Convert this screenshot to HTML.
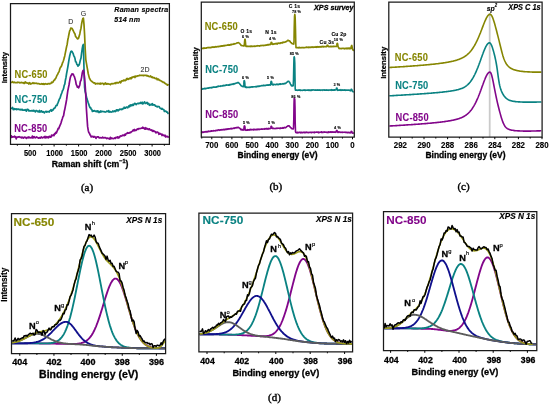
<!DOCTYPE html>
<html><head><meta charset="utf-8"><style>
html,body{margin:0;padding:0;background:#fff;width:550px;height:405px;overflow:hidden}
svg{display:block;will-change:transform;-webkit-font-smoothing:antialiased;filter:blur(0.35px)}
</style></head><body>
<svg width="550" height="405" viewBox="0 0 550 405">
<rect width="550" height="405" fill="#fff"/>
<path d="M10.8,82.3 11.4,82.5 12.0,82.3 12.6,81.7 13.2,82.6 13.8,82.5 14.4,82.1 15.0,82.6 15.6,82.5 16.2,82.6 16.8,82.5 17.4,82.7 18.0,82.2 18.6,82.5 19.2,82.4 19.8,82.9 20.4,82.7 21.0,82.6 21.6,82.4 22.2,82.7 22.8,82.8 23.4,82.7 24.0,83.4 24.6,83.3 25.2,81.9 25.8,82.2 26.4,82.9 27.0,82.9 27.6,83.2 28.2,83.2 28.8,84.0 29.4,82.7 30.0,83.0 30.6,84.0 31.2,83.5 31.8,83.6 32.4,83.1 33.0,82.7 33.6,83.5 34.2,83.5 34.8,83.0 35.4,83.3 36.0,83.5 36.6,83.2 37.2,83.6 37.8,83.7 38.4,83.7 39.0,83.6 39.6,84.0 40.2,84.2 40.8,84.0 41.4,83.6 42.0,84.2 42.6,83.8 43.2,84.3 43.8,83.6 44.4,84.4 45.0,84.0 45.6,83.6 46.2,84.0 46.8,84.1 47.4,84.2 48.0,83.7 48.6,83.6 49.2,84.0 49.8,83.5 50.4,83.6 51.0,83.5 51.6,82.2 52.2,82.6 52.8,82.5 53.4,81.2 54.0,80.3 54.6,80.0 55.2,78.9 55.8,78.2 56.4,76.7 57.0,75.2 57.6,74.5 58.2,73.0 58.8,72.1 59.4,70.5 60.0,68.3 60.6,67.2 61.2,66.6 61.8,65.2 62.4,63.2 63.0,61.8 63.6,60.2 64.2,58.1 64.8,55.7 65.4,52.7 66.0,49.7 66.6,46.6 67.2,44.2 67.8,39.8 68.4,37.2 69.0,34.0 69.6,31.1 70.2,29.8 70.8,28.0 71.4,28.3 72.0,28.4 72.6,29.5 73.2,30.7 73.8,31.9 74.4,33.0 75.0,34.0 75.6,36.6 76.2,37.1 76.8,37.9 77.4,38.9 78.0,38.8 78.6,38.1 79.2,36.0 79.8,33.9 80.4,30.7 81.0,28.2 81.6,24.0 82.2,20.9 82.8,18.7 83.4,18.1 84.0,24.5 84.6,34.9 85.2,49.3 85.8,59.6 86.4,63.2 87.0,66.7 87.6,69.8 88.2,73.5 88.8,75.9 89.4,78.1 90.0,79.2 90.6,80.4 91.2,80.9 91.8,81.2 92.4,82.0 93.0,82.2 93.6,82.9 94.2,82.8 94.8,82.9 95.4,84.0 96.0,83.5 96.6,83.5 97.2,83.8 97.8,83.4 98.4,83.6 99.0,83.8 99.6,83.8 100.2,83.2 100.8,84.1 101.4,83.5 102.0,83.3 102.6,83.4 103.2,83.6 103.8,84.5 104.4,83.4 105.0,83.9 105.6,83.0 106.2,83.9 106.8,84.2 107.4,83.8 108.0,83.6 108.6,84.0 109.2,84.2 109.8,84.2 110.4,84.7 111.0,84.0 111.6,83.6 112.2,83.8 112.8,83.7 113.4,83.7 114.0,83.5 114.6,83.5 115.2,82.6 115.8,83.5 116.4,82.8 117.0,82.3 117.6,82.9 118.2,83.0 118.8,82.5 119.4,82.1 120.0,81.5 120.6,82.8 121.2,81.8 121.8,80.8 122.4,80.8 123.0,80.9 123.6,80.1 124.2,80.6 124.8,80.1 125.4,80.6 126.0,80.3 126.6,78.6 127.2,79.4 127.8,78.5 128.4,79.4 129.0,78.8 129.6,78.7 130.2,77.8 130.8,78.7 131.4,78.6 132.0,77.2 132.6,77.5 133.2,76.9 133.8,77.0 134.4,76.4 135.0,77.5 135.6,76.2 136.2,76.3 136.8,76.5 137.4,75.9 138.0,75.9 138.6,75.7 139.2,75.7 139.8,75.2 140.4,75.4 141.0,75.4 141.6,75.3 142.2,75.4 142.8,75.3 143.4,75.7 144.0,75.3 144.6,75.4 145.2,75.3 145.8,75.4 146.4,75.3 147.0,76.1 147.6,75.6 148.2,75.9 148.8,76.5 149.4,76.6 150.0,76.5 150.6,76.0 151.2,77.2 151.8,77.3 152.4,76.9 153.0,77.9 153.6,77.6 154.2,77.6 154.8,78.3 155.4,78.4 156.0,78.7 156.6,78.2 157.2,79.8 157.8,79.1 158.4,79.0 159.0,80.2 159.6,80.1 160.2,80.7 160.8,80.7 161.4,81.1 162.0,81.6 162.6,81.6 163.2,82.5 163.8,82.4 164.4,82.6 165.0,83.4 165.6,83.9 166.2,84.0 166.8,84.2 167.4,85.2 168.0,84.7 168.6,85.4" fill="none" stroke="#868602" stroke-width="1.7" stroke-linejoin="round"/>
<path d="M10.8,108.5 11.4,108.3 12.0,108.4 12.6,107.4 13.2,109.6 13.8,109.4 14.4,108.7 15.0,109.3 15.6,109.2 16.2,108.8 16.8,109.7 17.4,109.1 18.0,109.1 18.6,109.0 19.2,109.7 19.8,109.4 20.4,109.8 21.0,109.3 21.6,109.8 22.2,109.3 22.8,110.2 23.4,110.0 24.0,110.1 24.6,110.2 25.2,109.6 25.8,110.5 26.4,111.2 27.0,109.4 27.6,109.4 28.2,109.6 28.8,110.8 29.4,110.5 30.0,111.0 30.6,110.9 31.2,110.7 31.8,110.8 32.4,110.6 33.0,111.2 33.6,110.3 34.2,110.7 34.8,111.1 35.4,111.9 36.0,110.7 36.6,110.6 37.2,110.9 37.8,111.7 38.4,111.2 39.0,112.0 39.6,110.5 40.2,112.0 40.8,112.0 41.4,110.8 42.0,111.7 42.6,112.2 43.2,111.7 43.8,112.2 44.4,112.9 45.0,111.9 45.6,111.6 46.2,111.4 46.8,112.1 47.4,111.7 48.0,111.7 48.6,111.7 49.2,112.0 49.8,110.9 50.4,110.4 51.0,109.7 51.6,111.1 52.2,110.2 52.8,110.4 53.4,109.2 54.0,108.3 54.6,108.4 55.2,107.5 55.8,106.1 56.4,105.3 57.0,105.4 57.6,103.5 58.2,102.3 58.8,100.6 59.4,99.0 60.0,98.3 60.6,96.3 61.2,94.3 61.8,93.0 62.4,91.0 63.0,89.8 63.6,88.4 64.2,85.3 64.8,84.1 65.4,80.2 66.0,77.4 66.6,73.5 67.2,70.4 67.8,67.1 68.4,63.5 69.0,59.6 69.6,56.3 70.2,53.9 70.8,51.6 71.4,51.1 72.0,51.5 72.6,52.6 73.2,53.7 73.8,55.9 74.4,56.8 75.0,58.6 75.6,61.8 76.2,62.0 76.8,64.4 77.4,64.7 78.0,66.1 78.6,64.8 79.2,65.0 79.8,62.5 80.4,59.9 81.0,58.1 81.6,53.2 82.2,49.0 82.8,45.6 83.4,44.4 84.0,69.0 84.6,87.4 85.2,91.8 85.8,93.8 86.4,96.6 87.0,99.1 87.6,100.8 88.2,102.7 88.8,104.4 89.4,106.1 90.0,107.6 90.6,107.6 91.2,109.3 91.8,109.6 92.4,111.5 93.0,110.8 93.6,111.2 94.2,110.6 94.8,110.8 95.4,111.4 96.0,111.2 96.6,111.7 97.2,110.8 97.8,111.9 98.4,111.2 99.0,112.5 99.6,111.6 100.2,112.2 100.8,111.0 101.4,111.9 102.0,111.3 102.6,111.5 103.2,111.7 103.8,111.5 104.4,111.8 105.0,112.1 105.6,112.0 106.2,111.7 106.8,111.0 107.4,111.3 108.0,111.6 108.6,110.6 109.2,112.1 109.8,111.6 110.4,111.6 111.0,112.2 111.6,112.0 112.2,111.7 112.8,111.0 113.4,111.6 114.0,111.5 114.6,110.8 115.2,111.6 115.8,111.2 116.4,109.8 117.0,110.6 117.6,109.8 118.2,110.8 118.8,110.4 119.4,109.3 120.0,109.2 120.6,109.4 121.2,109.1 121.8,109.7 122.4,109.2 123.0,108.4 123.6,108.7 124.2,107.2 124.8,108.2 125.4,108.2 126.0,107.5 126.6,107.0 127.2,107.4 127.8,107.8 128.4,106.7 129.0,105.8 129.6,106.8 130.2,104.9 130.8,105.8 131.4,105.0 132.0,105.6 132.6,104.5 133.2,105.4 133.8,104.7 134.4,103.5 135.0,103.3 135.6,103.9 136.2,104.6 136.8,103.8 137.4,103.6 138.0,103.3 138.6,103.7 139.2,103.4 139.8,103.2 140.4,102.5 141.0,103.5 141.6,103.5 142.2,102.2 142.8,104.0 143.4,103.2 144.0,102.6 144.6,101.9 145.2,103.3 145.8,103.3 146.4,102.9 147.0,102.4 147.6,104.0 148.2,103.3 148.8,103.5 149.4,105.3 150.0,105.1 150.6,104.7 151.2,104.2 151.8,104.9 152.4,103.7 153.0,105.1 153.6,104.8 154.2,104.8 154.8,104.8 155.4,106.1 156.0,106.1 156.6,106.4 157.2,107.0 157.8,106.4 158.4,106.5 159.0,106.5 159.6,107.5 160.2,108.4 160.8,108.3 161.4,109.0 162.0,108.4 162.6,109.2 163.2,109.4 163.8,109.5 164.4,111.5 165.0,111.4 165.6,111.0 166.2,111.4 166.8,112.2 167.4,112.0 168.0,113.4 168.6,112.9" fill="none" stroke="#0a8282" stroke-width="1.7" stroke-linejoin="round"/>
<path d="M10.8,138.0 11.4,135.8 12.0,137.3 12.6,136.8 13.2,136.9 13.8,137.0 14.4,136.1 15.0,137.0 15.6,136.7 16.2,138.9 16.8,137.3 17.4,137.1 18.0,137.1 18.6,136.9 19.2,136.7 19.8,137.1 20.4,137.5 21.0,137.2 21.6,137.8 22.2,137.2 22.8,137.4 23.4,138.1 24.0,137.6 24.6,137.1 25.2,137.3 25.8,137.7 26.4,138.4 27.0,137.3 27.6,137.3 28.2,137.9 28.8,137.0 29.4,137.3 30.0,137.9 30.6,137.7 31.2,137.5 31.8,137.8 32.4,136.0 33.0,138.0 33.6,137.0 34.2,136.6 34.8,137.6 35.4,137.8 36.0,137.3 36.6,136.9 37.2,137.5 37.8,137.5 38.4,138.2 39.0,137.9 39.6,137.6 40.2,138.1 40.8,137.4 41.4,137.0 42.0,137.8 42.6,137.8 43.2,137.4 43.8,137.1 44.4,137.6 45.0,136.3 45.6,137.8 46.2,137.7 46.8,136.7 47.4,137.5 48.0,137.0 48.6,137.8 49.2,136.3 49.8,136.6 50.4,137.2 51.0,137.1 51.6,135.1 52.2,135.6 52.8,135.7 53.4,134.8 54.0,135.5 54.6,133.6 55.2,133.8 55.8,132.4 56.4,133.0 57.0,131.4 57.6,130.2 58.2,128.3 58.8,128.6 59.4,126.8 60.0,125.4 60.6,124.2 61.2,122.3 61.8,120.2 62.4,118.5 63.0,116.6 63.6,115.7 64.2,111.8 64.8,109.3 65.4,106.2 66.0,103.0 66.6,99.7 67.2,95.1 67.8,90.9 68.4,87.9 69.0,85.0 69.6,81.4 70.2,78.1 70.8,76.1 71.4,75.0 72.0,73.8 72.6,74.3 73.2,74.1 73.8,75.6 74.4,76.7 75.0,78.7 75.6,80.9 76.2,84.4 76.8,85.5 77.4,87.1 78.0,86.6 78.6,87.8 79.2,86.6 79.8,85.0 80.4,81.2 81.0,80.4 81.6,77.3 82.2,73.3 82.8,71.0 83.4,70.1 84.0,73.1 84.6,78.7 85.2,86.0 85.8,95.7 86.4,108.8 87.0,117.7 87.6,126.4 88.2,130.2 88.8,132.6 89.4,133.1 90.0,134.8 90.6,135.4 91.2,136.9 91.8,136.7 92.4,136.4 93.0,136.4 93.6,137.1 94.2,136.6 94.8,136.6 95.4,137.4 96.0,138.4 96.6,137.2 97.2,137.1 97.8,136.8 98.4,136.8 99.0,137.8 99.6,138.0 100.2,137.6 100.8,137.8 101.4,137.8 102.0,137.9 102.6,137.1 103.2,137.7 103.8,138.0 104.4,137.6 105.0,137.8 105.6,137.7 106.2,138.0 106.8,138.6 107.4,138.0 108.0,138.2 108.6,138.7 109.2,138.6 109.8,139.1 110.4,137.3 111.0,138.7 111.6,138.0 112.2,138.3 112.8,138.6 113.4,138.6 114.0,138.5 114.6,137.9 115.2,138.5 115.8,137.4 116.4,137.4 117.0,137.7 117.6,136.8 118.2,138.0 118.8,137.2 119.4,137.6 120.0,136.3 120.6,135.9 121.2,136.0 121.8,136.1 122.4,135.2 123.0,135.5 123.6,135.1 124.2,135.7 124.8,134.3 125.4,135.0 126.0,133.9 126.6,133.4 127.2,133.3 127.8,132.7 128.4,133.1 129.0,133.2 129.6,132.5 130.2,132.4 130.8,132.6 131.4,131.7 132.0,131.4 132.6,130.9 133.2,130.0 133.8,130.9 134.4,129.5 135.0,130.5 135.6,130.0 136.2,130.3 136.8,129.5 137.4,128.9 138.0,129.3 138.6,128.7 139.2,128.7 139.8,128.7 140.4,128.5 141.0,128.4 141.6,128.0 142.2,128.2 142.8,127.2 143.4,128.2 144.0,127.8 144.6,129.0 145.2,129.2 145.8,127.7 146.4,128.8 147.0,128.8 147.6,128.6 148.2,129.5 148.8,129.2 149.4,128.8 150.0,129.7 150.6,130.0 151.2,130.4 151.8,129.9 152.4,131.1 153.0,131.4 153.6,130.6 154.2,131.1 154.8,131.6 155.4,131.6 156.0,132.9 156.6,132.4 157.2,132.0 157.8,132.3 158.4,132.9 159.0,134.3 159.6,133.3 160.2,133.7 160.8,134.1 161.4,134.1 162.0,135.5 162.6,134.4 163.2,135.3 163.8,135.3 164.4,135.8 165.0,135.2 165.6,136.9 166.2,136.3 166.8,136.6 167.4,136.4 168.0,136.8 168.6,137.8" fill="none" stroke="#82068a" stroke-width="1.7" stroke-linejoin="round"/>
<path d="M10.5,3.5 L169.4,3.5 L169.4,144.3 L10.5,144.3 Z" fill="none" stroke="#1a1a1a" stroke-width="1.25"/>
<line x1="29.6" y1="144.3" x2="29.6" y2="146.5" stroke="#000" stroke-width="1"/>
<text transform="translate(30.200000000000003 155.50) scale(1 1.1)" x="0" y="0" font-family="Liberation Sans" font-size="7.5" font-weight="bold" font-style="normal" text-anchor="middle" fill="#000" stroke="#000" stroke-width="0.12" >500</text>
<line x1="54.1" y1="144.3" x2="54.1" y2="146.5" stroke="#000" stroke-width="1"/>
<text transform="translate(54.7 155.50) scale(1 1.1)" x="0" y="0" font-family="Liberation Sans" font-size="7.5" font-weight="bold" font-style="normal" text-anchor="middle" fill="#000" stroke="#000" stroke-width="0.12" >1000</text>
<line x1="78.6" y1="144.3" x2="78.6" y2="146.5" stroke="#000" stroke-width="1"/>
<text transform="translate(79.19999999999999 155.50) scale(1 1.1)" x="0" y="0" font-family="Liberation Sans" font-size="7.5" font-weight="bold" font-style="normal" text-anchor="middle" fill="#000" stroke="#000" stroke-width="0.12" >1500</text>
<line x1="103.1" y1="144.3" x2="103.1" y2="146.5" stroke="#000" stroke-width="1"/>
<text transform="translate(103.69999999999999 155.50) scale(1 1.1)" x="0" y="0" font-family="Liberation Sans" font-size="7.5" font-weight="bold" font-style="normal" text-anchor="middle" fill="#000" stroke="#000" stroke-width="0.12" >2000</text>
<line x1="127.6" y1="144.3" x2="127.6" y2="146.5" stroke="#000" stroke-width="1"/>
<text transform="translate(128.2 155.50) scale(1 1.1)" x="0" y="0" font-family="Liberation Sans" font-size="7.5" font-weight="bold" font-style="normal" text-anchor="middle" fill="#000" stroke="#000" stroke-width="0.12" >2500</text>
<line x1="152.1" y1="144.3" x2="152.1" y2="146.5" stroke="#000" stroke-width="1"/>
<text transform="translate(152.7 155.50) scale(1 1.1)" x="0" y="0" font-family="Liberation Sans" font-size="7.5" font-weight="bold" font-style="normal" text-anchor="middle" fill="#000" stroke="#000" stroke-width="0.12" >3000</text>
<line x1="17.35" y1="144.3" x2="17.35" y2="145.8" stroke="#000" stroke-width="0.9"/>
<line x1="41.85" y1="144.3" x2="41.85" y2="145.8" stroke="#000" stroke-width="0.9"/>
<line x1="66.35" y1="144.3" x2="66.35" y2="145.8" stroke="#000" stroke-width="0.9"/>
<line x1="90.85" y1="144.3" x2="90.85" y2="145.8" stroke="#000" stroke-width="0.9"/>
<line x1="115.35" y1="144.3" x2="115.35" y2="145.8" stroke="#000" stroke-width="0.9"/>
<line x1="139.85" y1="144.3" x2="139.85" y2="145.8" stroke="#000" stroke-width="0.9"/>
<line x1="164.35" y1="144.3" x2="164.35" y2="145.8" stroke="#000" stroke-width="0.9"/>
<text transform="translate(90 167.20) scale(1 1.1)" x="0" y="0" font-family="Liberation Sans" font-size="8.7" font-weight="bold" font-style="normal" text-anchor="middle" fill="#000" stroke="#000" stroke-width="0.3" >Raman shift (cm<tspan dy="-3.5" font-size="5.5">−1</tspan><tspan dy="3.5">)</tspan></text>
<text x="7.2" y="67.7" font-family="Liberation Sans" font-size="7.6" font-weight="bold" font-style="normal" text-anchor="middle" fill="#000" stroke="#000" stroke-width="0.2" transform="rotate(-90 7.2 67.7)">Intensity</text>
<text transform="translate(14.5 78.30) scale(1 1.1)" x="0" y="0" font-family="Liberation Sans" font-size="9.3" font-weight="bold" font-style="normal" text-anchor="start" fill="#868602" stroke="#868602" stroke-width="0.08" letter-spacing="0.2">NC-650</text>
<text transform="translate(14.5 103.40) scale(1 1.1)" x="0" y="0" font-family="Liberation Sans" font-size="9.3" font-weight="bold" font-style="normal" text-anchor="start" fill="#0a8282" stroke="#0a8282" stroke-width="0.08" letter-spacing="0.2">NC-750</text>
<text transform="translate(14.2 132.00) scale(1 1.1)" x="0" y="0" font-family="Liberation Sans" font-size="9.3" font-weight="bold" font-style="normal" text-anchor="start" fill="#82068a" stroke="#82068a" stroke-width="0.08" letter-spacing="0.2">NC-850</text>
<text transform="translate(70.8 24.00) scale(1 1.1)" x="0" y="0" font-family="Liberation Sans" font-size="7.0" font-weight="normal" font-style="normal" text-anchor="middle" fill="#3a3a3a" stroke="#3a3a3a" stroke-width="0.12" >D</text>
<text transform="translate(83.4 15.70) scale(1 1.1)" x="0" y="0" font-family="Liberation Sans" font-size="7.0" font-weight="normal" font-style="normal" text-anchor="middle" fill="#3a3a3a" stroke="#3a3a3a" stroke-width="0.12" >G</text>
<text transform="translate(145 72.00) scale(1 1.1)" x="0" y="0" font-family="Liberation Sans" font-size="7.0" font-weight="normal" font-style="normal" text-anchor="middle" fill="#3a3a3a" stroke="#3a3a3a" stroke-width="0.12" >2D</text>
<text x="114.3" y="11.8" font-family="Liberation Sans" font-size="7.1" font-weight="bold" font-style="italic" text-anchor="start" fill="#000" stroke="#000" stroke-width="0.15" letter-spacing="0.25">Raman spectra</text>
<text x="114.3" y="21.6" font-family="Liberation Sans" font-size="7.1" font-weight="bold" font-style="italic" text-anchor="start" fill="#000" stroke="#000" stroke-width="0.15" letter-spacing="0.25">514 nm</text>
<text x="87" y="190.6" font-family="Liberation Serif" font-size="11" font-weight="normal" font-style="normal" text-anchor="middle" fill="#000" stroke="#000" stroke-width="0.4" >(a)</text>
<path d="M201.5,48.4 201.8,48.6 202.0,48.5 202.2,48.3 202.5,48.3 202.8,48.2 203.0,48.4 203.2,48.2 203.5,48.3 203.8,47.9 204.0,48.4 204.2,48.1 204.5,48.2 204.8,48.1 205.0,48.0 205.2,48.1 205.5,48.2 205.8,48.0 206.0,48.0 206.2,48.1 206.5,47.8 206.8,47.7 207.0,47.9 207.2,47.8 207.5,47.5 207.8,47.7 208.0,47.7 208.2,47.6 208.5,47.5 208.8,47.7 209.0,47.8 209.2,47.6 209.5,47.5 209.8,47.6 210.0,47.7 210.2,47.5 210.5,47.6 210.8,47.6 211.0,47.4 211.2,47.3 211.5,47.4 211.8,47.4 212.0,47.5 212.2,47.1 212.5,47.2 212.8,47.1 213.0,46.9 213.2,47.2 213.5,47.2 213.8,47.0 214.0,47.3 214.2,47.2 214.5,47.1 214.8,47.1 215.0,47.1 215.2,46.7 215.5,47.0 215.8,47.0 216.0,46.6 216.2,46.9 216.5,46.7 216.8,46.9 217.0,46.6 217.2,46.7 217.5,46.7 217.8,46.5 218.0,46.7 218.2,46.5 218.5,46.6 218.8,46.4 219.0,46.6 219.2,46.5 219.5,46.3 219.8,46.4 220.0,46.5 220.2,46.5 220.5,46.0 220.8,46.3 221.0,46.2 221.2,46.1 221.5,45.9 221.8,46.2 222.0,45.8 222.2,46.1 222.5,46.1 222.8,45.7 223.0,45.8 223.2,45.6 223.5,45.8 223.8,46.0 224.0,46.0 224.2,45.4 224.5,45.6 224.8,45.7 225.0,45.8 225.2,45.6 225.5,45.4 225.8,45.5 226.0,45.4 226.2,45.3 226.5,45.2 226.8,45.4 227.0,45.3 227.2,45.2 227.5,45.1 227.8,44.9 228.0,45.0 228.2,45.2 228.5,45.0 228.8,44.7 229.0,45.1 229.2,45.0 229.5,45.1 229.8,44.8 230.0,44.7 230.2,44.5 230.5,44.8 230.8,45.0 231.0,44.4 231.2,44.4 231.5,44.6 231.8,44.3 232.0,44.3 232.2,44.3 232.5,44.3 232.8,44.4 233.0,44.2 233.2,44.3 233.5,44.0 233.8,44.1 234.0,43.6 234.2,43.7 234.5,44.0 234.8,43.7 235.0,43.8 235.2,43.7 235.5,43.8 235.8,43.6 236.0,43.5 236.2,43.3 236.5,43.1 236.8,43.0 237.0,43.0 237.2,42.8 237.5,42.9 237.8,42.9 238.0,42.9 238.2,42.8 238.5,42.5 238.8,42.8 239.0,42.9 239.2,43.2 239.5,43.4 239.8,43.5 240.0,43.7 240.2,44.4 240.5,44.6 240.8,45.0 241.0,45.4 241.2,45.1 241.5,45.5 241.8,45.7 242.0,45.7 242.2,45.8 242.5,45.8 242.8,45.8 243.0,45.6 243.2,45.9 243.5,45.8 243.8,46.0 244.0,45.9 244.2,45.9 244.5,42.5 244.8,39.4 245.0,39.1 245.2,39.5 245.5,42.5 245.8,46.1 246.0,46.3 246.2,46.5 246.5,46.4 246.8,46.5 247.0,46.2 247.2,46.5 247.5,46.3 247.8,46.3 248.0,46.4 248.2,46.3 248.5,46.4 248.8,46.3 249.0,46.2 249.2,46.2 249.5,46.5 249.8,46.3 250.0,46.2 250.2,46.3 250.5,46.1 250.8,46.6 251.0,46.1 251.2,46.4 251.5,46.4 251.8,46.1 252.0,46.3 252.2,46.4 252.5,46.3 252.8,46.3 253.0,46.4 253.2,46.2 253.5,46.2 253.8,46.2 254.0,46.3 254.2,46.0 254.5,46.3 254.8,46.1 255.0,46.0 255.2,46.2 255.5,46.4 255.8,46.2 256.0,46.0 256.2,46.2 256.5,46.0 256.8,46.0 257.0,46.0 257.2,45.7 257.5,46.0 257.8,45.8 258.0,45.8 258.2,45.7 258.5,45.7 258.8,45.7 259.0,46.0 259.2,46.1 259.5,45.8 259.8,46.0 260.0,45.7 260.2,45.5 260.5,45.7 260.8,45.8 261.0,45.6 261.2,45.7 261.5,45.7 261.8,45.5 262.0,45.3 262.2,45.5 262.5,45.5 262.8,45.4 263.0,45.6 263.2,45.7 263.5,45.3 263.8,45.5 264.0,45.5 264.2,45.4 264.5,45.4 264.8,45.2 265.0,45.3 265.2,45.5 265.5,45.2 265.8,45.0 266.0,45.2 266.2,45.2 266.5,45.1 266.8,44.9 267.0,45.2 267.2,44.7 267.5,44.9 267.8,44.8 268.0,44.6 268.2,44.9 268.5,44.8 268.8,44.5 269.0,44.8 269.2,44.6 269.5,44.3 269.8,44.5 270.0,44.6 270.2,44.6 270.5,44.5 270.8,44.1 271.0,42.9 271.2,42.3 271.5,42.5 271.8,42.6 272.0,43.8 272.2,44.3 272.5,44.0 272.8,44.1 273.0,44.4 273.2,44.2 273.5,44.0 273.8,44.1 274.0,43.9 274.2,44.0 274.5,43.8 274.8,43.9 275.0,43.6 275.2,44.0 275.5,43.7 275.8,43.5 276.0,43.7 276.2,43.6 276.5,43.7 276.8,43.4 277.0,43.6 277.2,44.1 277.5,43.3 277.8,43.5 278.0,43.4 278.2,43.4 278.5,43.1 278.8,43.1 279.0,43.3 279.2,43.2 279.5,43.4 279.8,43.0 280.0,43.1 280.2,43.5 280.5,42.9 280.8,42.8 281.0,42.9 281.2,42.8 281.5,42.9 281.8,42.8 282.0,42.6 282.2,42.7 282.5,43.0 282.8,42.7 283.0,42.0 283.2,42.4 283.5,42.2 283.8,42.4 284.0,42.2 284.2,42.4 284.5,42.2 284.8,42.2 285.0,42.0 285.2,41.9 285.5,41.9 285.8,41.9 286.0,41.7 286.2,41.4 286.5,41.5 286.8,41.2 287.0,41.1 287.2,40.8 287.5,40.8 287.8,40.6 288.0,40.2 288.2,40.8 288.5,40.7 288.8,40.6 289.0,40.9 289.2,40.9 289.5,41.1 289.8,40.9 290.0,41.5 290.2,41.8 290.5,42.3 290.8,42.6 291.0,42.8 291.2,42.7 291.5,42.8 291.8,43.4 292.0,43.5 292.2,43.8 292.5,43.7 292.8,43.8 293.0,43.7 293.2,44.0 293.5,43.9 293.8,44.1 294.0,41.6 294.2,28.6 294.5,16.7 294.8,14.3 295.0,15.4 295.2,18.1 295.5,28.7 295.8,43.2 296.0,47.8 296.2,47.7 296.5,47.8 296.8,47.8 297.0,47.6 297.2,47.6 297.5,47.7 297.8,47.7 298.0,47.8 298.2,47.5 298.5,47.6 298.8,47.7 299.0,47.9 299.2,47.3 299.5,47.7 299.8,47.6 300.0,47.7 300.2,47.6 300.5,47.7 300.8,47.9 301.0,47.7 301.2,47.7 301.5,47.7 301.8,47.5 302.0,47.7 302.2,47.6 302.5,47.5 302.8,47.6 303.0,47.5 303.2,47.7 303.5,47.6 303.8,47.5 304.0,47.8 304.2,47.7 304.5,47.7 304.8,47.6 305.0,47.5 305.2,47.4 305.5,47.5 305.8,47.6 306.0,47.5 306.2,47.2 306.5,47.5 306.8,47.2 307.0,47.5 307.2,47.2 307.5,47.2 307.8,47.4 308.0,47.4 308.2,47.1 308.5,47.5 308.8,47.7 309.0,47.1 309.2,47.6 309.5,47.2 309.8,47.2 310.0,47.3 310.2,47.1 310.5,47.5 310.8,47.3 311.0,47.2 311.2,47.2 311.5,47.0 311.8,47.2 312.0,47.4 312.2,46.9 312.5,47.1 312.8,47.2 313.0,47.3 313.2,47.4 313.5,47.1 313.8,47.0 314.0,47.2 314.2,47.1 314.5,47.1 314.8,47.2 315.0,47.3 315.2,47.1 315.5,47.0 315.8,47.1 316.0,46.7 316.2,47.0 316.5,46.8 316.8,47.4 317.0,47.1 317.2,47.0 317.5,46.9 317.8,46.6 318.0,47.0 318.2,47.2 318.5,46.8 318.8,47.0 319.0,47.0 319.2,46.6 319.5,47.0 319.8,47.1 320.0,46.9 320.2,46.8 320.5,46.9 320.8,46.6 321.0,46.8 321.2,47.0 321.5,46.6 321.8,46.9 322.0,46.7 322.2,46.4 322.5,46.7 322.8,46.6 323.0,46.8 323.2,46.5 323.5,46.9 323.8,46.6 324.0,46.7 324.2,46.6 324.5,46.6 324.8,46.8 325.0,46.7 325.2,46.6 325.5,46.5 325.8,46.8 326.0,46.7 326.2,46.6 326.5,46.6 326.8,46.3 327.0,45.6 327.2,45.2 327.5,45.4 327.8,45.4 328.0,45.6 328.2,46.5 328.5,46.7 328.8,46.6 329.0,46.7 329.2,46.5 329.5,46.5 329.8,46.6 330.0,46.5 330.2,46.6 330.5,46.3 330.8,46.7 331.0,46.4 331.2,46.5 331.5,46.3 331.8,46.6 332.0,46.6 332.2,46.6 332.5,46.6 332.8,46.2 333.0,46.3 333.2,46.4 333.5,46.3 333.8,46.6 334.0,46.4 334.2,46.4 334.5,46.5 334.8,46.3 335.0,46.3 335.2,46.3 335.5,46.5 335.8,46.5 336.0,46.5 336.2,46.6 336.5,46.2 336.8,45.2 337.0,43.7 337.2,43.3 337.5,43.5 337.8,44.7 338.0,46.5 338.2,47.0 338.5,47.4 338.8,47.9 339.0,48.5 339.2,48.4 339.5,48.6 339.8,48.7 340.0,48.4 340.2,48.4 340.5,48.5 340.8,48.6 341.0,48.6 341.2,48.5 341.5,48.6 341.8,48.3 342.0,48.4 342.2,48.5 342.5,48.4 342.8,48.3 343.0,48.3 343.2,48.4 343.5,48.5 343.8,48.3 344.0,48.5 344.2,48.8 344.5,48.5 344.8,48.7 345.0,48.5 345.2,48.3 345.5,48.5 345.8,48.4 346.0,48.6 346.2,48.3 346.5,48.7 346.8,48.6 347.0,48.2 347.2,48.6 347.5,48.7 347.8,48.4 348.0,48.6 348.2,48.2 348.5,48.5 348.8,48.3 349.0,48.6 349.2,48.2 349.5,48.1 349.8,48.6 350.0,48.8 350.2,48.4 350.5,48.6 350.8,48.5 351.0,48.2 351.2,46.6 351.5,45.8 351.8,45.4 352.0,46.1 352.2,48.0 352.5,49.1 352.8,49.8 353.0,50.1 353.2,49.8 353.5,50.4 353.8,50.3" fill="none" stroke="#868602" stroke-width="1.6" stroke-linejoin="round"/>
<path d="M201.5,89.1 201.8,89.2 202.0,89.1 202.2,89.1 202.5,89.2 202.8,88.7 203.0,88.8 203.2,88.6 203.5,88.8 203.8,88.9 204.0,88.7 204.2,88.8 204.5,88.4 204.8,88.6 205.0,88.4 205.2,88.8 205.5,88.6 205.8,88.6 206.0,88.4 206.2,88.5 206.5,88.4 206.8,88.2 207.0,88.2 207.2,88.2 207.5,88.1 207.8,88.1 208.0,88.1 208.2,88.0 208.5,88.1 208.8,87.8 209.0,88.1 209.2,87.8 209.5,87.8 209.8,87.6 210.0,87.8 210.2,87.7 210.5,87.7 210.8,87.6 211.0,87.7 211.2,87.9 211.5,87.6 211.8,87.4 212.0,87.6 212.2,87.4 212.5,87.5 212.8,87.5 213.0,87.3 213.2,87.0 213.5,87.2 213.8,87.3 214.0,87.1 214.2,87.2 214.5,87.2 214.8,87.0 215.0,87.2 215.2,87.2 215.5,87.1 215.8,87.1 216.0,87.0 216.2,87.1 216.5,86.8 216.8,86.7 217.0,86.8 217.2,86.5 217.5,86.4 217.8,86.4 218.0,86.6 218.2,86.6 218.5,86.2 218.8,86.1 219.0,86.3 219.2,86.3 219.5,86.3 219.8,86.3 220.0,86.4 220.2,86.2 220.5,86.2 220.8,85.9 221.0,85.9 221.2,86.0 221.5,86.1 221.8,86.0 222.0,86.0 222.2,86.0 222.5,85.9 222.8,85.5 223.0,85.6 223.2,85.8 223.5,85.7 223.8,85.4 224.0,85.8 224.2,85.5 224.5,85.5 224.8,85.5 225.0,85.5 225.2,85.2 225.5,85.5 225.8,85.3 226.0,85.2 226.2,85.2 226.5,84.9 226.8,85.1 227.0,85.2 227.2,85.0 227.5,85.0 227.8,85.0 228.0,85.0 228.2,85.1 228.5,84.9 228.8,84.8 229.0,84.9 229.2,85.1 229.5,84.7 229.8,84.8 230.0,84.4 230.2,84.8 230.5,84.6 230.8,84.7 231.0,84.5 231.2,84.3 231.5,84.5 231.8,84.4 232.0,84.1 232.2,84.0 232.5,84.2 232.8,84.1 233.0,84.5 233.2,83.9 233.5,83.9 233.8,83.9 234.0,83.6 234.2,83.7 234.5,84.0 234.8,83.7 235.0,83.5 235.2,83.3 235.5,83.5 235.8,83.4 236.0,83.3 236.2,83.1 236.5,83.1 236.8,83.0 237.0,82.8 237.2,82.9 237.5,82.5 237.8,82.5 238.0,82.7 238.2,82.7 238.5,82.6 238.8,82.9 239.0,83.2 239.2,83.4 239.5,83.6 239.8,84.0 240.0,84.3 240.2,84.4 240.5,84.9 240.8,85.4 241.0,85.4 241.2,85.8 241.5,86.0 241.8,86.0 242.0,86.1 242.2,86.4 242.5,86.5 242.8,86.6 243.0,86.4 243.2,86.7 243.5,86.7 243.8,84.4 244.0,81.0 244.2,80.6 244.5,80.8 244.8,83.0 245.0,86.5 245.2,87.2 245.5,87.2 245.8,86.9 246.0,87.0 246.2,87.6 246.5,87.1 246.8,87.0 247.0,87.2 247.2,87.5 247.5,87.3 247.8,87.3 248.0,87.2 248.2,87.2 248.5,87.4 248.8,87.4 249.0,87.2 249.2,87.3 249.5,87.4 249.8,87.1 250.0,87.2 250.2,87.2 250.5,87.0 250.8,87.3 251.0,87.1 251.2,87.0 251.5,86.8 251.8,86.8 252.0,87.2 252.2,86.8 252.5,87.0 252.8,86.9 253.0,87.0 253.2,87.0 253.5,86.7 253.8,86.8 254.0,86.8 254.2,86.8 254.5,86.8 254.8,86.7 255.0,86.8 255.2,86.9 255.5,86.7 255.8,86.5 256.0,86.6 256.2,86.6 256.5,86.6 256.8,86.8 257.0,86.4 257.2,86.4 257.5,86.3 257.8,86.3 258.0,86.2 258.2,86.5 258.5,86.3 258.8,86.1 259.0,86.5 259.2,86.0 259.5,86.2 259.8,86.2 260.0,86.1 260.2,86.0 260.5,86.0 260.8,85.9 261.0,86.0 261.2,85.5 261.5,85.8 261.8,85.8 262.0,85.7 262.2,85.5 262.5,85.7 262.8,85.6 263.0,85.8 263.2,85.8 263.5,85.6 263.8,85.2 264.0,85.5 264.2,85.3 264.5,85.5 264.8,85.7 265.0,85.4 265.2,85.6 265.5,85.5 265.8,85.4 266.0,85.1 266.2,85.2 266.5,85.0 266.8,85.3 267.0,85.2 267.2,85.3 267.5,85.1 267.8,84.8 268.0,85.1 268.2,85.1 268.5,85.2 268.8,84.8 269.0,84.8 269.2,84.9 269.5,84.7 269.8,84.7 270.0,84.7 270.2,85.2 270.5,84.6 270.8,83.3 271.0,81.5 271.2,81.3 271.5,81.6 271.8,82.6 272.0,84.5 272.2,84.7 272.5,84.7 272.8,84.5 273.0,84.4 273.2,84.9 273.5,84.5 273.8,84.7 274.0,84.5 274.2,84.5 274.5,84.5 274.8,84.3 275.0,84.5 275.2,84.6 275.5,84.6 275.8,84.5 276.0,84.6 276.2,84.5 276.5,84.4 276.8,84.1 277.0,84.3 277.2,84.6 277.5,84.4 277.8,84.5 278.0,84.3 278.2,84.2 278.5,84.6 278.8,84.3 279.0,84.5 279.2,84.3 279.5,84.2 279.8,83.9 280.0,84.2 280.2,83.9 280.5,83.8 280.8,84.3 281.0,84.2 281.2,84.1 281.5,84.0 281.8,84.0 282.0,84.0 282.2,84.0 282.5,83.9 282.8,84.0 283.0,83.5 283.2,83.9 283.5,83.7 283.8,83.9 284.0,83.9 284.2,83.5 284.5,83.7 284.8,83.7 285.0,83.4 285.2,83.4 285.5,83.4 285.8,83.0 286.0,83.1 286.2,83.0 286.5,82.6 286.8,82.2 287.0,82.1 287.2,82.1 287.5,81.9 287.8,81.4 288.0,81.2 288.2,81.2 288.5,81.2 288.8,81.2 289.0,81.5 289.2,81.9 289.5,82.4 289.8,82.3 290.0,83.3 290.2,83.6 290.5,84.2 290.8,84.5 291.0,85.0 291.2,85.5 291.5,85.1 291.8,85.9 292.0,85.8 292.2,85.6 292.5,85.5 292.8,86.0 293.0,85.8 293.2,85.8 293.5,79.5 293.8,64.8 294.0,57.3 294.2,56.8 294.5,58.0 294.8,63.2 295.0,77.5 295.2,88.9 295.5,90.3 295.8,90.0 296.0,90.2 296.2,90.2 296.5,90.1 296.8,90.0 297.0,90.1 297.2,90.2 297.5,90.2 297.8,90.4 298.0,90.1 298.2,90.1 298.5,90.1 298.8,90.1 299.0,90.1 299.2,89.9 299.5,90.2 299.8,90.3 300.0,90.4 300.2,90.0 300.5,90.2 300.8,90.5 301.0,90.2 301.2,90.2 301.5,90.2 301.8,90.3 302.0,90.3 302.2,90.5 302.5,90.3 302.8,90.2 303.0,90.0 303.2,90.1 303.5,90.1 303.8,90.1 304.0,90.0 304.2,90.4 304.5,90.0 304.8,90.2 305.0,90.0 305.2,90.2 305.5,90.4 305.8,90.0 306.0,90.2 306.2,90.2 306.5,90.2 306.8,90.2 307.0,90.1 307.2,90.1 307.5,90.1 307.8,90.0 308.0,90.0 308.2,90.3 308.5,90.0 308.8,90.2 309.0,90.2 309.2,90.0 309.5,90.3 309.8,90.0 310.0,90.2 310.2,90.4 310.5,90.0 310.8,90.0 311.0,90.0 311.2,90.5 311.5,90.1 311.8,89.9 312.0,90.2 312.2,90.1 312.5,90.1 312.8,90.0 313.0,89.8 313.2,90.0 313.5,90.0 313.8,89.9 314.0,89.9 314.2,90.0 314.5,90.2 314.8,90.2 315.0,90.2 315.2,90.0 315.5,89.9 315.8,90.1 316.0,90.2 316.2,90.2 316.5,90.1 316.8,90.1 317.0,90.1 317.2,89.9 317.5,90.0 317.8,90.2 318.0,89.9 318.2,90.1 318.5,90.2 318.8,90.1 319.0,90.1 319.2,89.9 319.5,90.1 319.8,90.0 320.0,90.2 320.2,90.1 320.5,90.1 320.8,90.3 321.0,90.1 321.2,90.0 321.5,90.0 321.8,90.1 322.0,90.0 322.2,90.3 322.5,90.1 322.8,90.0 323.0,90.0 323.2,89.9 323.5,90.0 323.8,90.2 324.0,90.2 324.2,90.0 324.5,90.1 324.8,89.8 325.0,90.2 325.2,90.0 325.5,90.2 325.8,90.0 326.0,90.0 326.2,90.1 326.5,89.9 326.8,90.2 327.0,90.1 327.2,90.1 327.5,90.1 327.8,90.0 328.0,90.1 328.2,90.0 328.5,90.3 328.8,90.0 329.0,90.1 329.2,90.0 329.5,90.0 329.8,90.0 330.0,90.2 330.2,90.0 330.5,90.2 330.8,90.0 331.0,90.0 331.2,89.7 331.5,90.1 331.8,90.3 332.0,90.0 332.2,90.2 332.5,90.1 332.8,89.9 333.0,90.1 333.2,89.9 333.5,90.0 333.8,90.2 334.0,90.0 334.2,89.8 334.5,90.2 334.8,89.9 335.0,90.0 335.2,90.0 335.5,90.0 335.8,89.9 336.0,89.6 336.2,89.1 336.5,88.1 336.8,88.1 337.0,88.0 337.2,89.3 337.5,90.2 337.8,90.2 338.0,90.4 338.2,90.3 338.5,90.1 338.8,90.0 339.0,90.2 339.2,90.0 339.5,90.1 339.8,89.9 340.0,90.1 340.2,90.3 340.5,90.0 340.8,90.1 341.0,89.7 341.2,90.3 341.5,90.1 341.8,90.3 342.0,90.1 342.2,90.0 342.5,89.9 342.8,90.2 343.0,90.1 343.2,90.0 343.5,90.1 343.8,90.0 344.0,90.2 344.2,90.1 344.5,89.9 344.8,90.1 345.0,90.1 345.2,90.4 345.5,90.1 345.8,90.0 346.0,90.2 346.2,90.1 346.5,90.2 346.8,90.2 347.0,90.1 347.2,90.2 347.5,90.2 347.8,90.1 348.0,90.2 348.2,90.3 348.5,90.0 348.8,90.1 349.0,90.2 349.2,90.3 349.5,90.4 349.8,90.2 350.0,90.5 350.2,90.6 350.5,90.8 350.8,90.5 351.0,90.1 351.2,89.2 351.5,89.3 351.8,89.6 352.0,89.7 352.2,91.0 352.5,91.4 352.8,91.6 353.0,91.5 353.2,91.8 353.5,91.8 353.8,91.7" fill="none" stroke="#0a8282" stroke-width="1.6" stroke-linejoin="round"/>
<path d="M201.5,132.6 201.8,131.8 202.0,132.4 202.2,132.2 202.5,132.4 202.8,132.2 203.0,132.4 203.2,132.1 203.5,132.0 203.8,132.1 204.0,132.1 204.2,131.9 204.5,131.9 204.8,132.0 205.0,132.0 205.2,131.8 205.5,131.8 205.8,131.5 206.0,132.0 206.2,131.7 206.5,131.9 206.8,131.7 207.0,131.9 207.2,131.8 207.5,131.6 207.8,131.8 208.0,131.4 208.2,131.7 208.5,131.2 208.8,131.5 209.0,131.5 209.2,131.4 209.5,131.3 209.8,131.2 210.0,131.2 210.2,131.4 210.5,131.3 210.8,131.1 211.0,130.9 211.2,131.2 211.5,130.8 211.8,131.0 212.0,130.9 212.2,131.1 212.5,131.0 212.8,131.0 213.0,130.9 213.2,130.7 213.5,130.9 213.8,131.0 214.0,130.7 214.2,130.8 214.5,130.7 214.8,130.8 215.0,130.7 215.2,130.7 215.5,130.6 215.8,130.8 216.0,130.5 216.2,130.4 216.5,130.4 216.8,130.5 217.0,130.3 217.2,130.3 217.5,130.4 217.8,130.5 218.0,130.3 218.2,129.8 218.5,130.0 218.8,130.0 219.0,129.9 219.2,130.0 219.5,130.3 219.8,130.0 220.0,129.9 220.2,130.1 220.5,129.9 220.8,129.9 221.0,129.8 221.2,129.8 221.5,129.9 221.8,129.5 222.0,129.5 222.2,129.9 222.5,129.8 222.8,129.6 223.0,129.5 223.2,129.6 223.5,129.4 223.8,129.5 224.0,129.8 224.2,129.5 224.5,129.6 224.8,129.4 225.0,129.5 225.2,129.6 225.5,129.1 225.8,129.3 226.0,129.3 226.2,129.3 226.5,129.5 226.8,129.3 227.0,128.9 227.2,129.1 227.5,129.0 227.8,128.9 228.0,129.3 228.2,128.8 228.5,129.0 228.8,128.8 229.0,129.0 229.2,128.9 229.5,128.9 229.8,128.8 230.0,128.9 230.2,128.6 230.5,128.6 230.8,128.5 231.0,128.8 231.2,128.6 231.5,128.4 231.8,128.5 232.0,128.9 232.2,128.5 232.5,128.6 232.8,128.5 233.0,128.4 233.2,128.2 233.5,128.2 233.8,128.2 234.0,127.9 234.2,128.5 234.5,128.2 234.8,128.1 235.0,128.0 235.2,127.8 235.5,128.0 235.8,127.8 236.0,127.8 236.2,127.5 236.5,127.7 236.8,127.9 237.0,127.5 237.2,127.6 237.5,127.4 237.8,127.6 238.0,127.6 238.2,127.4 238.5,127.4 238.8,127.6 239.0,127.7 239.2,127.7 239.5,128.1 239.8,128.3 240.0,128.3 240.2,128.6 240.5,129.3 240.8,129.2 241.0,129.3 241.2,129.9 241.5,129.6 241.8,129.4 242.0,129.6 242.2,129.7 242.5,130.0 242.8,130.1 243.0,129.6 243.2,130.1 243.5,129.8 243.8,129.9 244.0,127.9 244.2,126.1 244.5,125.9 244.8,126.1 245.0,127.6 245.2,129.9 245.5,130.1 245.8,130.1 246.0,130.3 246.2,130.1 246.5,130.0 246.8,130.2 247.0,129.9 247.2,129.7 247.5,129.6 247.8,130.1 248.0,130.0 248.2,130.0 248.5,129.8 248.8,129.9 249.0,130.1 249.2,129.9 249.5,129.6 249.8,129.7 250.0,130.0 250.2,129.6 250.5,129.4 250.8,129.4 251.0,129.5 251.2,129.9 251.5,129.7 251.8,129.6 252.0,129.5 252.2,129.7 252.5,129.7 252.8,129.6 253.0,129.6 253.2,129.5 253.5,129.9 253.8,129.3 254.0,129.6 254.2,129.4 254.5,129.7 254.8,129.5 255.0,129.6 255.2,129.6 255.5,129.6 255.8,129.7 256.0,129.3 256.2,129.6 256.5,129.4 256.8,129.5 257.0,129.7 257.2,129.6 257.5,129.7 257.8,129.1 258.0,129.2 258.2,129.5 258.5,129.2 258.8,129.3 259.0,129.6 259.2,129.4 259.5,129.2 259.8,129.3 260.0,129.4 260.2,129.3 260.5,129.2 260.8,129.2 261.0,129.0 261.2,129.2 261.5,129.0 261.8,129.2 262.0,129.2 262.2,129.0 262.5,129.2 262.8,129.2 263.0,129.1 263.2,129.2 263.5,129.0 263.8,129.0 264.0,129.0 264.2,129.0 264.5,129.2 264.8,128.6 265.0,128.9 265.2,128.6 265.5,128.9 265.8,129.0 266.0,128.9 266.2,129.0 266.5,128.9 266.8,128.4 267.0,128.7 267.2,129.1 267.5,129.0 267.8,128.8 268.0,128.5 268.2,129.1 268.5,128.4 268.8,128.8 269.0,128.7 269.2,128.7 269.5,128.5 269.8,128.6 270.0,128.8 270.2,128.6 270.5,128.4 270.8,127.7 271.0,126.5 271.2,126.3 271.5,126.2 271.8,127.1 272.0,128.3 272.2,128.3 272.5,128.5 272.8,128.5 273.0,128.5 273.2,128.2 273.5,128.4 273.8,128.5 274.0,128.6 274.2,128.5 274.5,128.5 274.8,128.5 275.0,128.6 275.2,128.7 275.5,128.5 275.8,128.3 276.0,128.5 276.2,128.1 276.5,128.4 276.8,128.3 277.0,128.3 277.2,128.4 277.5,128.3 277.8,128.1 278.0,128.3 278.2,128.2 278.5,128.3 278.8,128.3 279.0,128.1 279.2,128.4 279.5,128.4 279.8,128.2 280.0,128.3 280.2,128.0 280.5,128.1 280.8,128.3 281.0,127.9 281.2,128.1 281.5,128.0 281.8,128.3 282.0,128.3 282.2,128.0 282.5,128.1 282.8,127.6 283.0,128.1 283.2,128.0 283.5,128.1 283.8,127.6 284.0,127.9 284.2,127.8 284.5,127.4 284.8,127.7 285.0,127.8 285.2,127.9 285.5,127.7 285.8,127.5 286.0,127.5 286.2,127.3 286.5,126.9 286.8,126.6 287.0,126.5 287.2,126.3 287.5,126.3 287.8,125.8 288.0,126.0 288.2,125.8 288.5,125.9 288.8,125.7 289.0,125.8 289.2,126.1 289.5,126.5 289.8,126.6 290.0,127.0 290.2,127.1 290.5,127.5 290.8,127.7 291.0,127.8 291.2,128.2 291.5,128.3 291.8,128.7 292.0,128.6 292.2,128.7 292.5,128.7 292.8,129.0 293.0,129.0 293.2,129.0 293.5,128.0 293.8,119.1 294.0,104.2 294.2,98.3 294.5,98.5 294.8,99.4 295.0,106.7 295.2,122.4 295.5,131.6 295.8,132.5 296.0,132.6 296.2,132.4 296.5,132.4 296.8,132.5 297.0,132.7 297.2,132.9 297.5,132.3 297.8,132.5 298.0,132.4 298.2,132.7 298.5,132.6 298.8,132.7 299.0,132.3 299.2,132.5 299.5,132.4 299.8,132.3 300.0,132.5 300.2,132.3 300.5,132.8 300.8,132.5 301.0,132.3 301.2,132.4 301.5,132.7 301.8,132.4 302.0,132.6 302.2,132.6 302.5,132.6 302.8,132.6 303.0,132.4 303.2,132.4 303.5,132.2 303.8,132.4 304.0,132.5 304.2,132.4 304.5,132.4 304.8,132.3 305.0,132.8 305.2,132.4 305.5,132.3 305.8,132.3 306.0,132.4 306.2,132.5 306.5,132.1 306.8,132.5 307.0,132.3 307.2,132.4 307.5,132.6 307.8,132.5 308.0,132.3 308.2,132.4 308.5,132.7 308.8,132.6 309.0,132.5 309.2,132.4 309.5,132.5 309.8,132.4 310.0,132.3 310.2,132.2 310.5,132.4 310.8,132.4 311.0,132.5 311.2,132.3 311.5,132.6 311.8,132.3 312.0,132.5 312.2,132.4 312.5,132.3 312.8,132.2 313.0,132.3 313.2,132.3 313.5,132.5 313.8,132.2 314.0,132.1 314.2,132.3 314.5,132.6 314.8,132.6 315.0,132.2 315.2,132.3 315.5,132.3 315.8,132.2 316.0,132.3 316.2,132.2 316.5,132.1 316.8,132.2 317.0,132.2 317.2,132.3 317.5,132.1 317.8,132.3 318.0,132.1 318.2,132.1 318.5,132.1 318.8,132.8 319.0,132.4 319.2,132.4 319.5,132.4 319.8,132.2 320.0,132.2 320.2,132.3 320.5,132.3 320.8,132.3 321.0,132.4 321.2,131.8 321.5,132.1 321.8,132.3 322.0,132.1 322.2,132.2 322.5,132.4 322.8,132.2 323.0,132.5 323.2,132.2 323.5,132.2 323.8,132.0 324.0,131.9 324.2,132.1 324.5,132.2 324.8,132.1 325.0,132.0 325.2,132.3 325.5,132.2 325.8,132.2 326.0,132.0 326.2,132.4 326.5,132.4 326.8,132.2 327.0,132.1 327.2,132.2 327.5,132.4 327.8,132.6 328.0,132.1 328.2,132.1 328.5,131.9 328.8,132.5 329.0,132.0 329.2,132.3 329.5,132.2 329.8,132.3 330.0,132.0 330.2,131.9 330.5,132.1 330.8,132.2 331.0,132.3 331.2,131.9 331.5,132.0 331.8,132.1 332.0,131.9 332.2,132.1 332.5,132.2 332.8,132.1 333.0,131.9 333.2,132.2 333.5,132.2 333.8,132.2 334.0,132.2 334.2,131.9 334.5,132.2 334.8,132.2 335.0,132.0 335.2,132.1 335.5,132.0 335.8,132.3 336.0,132.0 336.2,131.3 336.5,130.6 336.8,130.4 337.0,130.5 337.2,130.9 337.5,131.9 337.8,132.2 338.0,132.5 338.2,132.2 338.5,131.9 338.8,132.2 339.0,132.0 339.2,131.9 339.5,132.0 339.8,132.1 340.0,132.2 340.2,132.4 340.5,132.3 340.8,132.3 341.0,132.1 341.2,132.2 341.5,132.2 341.8,132.4 342.0,132.1 342.2,132.1 342.5,132.4 342.8,132.3 343.0,132.2 343.2,132.3 343.5,132.3 343.8,132.3 344.0,132.4 344.2,132.3 344.5,132.3 344.8,132.2 345.0,132.0 345.2,132.3 345.5,132.5 345.8,132.4 346.0,132.3 346.2,132.3 346.5,132.2 346.8,132.4 347.0,132.7 347.2,132.7 347.5,132.6 347.8,132.6 348.0,132.4 348.2,132.3 348.5,132.5 348.8,132.4 349.0,132.6 349.2,132.5 349.5,132.5 349.8,132.6 350.0,133.0 350.2,132.5 350.5,132.8 350.8,132.8 351.0,132.3 351.2,131.4 351.5,131.4 351.8,131.5 352.0,131.9 352.2,132.9 352.5,133.1 352.8,133.0 353.0,133.2 353.2,133.2 353.5,133.1 353.8,133.5" fill="none" stroke="#82068a" stroke-width="1.6" stroke-linejoin="round"/>
<path d="M201.3,2.1 L354.3,2.1 L354.3,137.1 L201.3,137.1 Z" fill="none" stroke="#1a1a1a" stroke-width="1.25"/>
<line x1="352.5" y1="137.1" x2="352.5" y2="139.3" stroke="#000" stroke-width="1"/>
<text transform="translate(352.5 148.10) scale(1 1.1)" x="0" y="0" font-family="Liberation Sans" font-size="7.9" font-weight="bold" font-style="normal" text-anchor="middle" fill="#000" stroke="#000" stroke-width="0.12" >0</text>
<line x1="332.4" y1="137.1" x2="332.4" y2="139.3" stroke="#000" stroke-width="1"/>
<text transform="translate(332.4 148.10) scale(1 1.1)" x="0" y="0" font-family="Liberation Sans" font-size="7.9" font-weight="bold" font-style="normal" text-anchor="middle" fill="#000" stroke="#000" stroke-width="0.12" >100</text>
<line x1="312.3" y1="137.1" x2="312.3" y2="139.3" stroke="#000" stroke-width="1"/>
<text transform="translate(312.3 148.10) scale(1 1.1)" x="0" y="0" font-family="Liberation Sans" font-size="7.9" font-weight="bold" font-style="normal" text-anchor="middle" fill="#000" stroke="#000" stroke-width="0.12" >200</text>
<line x1="292.2" y1="137.1" x2="292.2" y2="139.3" stroke="#000" stroke-width="1"/>
<text transform="translate(292.2 148.10) scale(1 1.1)" x="0" y="0" font-family="Liberation Sans" font-size="7.9" font-weight="bold" font-style="normal" text-anchor="middle" fill="#000" stroke="#000" stroke-width="0.12" >300</text>
<line x1="272.1" y1="137.1" x2="272.1" y2="139.3" stroke="#000" stroke-width="1"/>
<text transform="translate(272.1 148.10) scale(1 1.1)" x="0" y="0" font-family="Liberation Sans" font-size="7.9" font-weight="bold" font-style="normal" text-anchor="middle" fill="#000" stroke="#000" stroke-width="0.12" >400</text>
<line x1="252.0" y1="137.1" x2="252.0" y2="139.3" stroke="#000" stroke-width="1"/>
<text transform="translate(252.0 148.10) scale(1 1.1)" x="0" y="0" font-family="Liberation Sans" font-size="7.9" font-weight="bold" font-style="normal" text-anchor="middle" fill="#000" stroke="#000" stroke-width="0.12" >500</text>
<line x1="231.89999999999998" y1="137.1" x2="231.89999999999998" y2="139.3" stroke="#000" stroke-width="1"/>
<text transform="translate(231.89999999999998 148.10) scale(1 1.1)" x="0" y="0" font-family="Liberation Sans" font-size="7.9" font-weight="bold" font-style="normal" text-anchor="middle" fill="#000" stroke="#000" stroke-width="0.12" >600</text>
<line x1="211.79999999999998" y1="137.1" x2="211.79999999999998" y2="139.3" stroke="#000" stroke-width="1"/>
<text transform="translate(211.79999999999998 148.10) scale(1 1.1)" x="0" y="0" font-family="Liberation Sans" font-size="7.9" font-weight="bold" font-style="normal" text-anchor="middle" fill="#000" stroke="#000" stroke-width="0.12" >700</text>
<line x1="342.45" y1="137.1" x2="342.45" y2="138.6" stroke="#000" stroke-width="0.9"/>
<line x1="322.35" y1="137.1" x2="322.35" y2="138.6" stroke="#000" stroke-width="0.9"/>
<line x1="302.25" y1="137.1" x2="302.25" y2="138.6" stroke="#000" stroke-width="0.9"/>
<line x1="282.15" y1="137.1" x2="282.15" y2="138.6" stroke="#000" stroke-width="0.9"/>
<line x1="262.05" y1="137.1" x2="262.05" y2="138.6" stroke="#000" stroke-width="0.9"/>
<line x1="241.95" y1="137.1" x2="241.95" y2="138.6" stroke="#000" stroke-width="0.9"/>
<line x1="221.85" y1="137.1" x2="221.85" y2="138.6" stroke="#000" stroke-width="0.9"/>
<line x1="201.75" y1="137.1" x2="201.75" y2="138.6" stroke="#000" stroke-width="0.9"/>
<text transform="translate(277.6 157.80) scale(1 1.1)" x="0" y="0" font-family="Liberation Sans" font-size="8.5" font-weight="bold" font-style="normal" text-anchor="middle" fill="#000" stroke="#000" stroke-width="0.3" >Binding energy (eV)</text>
<text x="198.4" y="63.0" font-family="Liberation Sans" font-size="7.7" font-weight="bold" font-style="normal" text-anchor="middle" fill="#000" stroke="#000" stroke-width="0.2" transform="rotate(-90 198.4 63.0)">Intensity</text>
<text transform="translate(204.7 30.30) scale(1 1.1)" x="0" y="0" font-family="Liberation Sans" font-size="9.3" font-weight="bold" font-style="normal" text-anchor="start" fill="#868602" stroke="#868602" stroke-width="0.08" letter-spacing="0.2">NC-650</text>
<text transform="translate(205.2 72.70) scale(1 1.1)" x="0" y="0" font-family="Liberation Sans" font-size="9.3" font-weight="bold" font-style="normal" text-anchor="start" fill="#0a8282" stroke="#0a8282" stroke-width="0.08" letter-spacing="0.2">NC-750</text>
<text transform="translate(205.2 117.70) scale(1 1.1)" x="0" y="0" font-family="Liberation Sans" font-size="9.3" font-weight="bold" font-style="normal" text-anchor="start" fill="#82068a" stroke="#82068a" stroke-width="0.08" letter-spacing="0.2">NC-850</text>
<text transform="translate(353.6 9.80) scale(1 1.1)" x="0" y="0" font-family="Liberation Sans" font-size="7.2" font-weight="bold" font-style="italic" text-anchor="end" fill="#000" stroke="#000" stroke-width="0.3" >XPS survey</text>
<text x="294.5" y="7.499999999999999" font-family="Liberation Sans" font-size="5.0" font-weight="bold" font-style="normal" text-anchor="middle" fill="#000" stroke="#000" stroke-width="0.12" letter-spacing="0.2">C 1s</text>
<text x="296.5" y="12.8" font-family="Liberation Sans" font-size="3.8" font-weight="bold" font-style="normal" text-anchor="middle" fill="#000" stroke="#000" stroke-width="0.12" letter-spacing="0.1">78 %</text>
<text x="246.4" y="33.4" font-family="Liberation Sans" font-size="5.0" font-weight="bold" font-style="normal" text-anchor="middle" fill="#000" stroke="#000" stroke-width="0.12" letter-spacing="0.2">O 1s</text>
<text x="245.5" y="37.8" font-family="Liberation Sans" font-size="3.8" font-weight="bold" font-style="normal" text-anchor="middle" fill="#000" stroke="#000" stroke-width="0.12" letter-spacing="0.1">6 %</text>
<text x="271.0" y="33.9" font-family="Liberation Sans" font-size="5.0" font-weight="bold" font-style="normal" text-anchor="middle" fill="#000" stroke="#000" stroke-width="0.12" letter-spacing="0.2">N 1s</text>
<text x="272.3" y="40.4" font-family="Liberation Sans" font-size="3.8" font-weight="bold" font-style="normal" text-anchor="middle" fill="#000" stroke="#000" stroke-width="0.12" letter-spacing="0.1">4 %</text>
<text x="326.9" y="43.9" font-family="Liberation Sans" font-size="5.0" font-weight="bold" font-style="normal" text-anchor="middle" fill="#000" stroke="#000" stroke-width="0.12" letter-spacing="0.2">Cu 3s</text>
<text x="339.0" y="35.599999999999994" font-family="Liberation Sans" font-size="5.0" font-weight="bold" font-style="normal" text-anchor="middle" fill="#000" stroke="#000" stroke-width="0.12" letter-spacing="0.2">Cu 2p</text>
<text x="338.4" y="40.6" font-family="Liberation Sans" font-size="3.8" font-weight="bold" font-style="normal" text-anchor="middle" fill="#000" stroke="#000" stroke-width="0.12" letter-spacing="0.1">10 %</text>
<text x="245.5" y="78.9" font-family="Liberation Sans" font-size="3.8" font-weight="bold" font-style="normal" text-anchor="middle" fill="#000" stroke="#000" stroke-width="0.12" letter-spacing="0.1">6 %</text>
<text x="270.5" y="78.9" font-family="Liberation Sans" font-size="3.8" font-weight="bold" font-style="normal" text-anchor="middle" fill="#000" stroke="#000" stroke-width="0.12" letter-spacing="0.1">5 %</text>
<text x="294.3" y="55.0" font-family="Liberation Sans" font-size="3.8" font-weight="bold" font-style="normal" text-anchor="middle" fill="#000" stroke="#000" stroke-width="0.12" letter-spacing="0.1">85 %</text>
<text x="336.8" y="85.8" font-family="Liberation Sans" font-size="3.8" font-weight="bold" font-style="normal" text-anchor="middle" fill="#000" stroke="#000" stroke-width="0.12" letter-spacing="0.1">3 %</text>
<text x="246.4" y="123.9" font-family="Liberation Sans" font-size="3.8" font-weight="bold" font-style="normal" text-anchor="middle" fill="#000" stroke="#000" stroke-width="0.12" letter-spacing="0.1">5 %</text>
<text x="271.5" y="123.9" font-family="Liberation Sans" font-size="3.8" font-weight="bold" font-style="normal" text-anchor="middle" fill="#000" stroke="#000" stroke-width="0.12" letter-spacing="0.1">5 %</text>
<text x="295.9" y="97.8" font-family="Liberation Sans" font-size="3.8" font-weight="bold" font-style="normal" text-anchor="middle" fill="#000" stroke="#000" stroke-width="0.12" letter-spacing="0.1">86 %</text>
<text x="337.5" y="128.6" font-family="Liberation Sans" font-size="3.8" font-weight="bold" font-style="normal" text-anchor="middle" fill="#000" stroke="#000" stroke-width="0.12" letter-spacing="0.1">4 %</text>
<text x="275.8" y="190.4" font-family="Liberation Serif" font-size="11" font-weight="normal" font-style="normal" text-anchor="middle" fill="#000" stroke="#000" stroke-width="0.4" >(b)</text>
<line x1="489.7" y1="13" x2="489.7" y2="137" stroke="#cacaca" stroke-width="1.8"/>
<path d="M389.3,67.5 389.8,67.5 390.3,67.5 390.8,67.4 391.3,67.4 391.8,67.4 392.3,67.3 392.8,67.3 393.3,67.3 393.8,67.2 394.3,67.2 394.8,67.2 395.3,67.1 395.8,67.1 396.3,67.1 396.8,67.0 397.3,67.0 397.8,67.0 398.3,67.0 398.8,66.9 399.3,66.9 399.8,66.9 400.3,66.8 400.8,66.8 401.3,66.8 401.8,66.7 402.3,66.7 402.8,66.7 403.3,66.6 403.8,66.6 404.3,66.6 404.8,66.5 405.3,66.5 405.8,66.5 406.3,66.4 406.8,66.4 407.3,66.4 407.8,66.3 408.3,66.3 408.8,66.2 409.3,66.2 409.8,66.2 410.3,66.1 410.8,66.1 411.3,66.1 411.8,66.0 412.3,66.0 412.8,66.0 413.3,65.9 413.8,65.9 414.3,65.9 414.8,65.8 415.3,65.8 415.8,65.7 416.3,65.7 416.8,65.7 417.3,65.6 417.8,65.6 418.3,65.5 418.8,65.5 419.3,65.5 419.8,65.4 420.3,65.4 420.8,65.3 421.3,65.3 421.8,65.3 422.3,65.2 422.8,65.2 423.3,65.1 423.8,65.1 424.3,65.0 424.8,65.0 425.3,65.0 425.8,64.9 426.3,64.9 426.8,64.8 427.3,64.8 427.8,64.7 428.3,64.7 428.8,64.6 429.3,64.6 429.8,64.5 430.3,64.5 430.8,64.4 431.3,64.4 431.8,64.3 432.3,64.3 432.8,64.2 433.3,64.2 433.8,64.1 434.3,64.1 434.8,64.0 435.3,64.0 435.8,63.9 436.3,63.8 436.8,63.8 437.3,63.7 437.8,63.7 438.3,63.6 438.8,63.5 439.3,63.5 439.8,63.4 440.3,63.3 440.8,63.3 441.3,63.2 441.8,63.1 442.3,63.1 442.8,63.0 443.3,62.9 443.8,62.9 444.3,62.8 444.8,62.7 445.3,62.6 445.8,62.5 446.3,62.5 446.8,62.4 447.3,62.3 447.8,62.2 448.3,62.1 448.8,62.0 449.3,61.9 449.8,61.8 450.3,61.7 450.8,61.6 451.3,61.5 451.8,61.4 452.3,61.3 452.8,61.2 453.3,61.1 453.8,60.9 454.3,60.8 454.8,60.7 455.3,60.5 455.8,60.4 456.3,60.2 456.8,60.1 457.3,59.9 457.8,59.8 458.3,59.6 458.8,59.4 459.3,59.2 459.8,59.0 460.3,58.8 460.8,58.6 461.3,58.4 461.8,58.1 462.3,57.9 462.8,57.6 463.3,57.4 463.8,57.1 464.3,56.8 464.8,56.5 465.3,56.1 465.8,55.8 466.3,55.4 466.8,55.0 467.3,54.6 467.8,54.1 468.3,53.7 468.8,53.2 469.3,52.7 469.8,52.2 470.3,51.6 470.8,51.0 471.3,50.4 471.8,49.7 472.3,49.0 472.8,48.3 473.3,47.5 473.8,46.7 474.3,45.9 474.8,45.0 475.3,44.1 475.8,43.2 476.3,42.2 476.8,41.2 477.3,40.1 477.8,39.0 478.3,37.9 478.8,36.7 479.3,35.5 479.8,34.3 480.3,33.1 480.8,31.8 481.3,30.5 481.8,29.2 482.3,27.9 482.8,26.6 483.3,25.3 483.8,24.0 484.3,22.7 484.8,21.5 485.3,20.4 485.8,19.3 486.3,18.2 486.8,17.3 487.3,16.5 487.8,15.8 488.3,15.2 488.8,14.8 489.3,14.5 489.8,14.3 490.3,14.3 490.8,14.6 491.3,15.1 491.8,15.9 492.3,16.9 492.8,18.1 493.3,19.5 493.8,21.0 494.3,22.6 494.8,24.3 495.3,26.1 495.8,28.0 496.3,29.8 496.8,31.7 497.3,33.7 497.8,35.6 498.3,37.6 498.8,39.6 499.3,41.6 499.8,43.7 500.3,45.7 500.8,47.8 501.3,49.8 501.8,51.7 502.3,53.6 502.8,55.4 503.3,57.0 503.8,58.5 504.3,59.8 504.8,61.0 505.3,62.0 505.8,63.0 506.3,63.8 506.8,64.6 507.3,65.2 507.8,65.8 508.3,66.3 508.8,66.8 509.3,67.2 509.8,67.6 510.3,68.0 510.8,68.3 511.3,68.6 511.8,68.8 512.3,69.1 512.8,69.3 513.3,69.5 513.8,69.7 514.3,69.8 514.8,70.0 515.3,70.1 515.8,70.3 516.3,70.4 516.8,70.5 517.3,70.6 517.8,70.7 518.3,70.8 518.8,70.9 519.3,71.0 519.8,71.1 520.3,71.2 520.8,71.2 521.3,71.3 521.8,71.4 522.3,71.4 522.8,71.5 523.3,71.5 523.8,71.6 524.3,71.6 524.8,71.7 525.3,71.7 525.8,71.7 526.3,71.8 526.8,71.8 527.3,71.8 527.8,71.9 528.3,71.9 528.8,71.9 529.3,71.9 529.8,72.0 530.3,72.0 530.8,72.0 531.3,72.0 531.8,72.0 532.3,72.1 532.8,72.1 533.3,72.1 533.8,72.1 534.3,72.1 534.8,72.1 535.3,72.1 535.8,72.1 536.3,72.1 536.8,72.1 537.3,72.1 537.8,72.1 538.3,72.1 538.8,72.1 539.3,72.1 539.8,72.1 540.3,72.1 540.8,72.1 541.3,72.1" fill="none" stroke="#868602" stroke-width="1.6" stroke-linejoin="round"/>
<path d="M389.3,95.8 389.8,95.8 390.3,95.8 390.8,95.7 391.3,95.7 391.8,95.7 392.3,95.7 392.8,95.6 393.3,95.6 393.8,95.6 394.3,95.5 394.8,95.5 395.3,95.5 395.8,95.5 396.3,95.4 396.8,95.4 397.3,95.4 397.8,95.3 398.3,95.3 398.8,95.3 399.3,95.3 399.8,95.2 400.3,95.2 400.8,95.2 401.3,95.1 401.8,95.1 402.3,95.1 402.8,95.0 403.3,95.0 403.8,95.0 404.3,95.0 404.8,94.9 405.3,94.9 405.8,94.9 406.3,94.8 406.8,94.8 407.3,94.8 407.8,94.7 408.3,94.7 408.8,94.7 409.3,94.6 409.8,94.6 410.3,94.6 410.8,94.6 411.3,94.5 411.8,94.5 412.3,94.5 412.8,94.4 413.3,94.4 413.8,94.4 414.3,94.3 414.8,94.3 415.3,94.3 415.8,94.2 416.3,94.2 416.8,94.2 417.3,94.1 417.8,94.1 418.3,94.1 418.8,94.0 419.3,94.0 419.8,94.0 420.3,93.9 420.8,93.9 421.3,93.9 421.8,93.8 422.3,93.8 422.8,93.8 423.3,93.7 423.8,93.7 424.3,93.6 424.8,93.6 425.3,93.6 425.8,93.5 426.3,93.5 426.8,93.5 427.3,93.4 427.8,93.4 428.3,93.4 428.8,93.3 429.3,93.3 429.8,93.2 430.3,93.2 430.8,93.2 431.3,93.1 431.8,93.1 432.3,93.0 432.8,93.0 433.3,92.9 433.8,92.9 434.3,92.9 434.8,92.8 435.3,92.8 435.8,92.7 436.3,92.7 436.8,92.6 437.3,92.6 437.8,92.6 438.3,92.5 438.8,92.5 439.3,92.4 439.8,92.4 440.3,92.3 440.8,92.3 441.3,92.2 441.8,92.2 442.3,92.1 442.8,92.1 443.3,92.0 443.8,91.9 444.3,91.9 444.8,91.8 445.3,91.8 445.8,91.7 446.3,91.6 446.8,91.6 447.3,91.5 447.8,91.5 448.3,91.4 448.8,91.3 449.3,91.3 449.8,91.2 450.3,91.1 450.8,91.0 451.3,91.0 451.8,90.9 452.3,90.8 452.8,90.7 453.3,90.6 453.8,90.5 454.3,90.5 454.8,90.4 455.3,90.3 455.8,90.2 456.3,90.0 456.8,89.9 457.3,89.8 457.8,89.7 458.3,89.6 458.8,89.4 459.3,89.3 459.8,89.1 460.3,88.9 460.8,88.8 461.3,88.6 461.8,88.4 462.3,88.2 462.8,88.0 463.3,87.7 463.8,87.5 464.3,87.2 464.8,86.9 465.3,86.6 465.8,86.2 466.3,85.9 466.8,85.5 467.3,85.0 467.8,84.6 468.3,84.1 468.8,83.6 469.3,83.1 469.8,82.5 470.3,81.9 470.8,81.2 471.3,80.5 471.8,79.8 472.3,79.0 472.8,78.2 473.3,77.3 473.8,76.4 474.3,75.5 474.8,74.5 475.3,73.4 475.8,72.3 476.3,71.2 476.8,70.0 477.3,68.8 477.8,67.6 478.3,66.3 478.8,65.0 479.3,63.6 479.8,62.3 480.3,60.9 480.8,59.5 481.3,58.1 481.8,56.7 482.3,55.3 482.8,54.0 483.3,52.6 483.8,51.3 484.3,50.1 484.8,48.9 485.3,47.8 485.8,46.7 486.3,45.8 486.8,45.0 487.3,44.3 487.8,43.7 488.3,43.3 488.8,43.0 489.3,42.8 489.8,42.9 490.3,43.2 490.8,43.9 491.3,44.8 491.8,45.9 492.3,47.3 492.8,48.9 493.3,50.5 493.8,52.4 494.3,54.3 494.8,56.3 495.3,58.5 495.8,60.9 496.3,63.5 496.8,66.5 497.3,69.9 497.8,73.6 498.3,77.3 498.8,80.6 499.3,83.5 499.8,85.9 500.3,87.8 500.8,89.4 501.3,90.7 501.8,91.9 502.3,93.0 502.8,93.9 503.3,94.8 503.8,95.5 504.3,96.2 504.8,96.8 505.3,97.4 505.8,97.9 506.3,98.3 506.8,98.7 507.3,99.1 507.8,99.4 508.3,99.7 508.8,99.9 509.3,100.2 509.8,100.4 510.3,100.5 510.8,100.7 511.3,100.8 511.8,101.0 512.3,101.1 512.8,101.2 513.3,101.3 513.8,101.4 514.3,101.4 514.8,101.5 515.3,101.6 515.8,101.6 516.3,101.7 516.8,101.7 517.3,101.8 517.8,101.8 518.3,101.9 518.8,101.9 519.3,101.9 519.8,101.9 520.3,102.0 520.8,102.0 521.3,102.0 521.8,102.0 522.3,102.0 522.8,102.1 523.3,102.1 523.8,102.1 524.3,102.1 524.8,102.1 525.3,102.1 525.8,102.1 526.3,102.1 526.8,102.1 527.3,102.1 527.8,102.1 528.3,102.1 528.8,102.1 529.3,102.1 529.8,102.1 530.3,102.1 530.8,102.1 531.3,102.1 531.8,102.1 532.3,102.1 532.8,102.1 533.3,102.1 533.8,102.1 534.3,102.1 534.8,102.1 535.3,102.1 535.8,102.1 536.3,102.1 536.8,102.0 537.3,102.0 537.8,102.0 538.3,102.0 538.8,102.0 539.3,102.0 539.8,102.0 540.3,102.0 540.8,102.0 541.3,101.9" fill="none" stroke="#0a8282" stroke-width="1.6" stroke-linejoin="round"/>
<path d="M389.3,126.0 389.8,126.0 390.3,126.0 390.8,125.9 391.3,125.9 391.8,125.9 392.3,125.9 392.8,125.8 393.3,125.8 393.8,125.8 394.3,125.7 394.8,125.7 395.3,125.7 395.8,125.6 396.3,125.6 396.8,125.6 397.3,125.5 397.8,125.5 398.3,125.5 398.8,125.5 399.3,125.4 399.8,125.4 400.3,125.4 400.8,125.3 401.3,125.3 401.8,125.3 402.3,125.2 402.8,125.2 403.3,125.2 403.8,125.1 404.3,125.1 404.8,125.1 405.3,125.0 405.8,125.0 406.3,125.0 406.8,124.9 407.3,124.9 407.8,124.9 408.3,124.8 408.8,124.8 409.3,124.8 409.8,124.7 410.3,124.7 410.8,124.7 411.3,124.6 411.8,124.6 412.3,124.6 412.8,124.5 413.3,124.5 413.8,124.5 414.3,124.4 414.8,124.4 415.3,124.4 415.8,124.3 416.3,124.3 416.8,124.3 417.3,124.2 417.8,124.2 418.3,124.1 418.8,124.1 419.3,124.1 419.8,124.0 420.3,124.0 420.8,124.0 421.3,123.9 421.8,123.9 422.3,123.8 422.8,123.8 423.3,123.8 423.8,123.7 424.3,123.7 424.8,123.6 425.3,123.6 425.8,123.6 426.3,123.5 426.8,123.5 427.3,123.4 427.8,123.4 428.3,123.3 428.8,123.3 429.3,123.3 429.8,123.2 430.3,123.2 430.8,123.1 431.3,123.1 431.8,123.0 432.3,123.0 432.8,122.9 433.3,122.9 433.8,122.8 434.3,122.8 434.8,122.7 435.3,122.7 435.8,122.6 436.3,122.6 436.8,122.5 437.3,122.5 437.8,122.4 438.3,122.4 438.8,122.3 439.3,122.3 439.8,122.2 440.3,122.1 440.8,122.1 441.3,122.0 441.8,122.0 442.3,121.9 442.8,121.8 443.3,121.8 443.8,121.7 444.3,121.6 444.8,121.6 445.3,121.5 445.8,121.4 446.3,121.3 446.8,121.3 447.3,121.2 447.8,121.1 448.3,121.0 448.8,120.9 449.3,120.9 449.8,120.8 450.3,120.7 450.8,120.6 451.3,120.5 451.8,120.4 452.3,120.3 452.8,120.2 453.3,120.1 453.8,120.0 454.3,119.9 454.8,119.8 455.3,119.6 455.8,119.5 456.3,119.4 456.8,119.3 457.3,119.1 457.8,119.0 458.3,118.8 458.8,118.7 459.3,118.5 459.8,118.3 460.3,118.1 460.8,117.9 461.3,117.7 461.8,117.5 462.3,117.3 462.8,117.0 463.3,116.8 463.8,116.5 464.3,116.2 464.8,115.9 465.3,115.6 465.8,115.3 466.3,114.9 466.8,114.5 467.3,114.1 467.8,113.7 468.3,113.2 468.8,112.7 469.3,112.2 469.8,111.7 470.3,111.1 470.8,110.5 471.3,109.9 471.8,109.2 472.3,108.5 472.8,107.7 473.3,106.9 473.8,106.1 474.3,105.2 474.8,104.3 475.3,103.3 475.8,102.4 476.3,101.3 476.8,100.2 477.3,99.1 477.8,98.0 478.3,96.8 478.8,95.5 479.3,94.3 479.8,93.0 480.3,91.6 480.8,90.3 481.3,88.9 481.8,87.5 482.3,86.1 482.8,84.8 483.3,83.4 483.8,82.0 484.3,80.7 484.8,79.5 485.3,78.2 485.8,77.1 486.3,76.0 486.8,75.1 487.3,74.2 487.8,73.5 488.3,72.9 488.8,72.5 489.3,72.2 489.8,72.1 490.3,72.2 490.8,72.9 491.3,74.1 491.8,75.7 492.3,77.7 492.8,80.0 493.3,82.4 493.8,85.0 494.3,87.6 494.8,90.2 495.3,92.7 495.8,95.2 496.3,97.5 496.8,99.8 497.3,102.1 497.8,104.2 498.3,106.2 498.8,108.2 499.3,110.2 499.8,112.1 500.3,113.9 500.8,115.7 501.3,117.4 501.8,119.0 502.3,120.5 502.8,121.9 503.3,123.2 503.8,124.2 504.3,125.2 504.8,126.0 505.3,126.7 505.8,127.3 506.3,127.8 506.8,128.2 507.3,128.6 507.8,128.9 508.3,129.1 508.8,129.3 509.3,129.5 509.8,129.7 510.3,129.8 510.8,130.0 511.3,130.1 511.8,130.2 512.3,130.3 512.8,130.3 513.3,130.4 513.8,130.5 514.3,130.6 514.8,130.6 515.3,130.7 515.8,130.7 516.3,130.7 516.8,130.8 517.3,130.8 517.8,130.9 518.3,130.9 518.8,130.9 519.3,130.9 519.8,131.0 520.3,131.0 520.8,131.0 521.3,131.0 521.8,131.0 522.3,131.0 522.8,131.0 523.3,131.1 523.8,131.1 524.3,131.1 524.8,131.1 525.3,131.1 525.8,131.1 526.3,131.1 526.8,131.1 527.3,131.1 527.8,131.1 528.3,131.1 528.8,131.1 529.3,131.1 529.8,131.1 530.3,131.1 530.8,131.1 531.3,131.0 531.8,131.0 532.3,131.0 532.8,131.0 533.3,131.0 533.8,131.0 534.3,131.0 534.8,131.0 535.3,131.0 535.8,131.0 536.3,131.0 536.8,130.9 537.3,130.9 537.8,130.9 538.3,130.9 538.8,130.9 539.3,130.9 539.8,130.9 540.3,130.8 540.8,130.8 541.3,130.8" fill="none" stroke="#82068a" stroke-width="1.6" stroke-linejoin="round"/>
<path d="M388.8,2.0 L542.1,2.0 L542.1,137.0 L388.8,137.0 Z" fill="none" stroke="#1a1a1a" stroke-width="1.25"/>
<line x1="542.0" y1="137.0" x2="542.0" y2="139.2" stroke="#000" stroke-width="1"/>
<text transform="translate(542.0 148.20) scale(1 1.1)" x="0" y="0" font-family="Liberation Sans" font-size="7.9" font-weight="bold" font-style="normal" text-anchor="middle" fill="#000" stroke="#000" stroke-width="0.12" >280</text>
<line x1="518.4" y1="137.0" x2="518.4" y2="139.2" stroke="#000" stroke-width="1"/>
<text transform="translate(518.4 148.20) scale(1 1.1)" x="0" y="0" font-family="Liberation Sans" font-size="7.9" font-weight="bold" font-style="normal" text-anchor="middle" fill="#000" stroke="#000" stroke-width="0.12" >282</text>
<line x1="494.79999999999995" y1="137.0" x2="494.79999999999995" y2="139.2" stroke="#000" stroke-width="1"/>
<text transform="translate(494.79999999999995 148.20) scale(1 1.1)" x="0" y="0" font-family="Liberation Sans" font-size="7.9" font-weight="bold" font-style="normal" text-anchor="middle" fill="#000" stroke="#000" stroke-width="0.12" >284</text>
<line x1="471.2" y1="137.0" x2="471.2" y2="139.2" stroke="#000" stroke-width="1"/>
<text transform="translate(471.2 148.20) scale(1 1.1)" x="0" y="0" font-family="Liberation Sans" font-size="7.9" font-weight="bold" font-style="normal" text-anchor="middle" fill="#000" stroke="#000" stroke-width="0.12" >286</text>
<line x1="447.59999999999997" y1="137.0" x2="447.59999999999997" y2="139.2" stroke="#000" stroke-width="1"/>
<text transform="translate(447.59999999999997 148.20) scale(1 1.1)" x="0" y="0" font-family="Liberation Sans" font-size="7.9" font-weight="bold" font-style="normal" text-anchor="middle" fill="#000" stroke="#000" stroke-width="0.12" >288</text>
<line x1="424.0" y1="137.0" x2="424.0" y2="139.2" stroke="#000" stroke-width="1"/>
<text transform="translate(424.0 148.20) scale(1 1.1)" x="0" y="0" font-family="Liberation Sans" font-size="7.9" font-weight="bold" font-style="normal" text-anchor="middle" fill="#000" stroke="#000" stroke-width="0.12" >290</text>
<line x1="400.4" y1="137.0" x2="400.4" y2="139.2" stroke="#000" stroke-width="1"/>
<text transform="translate(400.4 148.20) scale(1 1.1)" x="0" y="0" font-family="Liberation Sans" font-size="7.9" font-weight="bold" font-style="normal" text-anchor="middle" fill="#000" stroke="#000" stroke-width="0.12" >292</text>
<line x1="530.2" y1="137.0" x2="530.2" y2="138.6" stroke="#000" stroke-width="0.9"/>
<line x1="506.59999999999997" y1="137.0" x2="506.59999999999997" y2="138.6" stroke="#000" stroke-width="0.9"/>
<line x1="483.0" y1="137.0" x2="483.0" y2="138.6" stroke="#000" stroke-width="0.9"/>
<line x1="459.4" y1="137.0" x2="459.4" y2="138.6" stroke="#000" stroke-width="0.9"/>
<line x1="435.79999999999995" y1="137.0" x2="435.79999999999995" y2="138.6" stroke="#000" stroke-width="0.9"/>
<line x1="412.2" y1="137.0" x2="412.2" y2="138.6" stroke="#000" stroke-width="0.9"/>
<text transform="translate(465.5 157.80) scale(1 1.1)" x="0" y="0" font-family="Liberation Sans" font-size="8.5" font-weight="bold" font-style="normal" text-anchor="middle" fill="#000" stroke="#000" stroke-width="0.3" >Binding energy (eV)</text>
<text x="386.5" y="62.8" font-family="Liberation Sans" font-size="7.8" font-weight="bold" font-style="normal" text-anchor="middle" fill="#000" stroke="#000" stroke-width="0.2" transform="rotate(-90 386.5 62.8)">Intensity</text>
<text transform="translate(394.8 61.20) scale(1 1.1)" x="0" y="0" font-family="Liberation Sans" font-size="9.3" font-weight="bold" font-style="normal" text-anchor="start" fill="#868602" stroke="#868602" stroke-width="0.08" letter-spacing="0.2">NC-650</text>
<text transform="translate(395.2 89.10) scale(1 1.1)" x="0" y="0" font-family="Liberation Sans" font-size="9.3" font-weight="bold" font-style="normal" text-anchor="start" fill="#0a8282" stroke="#0a8282" stroke-width="0.08" letter-spacing="0.2">NC-750</text>
<text transform="translate(395.6 121.10) scale(1 1.1)" x="0" y="0" font-family="Liberation Sans" font-size="9.3" font-weight="bold" font-style="normal" text-anchor="start" fill="#82068a" stroke="#82068a" stroke-width="0.08" letter-spacing="0.2">NC-850</text>
<text transform="translate(540.7 10.40) scale(1 1.1)" x="0" y="0" font-family="Liberation Sans" font-size="7.4" font-weight="bold" font-style="italic" text-anchor="end" fill="#000" stroke="#000" stroke-width="0.15" >XPS C 1s</text>
<text transform="translate(492.0 10.80) scale(1 1.1)" x="0" y="0" font-family="Liberation Sans" font-size="6.9" font-weight="bold" font-style="italic" text-anchor="middle" fill="#000" stroke="#000" stroke-width="0.1" >sp<tspan dy="-3.3" font-size="4.4">2</tspan></text>
<text x="463.5" y="190.1" font-family="Liberation Serif" font-size="11" font-weight="normal" font-style="normal" text-anchor="middle" fill="#000" stroke="#000" stroke-width="0.4" >(c)</text>
<path d="M12.1,343.3 12.6,343.3 13.1,343.3 13.6,343.3 14.1,343.3 14.6,343.3 15.1,343.3 15.6,343.3 16.1,343.3 16.6,343.3 17.1,343.3 17.6,343.3 18.1,343.3 18.6,343.3 19.1,343.3 19.6,343.3 20.1,343.3 20.6,343.3 21.1,343.3 21.6,343.3 22.1,343.3 22.6,343.3 23.1,343.3 23.6,343.3 24.1,343.3 24.6,343.3 25.1,343.3 25.6,343.3 26.1,343.3 26.6,343.3 27.1,343.4 27.6,343.4 28.1,343.4 28.6,343.4 29.1,343.4 29.6,343.4 30.1,343.4 30.6,343.4 31.1,343.4 31.6,343.4 32.1,343.4 32.6,343.4 33.1,343.4 33.6,343.4 34.1,343.4 34.6,343.4 35.1,343.4 35.6,343.4 36.1,343.4 36.6,343.4 37.1,343.4 37.6,343.4 38.1,343.4 38.6,343.4 39.1,343.4 39.6,343.5 40.1,343.5 40.6,343.5 41.1,343.5 41.6,343.5 42.1,343.5 42.6,343.5 43.1,343.5 43.6,343.5 44.1,343.5 44.6,343.5 45.1,343.5 45.6,343.5 46.1,343.5 46.6,343.5 47.1,343.5 47.6,343.5 48.1,343.5 48.6,343.5 49.1,343.5 49.6,343.6 50.1,343.6 50.6,343.6 51.1,343.6 51.6,343.6 52.1,343.6 52.6,343.6 53.1,343.6 53.6,343.6 54.1,343.6 54.6,343.6 55.1,343.6 55.6,343.6 56.1,343.7 56.6,343.7 57.1,343.7 57.6,343.7 58.1,343.7 58.6,343.7 59.1,343.7 59.6,343.7 60.1,343.7 60.6,343.7 61.1,343.8 61.6,343.8 62.1,343.8 62.6,343.8 63.1,343.8 63.6,343.8 64.1,343.8 64.6,343.8 65.1,343.8 65.6,343.9 66.1,343.9 66.6,343.9 67.1,343.9 67.6,343.9 68.1,343.9 68.6,343.9 69.1,343.9 69.6,343.9 70.1,343.9 70.6,343.9 71.1,343.9 71.6,343.9 72.1,343.9 72.6,343.9 73.1,343.9 73.6,343.9 74.1,343.9 74.6,343.9 75.1,343.9 75.6,343.9 76.1,343.8 76.6,343.8 77.1,343.8 77.6,343.7 78.1,343.7 78.6,343.6 79.1,343.5 79.6,343.5 80.1,343.4 80.6,343.3 81.1,343.2 81.6,343.0 82.1,342.9 82.6,342.7 83.1,342.5 83.6,342.3 84.1,342.1 84.6,341.8 85.1,341.6 85.6,341.3 86.1,341.0 86.6,340.6 87.1,340.3 87.6,339.8 88.1,339.4 88.6,338.9 89.1,338.4 89.6,337.8 90.1,337.2 90.6,336.6 91.1,335.9 91.6,335.2 92.1,334.4 92.6,333.6 93.1,332.7 93.6,331.7 94.1,330.8 94.6,329.7 95.1,328.6 95.6,327.5 96.1,326.3 96.6,325.0 97.1,323.7 97.6,322.4 98.1,321.0 98.6,319.6 99.1,318.1 99.6,316.6 100.1,315.1 100.6,313.5 101.1,311.9 101.6,310.3 102.1,308.7 102.6,307.0 103.1,305.4 103.6,303.7 104.1,302.1 104.6,300.4 105.1,298.8 105.6,297.2 106.1,295.6 106.6,294.1 107.1,292.6 107.6,291.1 108.1,289.7 108.6,288.4 109.1,287.1 109.6,285.9 110.1,284.8 110.6,283.7 111.1,282.7 111.6,281.9 112.1,281.1 112.6,280.4 113.1,279.8 113.6,279.4 114.1,279.0 114.6,278.7 115.1,278.6 115.6,278.6 116.1,278.6 116.6,278.8 117.1,279.1 117.6,279.6 118.1,280.1 118.6,280.7 119.1,281.4 119.6,282.3 120.1,283.2 120.6,284.2 121.1,285.3 121.6,286.5 122.1,287.7 122.6,289.1 123.1,290.5 123.6,291.9 124.1,293.4 124.6,295.0 125.1,296.6 125.6,298.2 126.1,299.9 126.6,301.6 127.1,303.3 127.6,305.0 128.1,306.7 128.6,308.4 129.1,310.1 129.6,311.8 130.1,313.4 130.6,315.1 131.1,316.7 131.6,318.3 132.1,319.9 132.6,321.4 133.1,322.9 133.6,324.3 134.1,325.7 134.6,327.1 135.1,328.4 135.6,329.6 136.1,330.8 136.6,332.0 137.1,333.1 137.6,334.1 138.1,335.1 138.6,336.1 139.1,336.9 139.6,337.8 140.1,338.6 140.6,339.3 141.1,340.1 141.6,340.7 142.1,341.3 142.6,341.9 143.1,342.5 143.6,343.0 144.1,343.4 144.6,343.9 145.1,344.3 145.6,344.6 146.1,345.0 146.6,345.3 147.1,345.6 147.6,345.9 148.1,346.1 148.6,346.3 149.1,346.5 149.6,346.7 150.1,346.9 150.6,347.0 151.1,347.2 151.6,347.3 152.1,347.4 152.6,347.5 153.1,347.6 153.6,347.7 154.1,347.7 154.6,347.8 155.1,347.9 155.6,347.9 156.1,348.0 156.6,348.0 157.1,348.0 157.6,348.1 158.1,348.1 158.6,348.1 159.1,348.2 159.6,348.2 160.1,348.2 160.6,348.2 161.1,348.2 161.6,348.2 162.1,348.2 162.6,348.2 163.1,348.3 163.6,348.3 164.1,348.3 164.6,348.3 165.1,348.3" fill="none" stroke="#82068a" stroke-width="1.85"/>
<path d="M12.1,343.3 12.6,343.3 13.1,343.3 13.6,343.3 14.1,343.3 14.6,343.3 15.1,343.3 15.6,343.3 16.1,343.3 16.6,343.3 17.1,343.3 17.6,343.3 18.1,343.3 18.6,343.3 19.1,343.3 19.6,343.3 20.1,343.3 20.6,343.3 21.1,343.3 21.6,343.3 22.1,343.3 22.6,343.3 23.1,343.3 23.6,343.3 24.1,343.3 24.6,343.3 25.1,343.3 25.6,343.3 26.1,343.3 26.6,343.3 27.1,343.4 27.6,343.4 28.1,343.4 28.6,343.4 29.1,343.4 29.6,343.4 30.1,343.4 30.6,343.4 31.1,343.4 31.6,343.4 32.1,343.4 32.6,343.4 33.1,343.4 33.6,343.4 34.1,343.4 34.6,343.4 35.1,343.4 35.6,343.4 36.1,343.4 36.6,343.4 37.1,343.4 37.6,343.4 38.1,343.4 38.6,343.4 39.1,343.4 39.6,343.4 40.1,343.4 40.6,343.4 41.1,343.4 41.6,343.4 42.1,343.4 42.6,343.4 43.1,343.4 43.6,343.4 44.1,343.4 44.6,343.4 45.1,343.4 45.6,343.4 46.1,343.4 46.6,343.4 47.1,343.4 47.6,343.3 48.1,343.3 48.6,343.3 49.1,343.2 49.6,343.2 50.1,343.2 50.6,343.1 51.1,343.0 51.6,343.0 52.1,342.9 52.6,342.8 53.1,342.7 53.6,342.6 54.1,342.4 54.6,342.3 55.1,342.1 55.6,341.9 56.1,341.7 56.6,341.5 57.1,341.2 57.6,341.0 58.1,340.6 58.6,340.3 59.1,339.9 59.6,339.5 60.1,339.0 60.6,338.5 61.1,338.0 61.6,337.4 62.1,336.7 62.6,336.0 63.1,335.3 63.6,334.5 64.1,333.6 64.6,332.6 65.1,331.6 65.6,330.5 66.1,329.4 66.6,328.1 67.1,326.8 67.6,325.5 68.1,324.0 68.6,322.5 69.1,320.8 69.6,319.1 70.1,317.4 70.6,315.5 71.1,313.6 71.6,311.6 72.1,309.5 72.6,307.4 73.1,305.1 73.6,302.9 74.1,300.6 74.6,298.2 75.1,295.8 75.6,293.3 76.1,290.8 76.6,288.3 77.1,285.8 77.6,283.3 78.1,280.7 78.6,278.2 79.1,275.7 79.6,273.3 80.1,270.9 80.6,268.5 81.1,266.2 81.6,264.0 82.1,261.9 82.6,259.8 83.1,257.9 83.6,256.0 84.1,254.3 84.6,252.8 85.1,251.3 85.6,250.1 86.1,248.9 86.6,248.0 87.1,247.2 87.6,246.6 88.1,246.1 88.6,245.9 89.1,245.8 89.6,245.9 90.1,246.1 90.6,246.6 91.1,247.2 91.6,248.0 92.1,248.9 92.6,250.1 93.1,251.3 93.6,252.7 94.1,254.3 94.6,256.0 95.1,257.8 95.6,259.8 96.1,261.8 96.6,264.0 97.1,266.2 97.6,268.5 98.1,270.9 98.6,273.4 99.1,275.9 99.6,278.4 100.1,281.0 100.6,283.6 101.1,286.2 101.6,288.8 102.1,291.3 102.6,293.9 103.1,296.4 103.6,298.9 104.1,301.4 104.6,303.8 105.1,306.2 105.6,308.5 106.1,310.7 106.6,312.9 107.1,315.0 107.6,317.1 108.1,319.0 108.6,320.9 109.1,322.7 109.6,324.4 110.1,326.1 110.6,327.6 111.1,329.1 111.6,330.5 112.1,331.8 112.6,333.1 113.1,334.3 113.6,335.4 114.1,336.4 114.6,337.4 115.1,338.3 115.6,339.1 116.1,339.9 116.6,340.6 117.1,341.3 117.6,341.9 118.1,342.5 118.6,343.0 119.1,343.5 119.6,343.9 120.1,344.3 120.6,344.7 121.1,345.0 121.6,345.3 122.1,345.6 122.6,345.9 123.1,346.1 123.6,346.3 124.1,346.5 124.6,346.7 125.1,346.8 125.6,346.9 126.1,347.1 126.6,347.2 127.1,347.3 127.6,347.4 128.1,347.5 128.6,347.5 129.1,347.6 129.6,347.7 130.1,347.7 130.6,347.8 131.1,347.8 131.6,347.9 132.1,347.9 132.6,347.9 133.1,348.0 133.6,348.0 134.1,348.0 134.6,348.1 135.1,348.1 135.6,348.1 136.1,348.1 136.6,348.1 137.1,348.1 137.6,348.2 138.1,348.2 138.6,348.2 139.1,348.2 139.6,348.2 140.1,348.2 140.6,348.2 141.1,348.2 141.6,348.2 142.1,348.2 142.6,348.2 143.1,348.2 143.6,348.2 144.1,348.2 144.6,348.2 145.1,348.2 145.6,348.2 146.1,348.2 146.6,348.2 147.1,348.2 147.6,348.2 148.1,348.3 148.6,348.3 149.1,348.3 149.6,348.3 150.1,348.3 150.6,348.3 151.1,348.3 151.6,348.3 152.1,348.3 152.6,348.3 153.1,348.3 153.6,348.3 154.1,348.3 154.6,348.3 155.1,348.3 155.6,348.3 156.1,348.3 156.6,348.3 157.1,348.3 157.6,348.3 158.1,348.3 158.6,348.3 159.1,348.3 159.6,348.3 160.1,348.3 160.6,348.3 161.1,348.3 161.6,348.3 162.1,348.3 162.6,348.3 163.1,348.3 163.6,348.3 164.1,348.3 164.6,348.3 165.1,348.3" fill="none" stroke="#0a8282" stroke-width="1.85"/>
<path d="M12.1,343.3 12.6,343.3 13.1,343.3 13.6,343.3 14.1,343.3 14.6,343.3 15.1,343.3 15.6,343.3 16.1,343.3 16.6,343.3 17.1,343.3 17.6,343.3 18.1,343.3 18.6,343.3 19.1,343.3 19.6,343.3 20.1,343.3 20.6,343.3 21.1,343.3 21.6,343.3 22.1,343.3 22.6,343.3 23.1,343.3 23.6,343.3 24.1,343.3 24.6,343.2 25.1,343.2 25.6,343.2 26.1,343.2 26.6,343.2 27.1,343.2 27.6,343.2 28.1,343.1 28.6,343.1 29.1,343.1 29.6,343.1 30.1,343.0 30.6,343.0 31.1,342.9 31.6,342.9 32.1,342.8 32.6,342.8 33.1,342.7 33.6,342.6 34.1,342.6 34.6,342.5 35.1,342.4 35.6,342.3 36.1,342.2 36.6,342.0 37.1,341.9 37.6,341.8 38.1,341.6 38.6,341.5 39.1,341.3 39.6,341.1 40.1,340.9 40.6,340.7 41.1,340.4 41.6,340.2 42.1,339.9 42.6,339.7 43.1,339.4 43.6,339.1 44.1,338.8 44.6,338.4 45.1,338.1 45.6,337.7 46.1,337.3 46.6,336.9 47.1,336.5 47.6,336.1 48.1,335.6 48.6,335.2 49.1,334.7 49.6,334.2 50.1,333.8 50.6,333.3 51.1,332.8 51.6,332.3 52.1,331.7 52.6,331.2 53.1,330.7 53.6,330.2 54.1,329.6 54.6,329.1 55.1,328.6 55.6,328.1 56.1,327.6 56.6,327.1 57.1,326.6 57.6,326.1 58.1,325.7 58.6,325.2 59.1,324.8 59.6,324.4 60.1,324.1 60.6,323.7 61.1,323.4 61.6,323.1 62.1,322.8 62.6,322.6 63.1,322.4 63.6,322.2 64.1,322.1 64.6,322.0 65.1,321.9 65.6,321.9 66.1,321.9 66.6,321.9 67.1,322.0 67.6,322.2 68.1,322.4 68.6,322.7 69.1,323.0 69.6,323.4 70.1,323.8 70.6,324.2 71.1,324.7 71.6,325.2 72.1,325.8 72.6,326.4 73.1,327.0 73.6,327.6 74.1,328.3 74.6,329.0 75.1,329.7 75.6,330.3 76.1,331.0 76.6,331.7 77.1,332.4 77.6,333.1 78.1,333.8 78.6,334.4 79.1,335.1 79.6,335.7 80.1,336.3 80.6,336.9 81.1,337.5 81.6,338.0 82.1,338.6 82.6,339.1 83.1,339.6 83.6,340.0 84.1,340.5 84.6,340.9 85.1,341.3 85.6,341.6 86.1,342.0 86.6,342.3 87.1,342.6 87.6,342.9 88.1,343.2 88.6,343.5 89.1,343.7 89.6,344.0 90.1,344.2 90.6,344.4 91.1,344.6 91.6,344.7 92.1,344.9 92.6,345.0 93.1,345.2 93.6,345.3 94.1,345.4 94.6,345.5 95.1,345.6 95.6,345.7 96.1,345.8 96.6,345.8 97.1,345.9 97.6,346.0 98.1,346.0 98.6,346.1 99.1,346.2 99.6,346.2 100.1,346.3 100.6,346.3 101.1,346.4 101.6,346.4 102.1,346.5 102.6,346.5 103.1,346.5 103.6,346.6 104.1,346.6 104.6,346.7 105.1,346.7 105.6,346.7 106.1,346.8 106.6,346.8 107.1,346.9 107.6,346.9 108.1,346.9 108.6,347.0 109.1,347.0 109.6,347.0 110.1,347.1 110.6,347.1 111.1,347.1 111.6,347.2 112.1,347.2 112.6,347.2 113.1,347.3 113.6,347.3 114.1,347.3 114.6,347.3 115.1,347.4 115.6,347.4 116.1,347.4 116.6,347.4 117.1,347.5 117.6,347.5 118.1,347.5 118.6,347.5 119.1,347.6 119.6,347.6 120.1,347.6 120.6,347.6 121.1,347.6 121.6,347.7 122.1,347.7 122.6,347.7 123.1,347.7 123.6,347.7 124.1,347.8 124.6,347.8 125.1,347.8 125.6,347.8 126.1,347.8 126.6,347.9 127.1,347.9 127.6,347.9 128.1,347.9 128.6,347.9 129.1,348.0 129.6,348.0 130.1,348.0 130.6,348.0 131.1,348.0 131.6,348.0 132.1,348.0 132.6,348.1 133.1,348.1 133.6,348.1 134.1,348.1 134.6,348.1 135.1,348.1 135.6,348.1 136.1,348.1 136.6,348.2 137.1,348.2 137.6,348.2 138.1,348.2 138.6,348.2 139.1,348.2 139.6,348.2 140.1,348.2 140.6,348.2 141.1,348.2 141.6,348.2 142.1,348.2 142.6,348.2 143.1,348.2 143.6,348.2 144.1,348.2 144.6,348.2 145.1,348.2 145.6,348.2 146.1,348.2 146.6,348.2 147.1,348.2 147.6,348.2 148.1,348.3 148.6,348.3 149.1,348.3 149.6,348.3 150.1,348.3 150.6,348.3 151.1,348.3 151.6,348.3 152.1,348.3 152.6,348.3 153.1,348.3 153.6,348.3 154.1,348.3 154.6,348.3 155.1,348.3 155.6,348.3 156.1,348.3 156.6,348.3 157.1,348.3 157.6,348.3 158.1,348.3 158.6,348.3 159.1,348.3 159.6,348.3 160.1,348.3 160.6,348.3 161.1,348.3 161.6,348.3 162.1,348.3 162.6,348.3 163.1,348.3 163.6,348.3 164.1,348.3 164.6,348.3 165.1,348.3" fill="none" stroke="#10108c" stroke-width="1.85"/>
<path d="M12.1,342.6 12.6,342.5 13.1,342.4 13.6,342.4 14.1,342.3 14.6,342.2 15.1,342.0 15.6,341.9 16.1,341.8 16.6,341.7 17.1,341.5 17.6,341.4 18.1,341.2 18.6,341.0 19.1,340.9 19.6,340.7 20.1,340.5 20.6,340.3 21.1,340.1 21.6,339.8 22.1,339.6 22.6,339.4 23.1,339.1 23.6,338.9 24.1,338.7 24.6,338.4 25.1,338.1 25.6,337.9 26.1,337.6 26.6,337.4 27.1,337.1 27.6,336.8 28.1,336.6 28.6,336.3 29.1,336.1 29.6,335.9 30.1,335.6 30.6,335.4 31.1,335.2 31.6,335.0 32.1,334.8 32.6,334.6 33.1,334.5 33.6,334.3 34.1,334.2 34.6,334.1 35.1,334.0 35.6,334.0 36.1,333.9 36.6,333.9 37.1,333.9 37.6,333.9 38.1,333.9 38.6,334.0 39.1,334.0 39.6,334.1 40.1,334.2 40.6,334.3 41.1,334.5 41.6,334.6 42.1,334.8 42.6,335.0 43.1,335.2 43.6,335.4 44.1,335.6 44.6,335.9 45.1,336.1 45.6,336.3 46.1,336.6 46.6,336.9 47.1,337.1 47.6,337.4 48.1,337.7 48.6,337.9 49.1,338.2 49.6,338.5 50.1,338.7 50.6,339.0 51.1,339.3 51.6,339.5 52.1,339.8 52.6,340.0 53.1,340.2 53.6,340.5 54.1,340.7 54.6,340.9 55.1,341.1 55.6,341.3 56.1,341.5 56.6,341.6 57.1,341.8 57.6,342.0 58.1,342.1 58.6,342.3 59.1,342.4 59.6,342.5 60.1,342.6 60.6,342.7 61.1,342.9 61.6,343.0 62.1,343.0 62.6,343.1 63.1,343.2 63.6,343.3 64.1,343.4 64.6,343.4 65.1,343.5 65.6,343.5 66.1,343.6 66.6,343.6 67.1,343.7 67.6,343.7 68.1,343.8 68.6,343.8 69.1,343.8 69.6,343.9 70.1,343.9 70.6,343.9 71.1,344.0 71.6,344.0 72.1,344.0 72.6,344.0 73.1,344.1 73.6,344.1 74.1,344.1 74.6,344.1 75.1,344.2 75.6,344.2 76.1,344.2 76.6,344.3 77.1,344.3 77.6,344.3 78.1,344.3 78.6,344.4 79.1,344.4 79.6,344.4 80.1,344.5 80.6,344.5 81.1,344.5 81.6,344.6 82.1,344.6 82.6,344.6 83.1,344.7 83.6,344.7 84.1,344.7 84.6,344.8 85.1,344.8 85.6,344.9 86.1,344.9 86.6,345.0 87.1,345.0 87.6,345.1 88.1,345.1 88.6,345.2 89.1,345.3 89.6,345.3 90.1,345.4 90.6,345.4 91.1,345.5 91.6,345.6 92.1,345.6 92.6,345.7 93.1,345.7 93.6,345.8 94.1,345.8 94.6,345.9 95.1,345.9 95.6,346.0 96.1,346.0 96.6,346.0 97.1,346.1 97.6,346.1 98.1,346.2 98.6,346.2 99.1,346.2 99.6,346.3 100.1,346.3 100.6,346.4 101.1,346.4 101.6,346.4 102.1,346.5 102.6,346.5 103.1,346.6 103.6,346.6 104.1,346.6 104.6,346.7 105.1,346.7 105.6,346.8 106.1,346.8 106.6,346.8 107.1,346.9 107.6,346.9 108.1,346.9 108.6,347.0 109.1,347.0 109.6,347.0 110.1,347.1 110.6,347.1 111.1,347.1 111.6,347.2 112.1,347.2 112.6,347.2 113.1,347.3 113.6,347.3 114.1,347.3 114.6,347.3 115.1,347.4 115.6,347.4 116.1,347.4 116.6,347.4 117.1,347.5 117.6,347.5 118.1,347.5 118.6,347.5 119.1,347.6 119.6,347.6 120.1,347.6 120.6,347.6 121.1,347.6 121.6,347.7 122.1,347.7 122.6,347.7 123.1,347.7 123.6,347.7 124.1,347.8 124.6,347.8 125.1,347.8 125.6,347.8 126.1,347.8 126.6,347.9 127.1,347.9 127.6,347.9 128.1,347.9 128.6,347.9 129.1,348.0 129.6,348.0 130.1,348.0 130.6,348.0 131.1,348.0 131.6,348.0 132.1,348.0 132.6,348.1 133.1,348.1 133.6,348.1 134.1,348.1 134.6,348.1 135.1,348.1 135.6,348.1 136.1,348.1 136.6,348.2 137.1,348.2 137.6,348.2 138.1,348.2 138.6,348.2 139.1,348.2 139.6,348.2 140.1,348.2 140.6,348.2 141.1,348.2 141.6,348.2 142.1,348.2 142.6,348.2 143.1,348.2 143.6,348.2 144.1,348.2 144.6,348.2 145.1,348.2 145.6,348.2 146.1,348.2 146.6,348.2 147.1,348.2 147.6,348.2 148.1,348.3 148.6,348.3 149.1,348.3 149.6,348.3 150.1,348.3 150.6,348.3 151.1,348.3 151.6,348.3 152.1,348.3 152.6,348.3 153.1,348.3 153.6,348.3 154.1,348.3 154.6,348.3 155.1,348.3 155.6,348.3 156.1,348.3 156.6,348.3 157.1,348.3 157.6,348.3 158.1,348.3 158.6,348.3 159.1,348.3 159.6,348.3 160.1,348.3 160.6,348.3 161.1,348.3 161.6,348.3 162.1,348.3 162.6,348.3 163.1,348.3 163.6,348.3 164.1,348.3 164.6,348.3 165.1,348.3" fill="none" stroke="#5c5c5c" stroke-width="1.85"/>
<path d="M12.1,342.8 12.6,342.7 13.1,342.6 13.6,342.5 14.1,342.5 14.6,342.3 15.1,342.2 15.6,342.1 16.1,342.0 16.6,341.9 17.1,341.7 17.6,341.6 18.1,341.4 18.6,341.2 19.1,341.0 19.6,340.9 20.1,340.7 20.6,340.4 21.1,340.2 21.6,340.0 22.1,339.8 22.6,339.5 23.1,339.3 23.6,339.0 24.1,338.8 24.6,338.5 25.1,338.2 25.6,338.0 26.1,337.7 26.6,337.4 27.1,337.1 27.6,336.8 28.1,336.6 28.6,336.3 29.1,336.0 29.6,335.7 30.1,335.5 30.6,335.2 31.1,335.0 31.6,334.7 32.1,334.5 32.6,334.2 33.1,334.0 33.6,333.8 34.1,333.6 34.6,333.4 35.1,333.2 35.6,333.0 36.1,332.8 36.6,332.7 37.1,332.5 37.6,332.4 38.1,332.3 38.6,332.2 39.1,332.0 39.6,331.9 40.1,331.8 40.6,331.7 41.1,331.6 41.6,331.5 42.1,331.4 42.6,331.3 43.1,331.2 43.6,331.1 44.1,331.0 44.6,330.9 45.1,330.8 45.6,330.6 46.1,330.5 46.6,330.3 47.1,330.1 47.6,329.9 48.1,329.7 48.6,329.5 49.1,329.3 49.6,329.0 50.1,328.7 50.6,328.4 51.1,328.1 51.6,327.8 52.1,327.4 52.6,327.0 53.1,326.6 53.6,326.2 54.1,325.7 54.6,325.2 55.1,324.7 55.6,324.2 56.1,323.7 56.6,323.1 57.1,322.5 57.6,321.9 58.1,321.2 58.6,320.6 59.1,319.9 59.6,319.2 60.1,318.4 60.6,317.7 61.1,316.9 61.6,316.1 62.1,315.2 62.6,314.4 63.1,313.4 63.6,312.5 64.1,311.5 64.6,310.5 65.1,309.5 65.6,308.4 66.1,307.2 66.6,306.1 67.1,304.9 67.6,303.7 68.1,302.4 68.6,301.2 69.1,299.9 69.6,298.5 70.1,297.1 70.6,295.7 71.1,294.3 71.6,292.8 72.1,291.2 72.6,289.6 73.1,288.0 73.6,286.3 74.1,284.6 74.6,282.9 75.1,281.1 75.6,279.2 76.1,277.4 76.6,275.5 77.1,273.6 77.6,271.6 78.1,269.7 78.6,267.7 79.1,265.7 79.6,263.8 80.1,261.8 80.6,259.9 81.1,258.0 81.6,256.1 82.1,254.3 82.6,252.5 83.1,250.8 83.6,249.2 84.1,247.6 84.6,246.1 85.1,244.8 85.6,243.5 86.1,242.3 86.6,241.2 87.1,240.3 87.6,239.4 88.1,238.7 88.6,238.1 89.1,237.6 89.6,237.2 90.1,237.0 90.6,236.9 91.1,236.9 91.6,237.0 92.1,237.2 92.6,237.5 93.1,237.9 93.6,238.4 94.1,239.0 94.6,239.7 95.1,240.4 95.6,241.2 96.1,242.1 96.6,243.0 97.1,243.9 97.6,244.9 98.1,245.9 98.6,246.9 99.1,247.9 99.6,248.9 100.1,249.9 100.6,250.9 101.1,251.8 101.6,252.8 102.1,253.7 102.6,254.6 103.1,255.4 103.6,256.3 104.1,257.0 104.6,257.8 105.1,258.5 105.6,259.2 106.1,259.8 106.6,260.4 107.1,261.0 107.6,261.5 108.1,262.0 108.6,262.5 109.1,263.0 109.6,263.5 110.1,264.0 110.6,264.4 111.1,264.9 111.6,265.4 112.1,265.9 112.6,266.5 113.1,267.0 113.6,267.6 114.1,268.3 114.6,269.0 115.1,269.7 115.6,270.5 116.1,271.3 116.6,272.2 117.1,273.1 117.6,274.2 118.1,275.2 118.6,276.3 119.1,277.5 119.6,278.8 120.1,280.1 120.6,281.4 121.1,282.9 121.6,284.3 122.1,285.9 122.6,287.4 123.1,289.0 123.6,290.7 124.1,292.4 124.6,294.1 125.1,295.8 125.6,297.6 126.1,299.3 126.6,301.1 127.1,302.9 127.6,304.7 128.1,306.4 128.6,308.2 129.1,309.9 129.6,311.7 130.1,313.4 130.6,315.1 131.1,316.7 131.6,318.3 132.1,319.9 132.6,321.5 133.1,323.0 133.6,324.4 134.1,325.8 134.6,327.2 135.1,328.5 135.6,329.8 136.1,331.0 136.6,332.1 137.1,333.2 137.6,334.3 138.1,335.3 138.6,336.2 139.1,337.1 139.6,338.0 140.1,338.8 140.6,339.5 141.1,340.2 141.6,340.9 142.1,341.5 142.6,342.1 143.1,342.7 143.6,343.2 144.1,343.6 144.6,344.1 145.1,344.5 145.6,344.8 146.1,345.2 146.6,345.5 147.1,345.8 147.6,346.1 148.1,346.3 148.6,346.5 149.1,346.7 149.6,346.9 150.1,347.1 150.6,347.2 151.1,347.4 151.6,347.5 152.1,347.6 152.6,347.7 153.1,347.8 153.6,347.9 154.1,347.9 154.6,348.0 155.1,348.0 155.6,348.0 156.1,348.0 156.6,348.0 157.1,348.0 157.6,347.9 158.1,347.8 158.6,347.7 159.1,347.5 159.6,347.3 160.1,347.0 160.6,346.6 161.1,346.2 161.6,345.7 162.1,345.1 162.6,344.4 163.1,343.7 163.6,343.0 164.1,342.3 164.6,341.5 165.1,340.8" fill="none" stroke="#9c9c18" stroke-width="1.6"/>
<path d="M12.1,340.6 13.1,341.1 14.1,340.4 15.1,338.0 16.1,340.8 17.1,340.0 18.1,338.4 19.1,339.6 20.1,339.0 21.1,338.5 22.1,337.8 23.1,338.0 24.1,335.8 25.1,336.1 26.1,335.2 27.1,336.2 28.1,334.9 29.1,334.2 30.1,333.2 31.1,333.7 32.1,333.8 33.1,333.2 34.1,335.1 35.1,334.6 36.1,329.5 37.1,330.4 38.1,332.5 39.1,332.0 40.1,332.7 41.1,332.6 42.1,335.1 43.1,330.6 44.1,331.4 45.1,334.5 46.1,332.4 47.1,332.1 48.1,330.1 49.1,328.1 50.1,330.0 51.1,329.3 52.1,326.8 53.1,326.8 54.1,326.7 55.1,324.6 56.1,324.6 57.1,323.7 58.1,322.4 59.1,320.3 60.1,320.4 61.1,319.3 62.1,316.8 63.1,313.5 64.1,313.7 65.1,310.0 66.1,309.6 67.1,304.7 68.1,304.9 69.1,301.1 70.1,296.7 71.1,295.1 72.1,292.6 73.1,289.7 74.1,284.6 75.1,280.9 76.1,278.8 77.1,273.9 78.1,270.8 79.1,267.4 80.1,260.0 81.1,258.6 82.1,256.1 83.1,250.3 84.1,246.3 85.1,245.4 86.1,242.1 87.1,240.8 88.1,237.4 89.1,234.6 90.1,235.7 91.1,235.0 92.1,236.8 93.1,236.7 94.1,235.1 95.1,237.0 96.1,241.5 97.1,243.0 98.1,243.2 99.1,246.1 100.1,248.7 101.1,250.7 102.1,253.1 103.1,254.0 104.1,255.1 105.1,256.3 106.1,259.4 107.1,256.1 108.1,260.0 109.1,261.3 110.1,260.2 111.1,263.6 112.1,263.3 113.1,266.4 114.1,266.3 115.1,268.8 116.1,271.2 117.1,271.9 118.1,272.2 119.1,273.7 120.1,280.7 121.1,280.9 122.1,283.1 123.1,287.4 124.1,290.3 125.1,295.2 126.1,297.7 127.1,301.3 128.1,304.0 129.1,309.2 130.1,310.8 131.1,316.5 132.1,321.0 133.1,320.0 134.1,321.7 135.1,328.6 136.1,333.4 137.1,330.5 138.1,332.0 139.1,336.0 140.1,335.5 141.1,337.4 142.1,338.9 143.1,341.2 144.1,340.9 145.1,342.6 146.1,342.7 147.1,342.5 148.1,343.7 149.1,343.2 150.1,344.9 151.1,343.6 152.1,343.9 153.1,347.5 154.1,345.7 155.1,345.7 156.1,346.5 157.1,345.2 158.1,345.3 159.1,345.9 160.1,345.2 161.1,342.7 162.1,344.6 163.1,341.7 164.1,339.9 165.1,338.9" fill="none" stroke="#000" stroke-width="1.5" stroke-linejoin="round"/>
<path d="M11.5,213.6 L165.6,213.6 L165.6,353.6 L11.5,353.6 Z" fill="none" stroke="#1a1a1a" stroke-width="1.25"/>
<line x1="156.4" y1="353.6" x2="156.4" y2="355.8" stroke="#000" stroke-width="1"/>
<text x="156.4" y="364.9" font-family="Liberation Sans" font-size="9.0" font-weight="bold" font-style="normal" text-anchor="middle" fill="#000" stroke="#000" stroke-width="0.3" >396</text>
<line x1="122.24999999999999" y1="353.6" x2="122.24999999999999" y2="355.8" stroke="#000" stroke-width="1"/>
<text x="122.24999999999999" y="364.9" font-family="Liberation Sans" font-size="9.0" font-weight="bold" font-style="normal" text-anchor="middle" fill="#000" stroke="#000" stroke-width="0.3" >398</text>
<line x1="88.1" y1="353.6" x2="88.1" y2="355.8" stroke="#000" stroke-width="1"/>
<text x="88.1" y="364.9" font-family="Liberation Sans" font-size="9.0" font-weight="bold" font-style="normal" text-anchor="middle" fill="#000" stroke="#000" stroke-width="0.3" >400</text>
<line x1="53.95" y1="353.6" x2="53.95" y2="355.8" stroke="#000" stroke-width="1"/>
<text x="53.95" y="364.9" font-family="Liberation Sans" font-size="9.0" font-weight="bold" font-style="normal" text-anchor="middle" fill="#000" stroke="#000" stroke-width="0.3" >402</text>
<line x1="19.8" y1="353.6" x2="19.8" y2="355.8" stroke="#000" stroke-width="1"/>
<text x="19.8" y="364.9" font-family="Liberation Sans" font-size="9.0" font-weight="bold" font-style="normal" text-anchor="middle" fill="#000" stroke="#000" stroke-width="0.3" >404</text>
<line x1="139.325" y1="353.6" x2="139.325" y2="355.0" stroke="#000" stroke-width="0.9"/>
<line x1="105.175" y1="353.6" x2="105.175" y2="355.0" stroke="#000" stroke-width="0.9"/>
<line x1="71.02499999999999" y1="353.6" x2="71.02499999999999" y2="355.0" stroke="#000" stroke-width="0.9"/>
<line x1="36.875" y1="353.6" x2="36.875" y2="355.0" stroke="#000" stroke-width="0.9"/>
<text x="88.7" y="378.3" font-family="Liberation Sans" font-size="10.5" font-weight="bold" font-style="normal" text-anchor="middle" fill="#000" stroke="#000" stroke-width="0.3" >Binding energy (eV)</text>
<text x="7.3" y="284.8" font-family="Liberation Sans" font-size="8.3" font-weight="bold" font-style="normal" text-anchor="middle" fill="#000" stroke="#000" stroke-width="0.2" transform="rotate(-90 7.3 284.8)">Intensity</text>
<text x="13.6" y="225.9" font-family="Liberation Sans" font-size="11.8" font-weight="bold" font-style="normal" text-anchor="start" fill="#868602" stroke="#868602" stroke-width="0.15" >NC-650</text>
<text x="162.2" y="222.7" font-family="Liberation Sans" font-size="8.2" font-weight="bold" font-style="italic" text-anchor="end" fill="#000" stroke="#000" stroke-width="0.15" >XPS N 1s</text>
<path d="M199.5,334.2 200.0,334.2 200.5,334.2 201.0,334.2 201.5,334.2 202.0,334.2 202.5,334.2 203.0,334.2 203.5,334.2 204.0,334.2 204.5,334.2 205.0,334.2 205.5,334.2 206.0,334.2 206.5,334.2 207.0,334.2 207.5,334.3 208.0,334.3 208.5,334.3 209.0,334.3 209.5,334.3 210.0,334.3 210.5,334.3 211.0,334.3 211.5,334.3 212.0,334.3 212.5,334.3 213.0,334.3 213.5,334.3 214.0,334.3 214.5,334.4 215.0,334.4 215.5,334.4 216.0,334.4 216.5,334.4 217.0,334.4 217.5,334.4 218.0,334.4 218.5,334.4 219.0,334.4 219.5,334.5 220.0,334.5 220.5,334.5 221.0,334.5 221.5,334.5 222.0,334.5 222.5,334.5 223.0,334.5 223.5,334.5 224.0,334.6 224.5,334.6 225.0,334.6 225.5,334.6 226.0,334.6 226.5,334.6 227.0,334.6 227.5,334.6 228.0,334.7 228.5,334.7 229.0,334.7 229.5,334.7 230.0,334.7 230.5,334.7 231.0,334.7 231.5,334.7 232.0,334.8 232.5,334.8 233.0,334.8 233.5,334.8 234.0,334.8 234.5,334.8 235.0,334.9 235.5,334.9 236.0,334.9 236.5,334.9 237.0,334.9 237.5,335.0 238.0,335.0 238.5,335.0 239.0,335.0 239.5,335.0 240.0,335.1 240.5,335.1 241.0,335.1 241.5,335.1 242.0,335.2 242.5,335.2 243.0,335.2 243.5,335.2 244.0,335.3 244.5,335.3 245.0,335.3 245.5,335.3 246.0,335.4 246.5,335.4 247.0,335.4 247.5,335.5 248.0,335.5 248.5,335.5 249.0,335.6 249.5,335.6 250.0,335.6 250.5,335.6 251.0,335.7 251.5,335.7 252.0,335.7 252.5,335.8 253.0,335.8 253.5,335.8 254.0,335.9 254.5,335.9 255.0,335.9 255.5,335.9 256.0,336.0 256.5,336.0 257.0,336.0 257.5,336.1 258.0,336.1 258.5,336.1 259.0,336.1 259.5,336.1 260.0,336.2 260.5,336.2 261.0,336.2 261.5,336.2 262.0,336.2 262.5,336.2 263.0,336.2 263.5,336.2 264.0,336.2 264.5,336.2 265.0,336.2 265.5,336.2 266.0,336.1 266.5,336.1 267.0,336.0 267.5,335.9 268.0,335.9 268.5,335.8 269.0,335.7 269.5,335.5 270.0,335.4 270.5,335.2 271.0,335.0 271.5,334.8 272.0,334.6 272.5,334.3 273.0,334.1 273.5,333.7 274.0,333.4 274.5,333.0 275.0,332.6 275.5,332.1 276.0,331.6 276.5,331.0 277.0,330.4 277.5,329.8 278.0,329.1 278.5,328.3 279.0,327.5 279.5,326.7 280.0,325.8 280.5,324.8 281.0,323.8 281.5,322.7 282.0,321.5 282.5,320.3 283.0,319.0 283.5,317.7 284.0,316.3 284.5,314.8 285.0,313.3 285.5,311.7 286.0,310.1 286.5,308.4 287.0,306.7 287.5,304.9 288.0,303.1 288.5,301.2 289.0,299.3 289.5,297.4 290.0,295.5 290.5,293.5 291.0,291.5 291.5,289.5 292.0,287.6 292.5,285.6 293.0,283.6 293.5,281.7 294.0,279.8 294.5,277.9 295.0,276.1 295.5,274.3 296.0,272.6 296.5,271.0 297.0,269.4 297.5,267.9 298.0,266.5 298.5,265.2 299.0,264.1 299.5,263.0 300.0,262.0 300.5,261.2 301.0,260.5 301.5,259.9 302.0,259.5 302.5,259.2 303.0,259.0 303.5,259.0 304.0,259.1 304.5,259.3 305.0,259.7 305.5,260.3 306.0,260.9 306.5,261.7 307.0,262.6 307.5,263.7 308.0,264.8 308.5,266.1 309.0,267.5 309.5,269.0 310.0,270.5 310.5,272.2 311.0,273.9 311.5,275.7 312.0,277.6 312.5,279.5 313.0,281.5 313.5,283.5 314.0,285.6 314.5,287.7 315.0,289.7 315.5,291.8 316.0,293.9 316.5,296.0 317.0,298.1 317.5,300.2 318.0,302.2 318.5,304.3 319.0,306.2 319.5,308.2 320.0,310.1 320.5,311.9 321.0,313.7 321.5,315.5 322.0,317.2 322.5,318.8 323.0,320.4 323.5,321.9 324.0,323.3 324.5,324.7 325.0,326.0 325.5,327.3 326.0,328.5 326.5,329.6 327.0,330.7 327.5,331.7 328.0,332.6 328.5,333.5 329.0,334.3 329.5,335.1 330.0,335.8 330.5,336.5 331.0,337.2 331.5,337.7 332.0,338.3 332.5,338.8 333.0,339.2 333.5,339.7 334.0,340.0 334.5,340.4 335.0,340.7 335.5,341.0 336.0,341.3 336.5,341.6 337.0,341.8 337.5,342.0 338.0,342.2 338.5,342.3 339.0,342.5 339.5,342.6 340.0,342.7 340.5,342.9 341.0,343.0 341.5,343.0 342.0,343.1 342.5,343.2 343.0,343.3 343.5,343.3 344.0,343.4 344.5,343.4 345.0,343.4 345.5,343.5 346.0,343.5 346.5,343.5 347.0,343.6 347.5,343.6 348.0,343.6 348.5,343.6 349.0,343.6 349.5,343.6 350.0,343.6 350.5,343.7 351.0,343.7 351.5,343.7 352.0,343.7" fill="none" stroke="#82068a" stroke-width="1.85"/>
<path d="M199.5,334.2 200.0,334.2 200.5,334.2 201.0,334.2 201.5,334.2 202.0,334.2 202.5,334.2 203.0,334.2 203.5,334.2 204.0,334.2 204.5,334.2 205.0,334.2 205.5,334.2 206.0,334.2 206.5,334.2 207.0,334.2 207.5,334.3 208.0,334.3 208.5,334.3 209.0,334.3 209.5,334.3 210.0,334.3 210.5,334.3 211.0,334.3 211.5,334.3 212.0,334.3 212.5,334.3 213.0,334.3 213.5,334.3 214.0,334.3 214.5,334.4 215.0,334.4 215.5,334.4 216.0,334.4 216.5,334.4 217.0,334.4 217.5,334.4 218.0,334.4 218.5,334.4 219.0,334.4 219.5,334.5 220.0,334.5 220.5,334.5 221.0,334.5 221.5,334.5 222.0,334.5 222.5,334.5 223.0,334.5 223.5,334.5 224.0,334.5 224.5,334.6 225.0,334.6 225.5,334.6 226.0,334.6 226.5,334.6 227.0,334.6 227.5,334.6 228.0,334.6 228.5,334.6 229.0,334.6 229.5,334.6 230.0,334.6 230.5,334.6 231.0,334.6 231.5,334.6 232.0,334.6 232.5,334.6 233.0,334.6 233.5,334.6 234.0,334.6 234.5,334.6 235.0,334.6 235.5,334.6 236.0,334.5 236.5,334.5 237.0,334.4 237.5,334.4 238.0,334.3 238.5,334.3 239.0,334.2 239.5,334.1 240.0,334.0 240.5,333.9 241.0,333.8 241.5,333.6 242.0,333.5 242.5,333.3 243.0,333.1 243.5,332.9 244.0,332.6 244.5,332.4 245.0,332.1 245.5,331.7 246.0,331.4 246.5,331.0 247.0,330.5 247.5,330.1 248.0,329.5 248.5,329.0 249.0,328.4 249.5,327.7 250.0,327.0 250.5,326.3 251.0,325.5 251.5,324.6 252.0,323.7 252.5,322.7 253.0,321.7 253.5,320.6 254.0,319.4 254.5,318.2 255.0,316.9 255.5,315.6 256.0,314.2 256.5,312.7 257.0,311.2 257.5,309.6 258.0,307.9 258.5,306.2 259.0,304.5 259.5,302.7 260.0,300.8 260.5,298.9 261.0,297.0 261.5,295.1 262.0,293.1 262.5,291.1 263.0,289.1 263.5,287.1 264.0,285.0 264.5,283.0 265.0,281.0 265.5,279.1 266.0,277.1 266.5,275.2 267.0,273.4 267.5,271.6 268.0,269.9 268.5,268.2 269.0,266.6 269.5,265.1 270.0,263.7 270.5,262.4 271.0,261.2 271.5,260.1 272.0,259.2 272.5,258.3 273.0,257.6 273.5,257.0 274.0,256.6 274.5,256.3 275.0,256.1 275.5,256.1 276.0,256.2 276.5,256.4 277.0,256.8 277.5,257.4 278.0,258.0 278.5,258.8 279.0,259.8 279.5,260.8 280.0,262.0 280.5,263.3 281.0,264.7 281.5,266.2 282.0,267.8 282.5,269.5 283.0,271.2 283.5,273.1 284.0,275.0 284.5,276.9 285.0,279.0 285.5,281.0 286.0,283.1 286.5,285.2 287.0,287.3 287.5,289.5 288.0,291.6 288.5,293.7 289.0,295.9 289.5,298.0 290.0,300.1 290.5,302.1 291.0,304.1 291.5,306.1 292.0,308.0 292.5,309.9 293.0,311.7 293.5,313.5 294.0,315.2 294.5,316.9 295.0,318.5 295.5,320.0 296.0,321.5 296.5,322.9 297.0,324.2 297.5,325.5 298.0,326.7 298.5,327.9 299.0,328.9 299.5,330.0 300.0,330.9 300.5,331.8 301.0,332.7 301.5,333.5 302.0,334.3 302.5,335.0 303.0,335.6 303.5,336.2 304.0,336.8 304.5,337.3 305.0,337.8 305.5,338.3 306.0,338.7 306.5,339.1 307.0,339.5 307.5,339.8 308.0,340.1 308.5,340.4 309.0,340.7 309.5,340.9 310.0,341.1 310.5,341.3 311.0,341.5 311.5,341.7 312.0,341.8 312.5,342.0 313.0,342.1 313.5,342.2 314.0,342.3 314.5,342.4 315.0,342.5 315.5,342.6 316.0,342.7 316.5,342.7 317.0,342.8 317.5,342.9 318.0,342.9 318.5,343.0 319.0,343.0 319.5,343.1 320.0,343.1 320.5,343.2 321.0,343.2 321.5,343.3 322.0,343.3 322.5,343.3 323.0,343.4 323.5,343.4 324.0,343.4 324.5,343.5 325.0,343.5 325.5,343.5 326.0,343.5 326.5,343.5 327.0,343.6 327.5,343.6 328.0,343.6 328.5,343.6 329.0,343.6 329.5,343.6 330.0,343.6 330.5,343.6 331.0,343.6 331.5,343.6 332.0,343.6 332.5,343.6 333.0,343.6 333.5,343.6 334.0,343.6 334.5,343.6 335.0,343.6 335.5,343.6 336.0,343.6 336.5,343.7 337.0,343.7 337.5,343.7 338.0,343.7 338.5,343.7 339.0,343.7 339.5,343.7 340.0,343.7 340.5,343.7 341.0,343.7 341.5,343.7 342.0,343.7 342.5,343.7 343.0,343.7 343.5,343.7 344.0,343.7 344.5,343.7 345.0,343.7 345.5,343.7 346.0,343.7 346.5,343.7 347.0,343.7 347.5,343.7 348.0,343.7 348.5,343.7 349.0,343.7 349.5,343.7 350.0,343.7 350.5,343.7 351.0,343.7 351.5,343.7 352.0,343.7" fill="none" stroke="#0a8282" stroke-width="1.85"/>
<path d="M199.5,334.2 200.0,334.2 200.5,334.2 201.0,334.2 201.5,334.2 202.0,334.2 202.5,334.2 203.0,334.2 203.5,334.2 204.0,334.2 204.5,334.2 205.0,334.2 205.5,334.2 206.0,334.2 206.5,334.2 207.0,334.2 207.5,334.2 208.0,334.2 208.5,334.2 209.0,334.2 209.5,334.2 210.0,334.2 210.5,334.2 211.0,334.2 211.5,334.2 212.0,334.2 212.5,334.2 213.0,334.2 213.5,334.2 214.0,334.1 214.5,334.1 215.0,334.1 215.5,334.1 216.0,334.1 216.5,334.0 217.0,334.0 217.5,334.0 218.0,333.9 218.5,333.9 219.0,333.8 219.5,333.7 220.0,333.7 220.5,333.6 221.0,333.5 221.5,333.4 222.0,333.3 222.5,333.2 223.0,333.1 223.5,332.9 224.0,332.8 224.5,332.6 225.0,332.5 225.5,332.3 226.0,332.1 226.5,331.8 227.0,331.6 227.5,331.3 228.0,331.1 228.5,330.8 229.0,330.5 229.5,330.1 230.0,329.8 230.5,329.4 231.0,329.0 231.5,328.5 232.0,328.1 232.5,327.6 233.0,327.1 233.5,326.6 234.0,326.0 234.5,325.5 235.0,324.9 235.5,324.2 236.0,323.6 236.5,322.9 237.0,322.2 237.5,321.5 238.0,320.8 238.5,320.0 239.0,319.2 239.5,318.4 240.0,317.6 240.5,316.7 241.0,315.9 241.5,315.0 242.0,314.1 242.5,313.3 243.0,312.4 243.5,311.5 244.0,310.6 244.5,309.7 245.0,308.8 245.5,307.9 246.0,307.0 246.5,306.2 247.0,305.3 247.5,304.5 248.0,303.7 248.5,302.9 249.0,302.2 249.5,301.4 250.0,300.7 250.5,300.1 251.0,299.5 251.5,298.9 252.0,298.4 252.5,297.9 253.0,297.5 253.5,297.1 254.0,296.7 254.5,296.5 255.0,296.2 255.5,296.1 256.0,295.9 256.5,295.9 257.0,295.9 257.5,296.0 258.0,296.1 258.5,296.3 259.0,296.5 259.5,296.8 260.0,297.1 260.5,297.5 261.0,298.0 261.5,298.5 262.0,299.0 262.5,299.6 263.0,300.3 263.5,300.9 264.0,301.7 264.5,302.4 265.0,303.2 265.5,304.1 266.0,304.9 266.5,305.8 267.0,306.7 267.5,307.6 268.0,308.6 268.5,309.5 269.0,310.5 269.5,311.4 270.0,312.4 270.5,313.4 271.0,314.4 271.5,315.4 272.0,316.3 272.5,317.3 273.0,318.2 273.5,319.2 274.0,320.1 274.5,321.0 275.0,321.9 275.5,322.8 276.0,323.6 276.5,324.4 277.0,325.2 277.5,326.0 278.0,326.8 278.5,327.5 279.0,328.2 279.5,328.9 280.0,329.6 280.5,330.2 281.0,330.8 281.5,331.4 282.0,331.9 282.5,332.5 283.0,333.0 283.5,333.5 284.0,334.0 284.5,334.4 285.0,334.8 285.5,335.3 286.0,335.6 286.5,336.0 287.0,336.4 287.5,336.7 288.0,337.0 288.5,337.3 289.0,337.6 289.5,337.9 290.0,338.1 290.5,338.4 291.0,338.6 291.5,338.8 292.0,339.0 292.5,339.2 293.0,339.4 293.5,339.6 294.0,339.7 294.5,339.9 295.0,340.0 295.5,340.2 296.0,340.3 296.5,340.4 297.0,340.6 297.5,340.7 298.0,340.8 298.5,340.9 299.0,341.0 299.5,341.1 300.0,341.2 300.5,341.2 301.0,341.3 301.5,341.4 302.0,341.5 302.5,341.6 303.0,341.6 303.5,341.7 304.0,341.8 304.5,341.8 305.0,341.9 305.5,342.0 306.0,342.0 306.5,342.1 307.0,342.1 307.5,342.2 308.0,342.3 308.5,342.3 309.0,342.4 309.5,342.4 310.0,342.5 310.5,342.5 311.0,342.6 311.5,342.6 312.0,342.7 312.5,342.7 313.0,342.7 313.5,342.8 314.0,342.8 314.5,342.9 315.0,342.9 315.5,342.9 316.0,343.0 316.5,343.0 317.0,343.0 317.5,343.1 318.0,343.1 318.5,343.1 319.0,343.2 319.5,343.2 320.0,343.2 320.5,343.3 321.0,343.3 321.5,343.3 322.0,343.3 322.5,343.4 323.0,343.4 323.5,343.4 324.0,343.4 324.5,343.5 325.0,343.5 325.5,343.5 326.0,343.5 326.5,343.5 327.0,343.6 327.5,343.6 328.0,343.6 328.5,343.6 329.0,343.6 329.5,343.6 330.0,343.6 330.5,343.6 331.0,343.6 331.5,343.6 332.0,343.6 332.5,343.6 333.0,343.6 333.5,343.6 334.0,343.6 334.5,343.6 335.0,343.6 335.5,343.6 336.0,343.6 336.5,343.7 337.0,343.7 337.5,343.7 338.0,343.7 338.5,343.7 339.0,343.7 339.5,343.7 340.0,343.7 340.5,343.7 341.0,343.7 341.5,343.7 342.0,343.7 342.5,343.7 343.0,343.7 343.5,343.7 344.0,343.7 344.5,343.7 345.0,343.7 345.5,343.7 346.0,343.7 346.5,343.7 347.0,343.7 347.5,343.7 348.0,343.7 348.5,343.7 349.0,343.7 349.5,343.7 350.0,343.7 350.5,343.7 351.0,343.7 351.5,343.7 352.0,343.7" fill="none" stroke="#10108c" stroke-width="1.85"/>
<path d="M199.5,333.8 200.0,333.8 200.5,333.7 201.0,333.6 201.5,333.6 202.0,333.5 202.5,333.4 203.0,333.3 203.5,333.3 204.0,333.2 204.5,333.0 205.0,332.9 205.5,332.8 206.0,332.7 206.5,332.5 207.0,332.4 207.5,332.2 208.0,332.0 208.5,331.8 209.0,331.6 209.5,331.4 210.0,331.2 210.5,331.0 211.0,330.7 211.5,330.5 212.0,330.2 212.5,329.9 213.0,329.6 213.5,329.3 214.0,329.0 214.5,328.7 215.0,328.4 215.5,328.1 216.0,327.8 216.5,327.4 217.0,327.1 217.5,326.8 218.0,326.4 218.5,326.1 219.0,325.8 219.5,325.4 220.0,325.1 220.5,324.8 221.0,324.5 221.5,324.2 222.0,324.0 222.5,323.7 223.0,323.5 223.5,323.2 224.0,323.0 224.5,322.8 225.0,322.7 225.5,322.5 226.0,322.4 226.5,322.3 227.0,322.2 227.5,322.2 228.0,322.2 228.5,322.2 229.0,322.2 229.5,322.2 230.0,322.3 230.5,322.4 231.0,322.6 231.5,322.7 232.0,322.9 232.5,323.1 233.0,323.3 233.5,323.6 234.0,323.8 234.5,324.1 235.0,324.4 235.5,324.7 236.0,325.0 236.5,325.4 237.0,325.7 237.5,326.1 238.0,326.4 238.5,326.8 239.0,327.2 239.5,327.5 240.0,327.9 240.5,328.3 241.0,328.6 241.5,329.0 242.0,329.3 242.5,329.7 243.0,330.0 243.5,330.4 244.0,330.7 244.5,331.0 245.0,331.3 245.5,331.6 246.0,331.9 246.5,332.2 247.0,332.4 247.5,332.7 248.0,332.9 248.5,333.2 249.0,333.4 249.5,333.6 250.0,333.8 250.5,334.0 251.0,334.2 251.5,334.3 252.0,334.5 252.5,334.6 253.0,334.8 253.5,334.9 254.0,335.0 254.5,335.2 255.0,335.3 255.5,335.4 256.0,335.5 256.5,335.6 257.0,335.7 257.5,335.7 258.0,335.8 258.5,335.9 259.0,336.0 259.5,336.0 260.0,336.1 260.5,336.2 261.0,336.2 261.5,336.3 262.0,336.3 262.5,336.4 263.0,336.4 263.5,336.5 264.0,336.6 264.5,336.6 265.0,336.7 265.5,336.7 266.0,336.8 266.5,336.8 267.0,336.9 267.5,336.9 268.0,337.0 268.5,337.0 269.0,337.1 269.5,337.2 270.0,337.2 270.5,337.3 271.0,337.3 271.5,337.4 272.0,337.4 272.5,337.5 273.0,337.6 273.5,337.6 274.0,337.7 274.5,337.7 275.0,337.8 275.5,337.9 276.0,337.9 276.5,338.0 277.0,338.0 277.5,338.1 278.0,338.2 278.5,338.2 279.0,338.3 279.5,338.3 280.0,338.4 280.5,338.5 281.0,338.5 281.5,338.6 282.0,338.7 282.5,338.7 283.0,338.8 283.5,338.9 284.0,338.9 284.5,339.0 285.0,339.1 285.5,339.2 286.0,339.3 286.5,339.3 287.0,339.4 287.5,339.5 288.0,339.6 288.5,339.7 289.0,339.7 289.5,339.8 290.0,339.9 290.5,340.0 291.0,340.1 291.5,340.1 292.0,340.2 292.5,340.3 293.0,340.4 293.5,340.5 294.0,340.5 294.5,340.6 295.0,340.7 295.5,340.8 296.0,340.8 296.5,340.9 297.0,341.0 297.5,341.0 298.0,341.1 298.5,341.2 299.0,341.2 299.5,341.3 300.0,341.4 300.5,341.4 301.0,341.5 301.5,341.5 302.0,341.6 302.5,341.7 303.0,341.7 303.5,341.8 304.0,341.8 304.5,341.9 305.0,342.0 305.5,342.0 306.0,342.1 306.5,342.1 307.0,342.2 307.5,342.2 308.0,342.3 308.5,342.3 309.0,342.4 309.5,342.4 310.0,342.5 310.5,342.5 311.0,342.6 311.5,342.6 312.0,342.7 312.5,342.7 313.0,342.8 313.5,342.8 314.0,342.8 314.5,342.9 315.0,342.9 315.5,342.9 316.0,343.0 316.5,343.0 317.0,343.0 317.5,343.1 318.0,343.1 318.5,343.1 319.0,343.2 319.5,343.2 320.0,343.2 320.5,343.3 321.0,343.3 321.5,343.3 322.0,343.3 322.5,343.4 323.0,343.4 323.5,343.4 324.0,343.4 324.5,343.5 325.0,343.5 325.5,343.5 326.0,343.5 326.5,343.5 327.0,343.6 327.5,343.6 328.0,343.6 328.5,343.6 329.0,343.6 329.5,343.6 330.0,343.6 330.5,343.6 331.0,343.6 331.5,343.6 332.0,343.6 332.5,343.6 333.0,343.6 333.5,343.6 334.0,343.6 334.5,343.6 335.0,343.6 335.5,343.6 336.0,343.6 336.5,343.7 337.0,343.7 337.5,343.7 338.0,343.7 338.5,343.7 339.0,343.7 339.5,343.7 340.0,343.7 340.5,343.7 341.0,343.7 341.5,343.7 342.0,343.7 342.5,343.7 343.0,343.7 343.5,343.7 344.0,343.7 344.5,343.7 345.0,343.7 345.5,343.7 346.0,343.7 346.5,343.7 347.0,343.7 347.5,343.7 348.0,343.7 348.5,343.7 349.0,343.7 349.5,343.7 350.0,343.7 350.5,343.7 351.0,343.7 351.5,343.7 352.0,343.7" fill="none" stroke="#5c5c5c" stroke-width="1.85"/>
<path d="M199.5,334.0 200.0,334.0 200.5,333.9 201.0,333.8 201.5,333.8 202.0,333.7 202.5,333.6 203.0,333.5 203.5,333.4 204.0,333.3 204.5,333.2 205.0,333.1 205.5,333.0 206.0,332.8 206.5,332.7 207.0,332.5 207.5,332.4 208.0,332.2 208.5,332.0 209.0,331.8 209.5,331.6 210.0,331.3 210.5,331.1 211.0,330.8 211.5,330.6 212.0,330.3 212.5,330.0 213.0,329.7 213.5,329.4 214.0,329.0 214.5,328.7 215.0,328.4 215.5,328.0 216.0,327.6 216.5,327.3 217.0,326.9 217.5,326.5 218.0,326.1 218.5,325.7 219.0,325.3 219.5,324.9 220.0,324.5 220.5,324.1 221.0,323.7 221.5,323.4 222.0,323.0 222.5,322.6 223.0,322.2 223.5,321.8 224.0,321.5 224.5,321.1 225.0,320.7 225.5,320.4 226.0,320.0 226.5,319.7 227.0,319.4 227.5,319.1 228.0,318.7 228.5,318.4 229.0,318.1 229.5,317.8 230.0,317.5 230.5,317.2 231.0,316.9 231.5,316.6 232.0,316.3 232.5,316.0 233.0,315.7 233.5,315.4 234.0,315.1 234.5,314.7 235.0,314.3 235.5,314.0 236.0,313.6 236.5,313.2 237.0,312.7 237.5,312.3 238.0,311.8 238.5,311.3 239.0,310.7 239.5,310.2 240.0,309.6 240.5,308.9 241.0,308.3 241.5,307.6 242.0,306.8 242.5,306.1 243.0,305.3 243.5,304.4 244.0,303.6 244.5,302.7 245.0,301.7 245.5,300.7 246.0,299.7 246.5,298.7 247.0,297.6 247.5,296.5 248.0,295.4 248.5,294.2 249.0,293.0 249.5,291.8 250.0,290.5 250.5,289.2 251.0,287.9 251.5,286.6 252.0,285.3 252.5,283.9 253.0,282.5 253.5,281.1 254.0,279.6 254.5,278.2 255.0,276.7 255.5,275.2 256.0,273.7 256.5,272.2 257.0,270.7 257.5,269.2 258.0,267.6 258.5,266.1 259.0,264.6 259.5,263.0 260.0,261.5 260.5,260.0 261.0,258.5 261.5,257.0 262.0,255.5 262.5,254.0 263.0,252.6 263.5,251.2 264.0,249.8 264.5,248.5 265.0,247.2 265.5,245.9 266.0,244.7 266.5,243.5 267.0,242.4 267.5,241.4 268.0,240.4 268.5,239.5 269.0,238.7 269.5,237.9 270.0,237.3 270.5,236.7 271.0,236.2 271.5,235.7 272.0,235.4 272.5,235.1 273.0,235.0 273.5,234.9 274.0,234.9 274.5,235.0 275.0,235.2 275.5,235.4 276.0,235.7 276.5,236.2 277.0,236.6 277.5,237.2 278.0,237.8 278.5,238.5 279.0,239.2 279.5,239.9 280.0,240.7 280.5,241.5 281.0,242.4 281.5,243.2 282.0,244.1 282.5,245.0 283.0,245.8 283.5,246.7 284.0,247.5 284.5,248.3 285.0,249.1 285.5,249.8 286.0,250.5 286.5,251.2 287.0,251.8 287.5,252.3 288.0,252.8 288.5,253.2 289.0,253.5 289.5,253.8 290.0,254.1 290.5,254.2 291.0,254.3 291.5,254.4 292.0,254.4 292.5,254.3 293.0,254.2 293.5,254.0 294.0,253.9 294.5,253.7 295.0,253.4 295.5,253.2 296.0,252.9 296.5,252.7 297.0,252.4 297.5,252.2 298.0,252.0 298.5,251.8 299.0,251.7 299.5,251.6 300.0,251.6 300.5,251.6 301.0,251.8 301.5,251.9 302.0,252.2 302.5,252.6 303.0,253.0 303.5,253.6 304.0,254.2 304.5,254.9 305.0,255.8 305.5,256.7 306.0,257.7 306.5,258.9 307.0,260.1 307.5,261.4 308.0,262.8 308.5,264.3 309.0,265.9 309.5,267.6 310.0,269.3 310.5,271.2 311.0,273.0 311.5,275.0 312.0,277.0 312.5,279.0 313.0,281.1 313.5,283.2 314.0,285.3 314.5,287.4 315.0,289.6 315.5,291.7 316.0,293.8 316.5,296.0 317.0,298.1 317.5,300.2 318.0,302.3 318.5,304.3 319.0,306.3 319.5,308.3 320.0,310.2 320.5,312.1 321.0,313.9 321.5,315.6 322.0,317.3 322.5,319.0 323.0,320.5 323.5,322.1 324.0,323.5 324.5,324.9 325.0,326.2 325.5,327.5 326.0,328.7 326.5,329.8 327.0,330.9 327.5,331.9 328.0,332.8 328.5,333.7 329.0,334.5 329.5,335.3 330.0,336.0 330.5,336.7 331.0,337.3 331.5,337.9 332.0,338.5 332.5,339.0 333.0,339.4 333.5,339.9 334.0,340.2 334.5,340.6 335.0,340.9 335.5,341.2 336.0,341.5 336.5,341.8 337.0,342.0 337.5,342.2 338.0,342.4 338.5,342.5 339.0,342.7 339.5,342.8 340.0,342.9 340.5,343.1 341.0,343.2 341.5,343.2 342.0,343.3 342.5,343.4 343.0,343.5 343.5,343.5 344.0,343.6 344.5,343.6 345.0,343.6 345.5,343.7 346.0,343.7 346.5,343.7 347.0,343.8 347.5,343.8 348.0,343.8 348.5,343.8 349.0,343.8 349.5,343.8 350.0,343.8 350.5,343.9 351.0,343.9 351.5,343.9 352.0,343.9" fill="none" stroke="#9c9c18" stroke-width="1.6"/>
<path d="M199.5,332.0 200.5,331.2 201.5,331.2 202.5,328.9 203.5,333.4 204.5,332.5 205.5,330.7 206.5,331.6 207.5,330.8 208.5,329.5 209.5,330.8 210.5,329.0 211.5,328.5 212.5,327.4 213.5,328.2 214.5,327.0 215.5,327.0 216.5,325.1 217.5,325.2 218.5,323.3 219.5,324.4 220.5,323.0 221.5,322.4 222.5,321.7 223.5,319.5 224.5,320.7 225.5,321.5 226.5,316.9 227.5,316.2 228.5,316.0 229.5,318.0 230.5,316.8 231.5,317.3 232.5,316.4 233.5,315.3 234.5,314.8 235.5,313.7 236.5,314.1 237.5,311.2 238.5,311.1 239.5,310.8 240.5,311.3 241.5,307.1 242.5,305.3 243.5,304.2 244.5,304.1 245.5,300.8 246.5,300.5 247.5,294.8 248.5,295.7 249.5,293.2 250.5,288.0 251.5,287.0 252.5,285.5 253.5,281.4 254.5,279.5 255.5,278.0 256.5,272.7 257.5,269.0 258.5,265.4 259.5,263.9 260.5,259.9 261.5,256.9 262.5,254.0 263.5,252.0 264.5,247.4 265.5,244.3 266.5,240.8 267.5,242.5 268.5,239.3 269.5,239.1 270.5,236.0 271.5,234.2 272.5,234.8 273.5,233.8 274.5,232.5 275.5,233.3 276.5,236.9 277.5,236.5 278.5,237.8 279.5,238.6 280.5,239.8 281.5,243.2 282.5,243.9 283.5,244.9 284.5,247.3 285.5,248.0 286.5,250.6 287.5,252.8 288.5,251.5 289.5,254.7 290.5,252.8 291.5,253.8 292.5,252.5 293.5,252.9 294.5,252.8 295.5,251.7 296.5,250.9 297.5,250.4 298.5,249.8 299.5,248.7 300.5,250.1 301.5,251.1 302.5,252.2 303.5,252.8 304.5,256.2 305.5,255.5 306.5,256.8 307.5,261.9 308.5,261.6 309.5,267.0 310.5,268.4 311.5,273.7 312.5,275.1 313.5,282.4 314.5,285.4 315.5,288.8 316.5,295.9 317.5,299.1 318.5,302.4 319.5,305.5 320.5,310.0 321.5,313.4 322.5,317.8 323.5,320.9 324.5,322.2 325.5,324.9 326.5,327.2 327.5,328.4 328.5,331.1 329.5,333.2 330.5,335.5 331.5,337.4 332.5,336.1 333.5,338.5 334.5,338.1 335.5,341.5 336.5,339.7 337.5,340.7 338.5,339.5 339.5,339.9 340.5,341.3 341.5,340.8 342.5,341.8 343.5,339.8 344.5,342.3 345.5,340.7 346.5,343.6 347.5,341.5 348.5,343.0 349.5,340.3 350.5,342.3 351.5,340.9" fill="none" stroke="#000" stroke-width="1.5" stroke-linejoin="round"/>
<path d="M198.9,213.1 L352.6,213.1 L352.6,351.9 L198.9,351.9 Z" fill="none" stroke="#1a1a1a" stroke-width="1.25"/>
<line x1="344.6" y1="351.9" x2="344.6" y2="354.0" stroke="#000" stroke-width="1"/>
<text x="345.1" y="363.6" font-family="Liberation Sans" font-size="8.7" font-weight="bold" font-style="normal" text-anchor="middle" fill="#000" stroke="#000" stroke-width="0.3" >396</text>
<line x1="310.2" y1="351.9" x2="310.2" y2="354.0" stroke="#000" stroke-width="1"/>
<text x="310.7" y="363.6" font-family="Liberation Sans" font-size="8.7" font-weight="bold" font-style="normal" text-anchor="middle" fill="#000" stroke="#000" stroke-width="0.3" >398</text>
<line x1="275.8" y1="351.9" x2="275.8" y2="354.0" stroke="#000" stroke-width="1"/>
<text x="276.3" y="363.6" font-family="Liberation Sans" font-size="8.7" font-weight="bold" font-style="normal" text-anchor="middle" fill="#000" stroke="#000" stroke-width="0.3" >400</text>
<line x1="241.4" y1="351.9" x2="241.4" y2="354.0" stroke="#000" stroke-width="1"/>
<text x="241.9" y="363.6" font-family="Liberation Sans" font-size="8.7" font-weight="bold" font-style="normal" text-anchor="middle" fill="#000" stroke="#000" stroke-width="0.3" >402</text>
<line x1="207.0" y1="351.9" x2="207.0" y2="354.0" stroke="#000" stroke-width="1"/>
<text x="207.5" y="363.6" font-family="Liberation Sans" font-size="8.7" font-weight="bold" font-style="normal" text-anchor="middle" fill="#000" stroke="#000" stroke-width="0.3" >404</text>
<line x1="327.4" y1="351.9" x2="327.4" y2="353.3" stroke="#000" stroke-width="0.9"/>
<line x1="293.0" y1="351.9" x2="293.0" y2="353.3" stroke="#000" stroke-width="0.9"/>
<line x1="258.6" y1="351.9" x2="258.6" y2="353.3" stroke="#000" stroke-width="0.9"/>
<line x1="224.20000000000002" y1="351.9" x2="224.20000000000002" y2="353.3" stroke="#000" stroke-width="0.9"/>
<text x="275.8" y="375.6" font-family="Liberation Sans" font-size="9.2" font-weight="bold" font-style="normal" text-anchor="middle" fill="#000" stroke="#000" stroke-width="0.3" >Binding energy (eV)</text>
<text x="202.6" y="223.9" font-family="Liberation Sans" font-size="11.8" font-weight="bold" font-style="normal" text-anchor="start" fill="#0a8282" stroke="#0a8282" stroke-width="0.15" >NC-750</text>
<text x="351.9" y="222.0" font-family="Liberation Sans" font-size="8.2" font-weight="bold" font-style="italic" text-anchor="end" fill="#000" stroke="#000" stroke-width="0.15" >XPS N 1s</text>
<path d="M384.1,328.2 384.6,328.2 385.1,328.2 385.6,328.2 386.1,328.2 386.6,328.2 387.1,328.2 387.6,328.2 388.1,328.2 388.6,328.2 389.1,328.2 389.6,328.2 390.1,328.2 390.6,328.2 391.1,328.2 391.6,328.2 392.1,328.2 392.6,328.2 393.1,328.2 393.6,328.2 394.1,328.2 394.6,328.2 395.1,328.2 395.6,328.2 396.1,328.3 396.6,328.3 397.1,328.3 397.6,328.3 398.1,328.3 398.6,328.3 399.1,328.3 399.6,328.3 400.1,328.3 400.6,328.3 401.1,328.3 401.6,328.3 402.1,328.3 402.6,328.3 403.1,328.3 403.6,328.3 404.1,328.3 404.6,328.3 405.1,328.4 405.6,328.4 406.1,328.4 406.6,328.4 407.1,328.4 407.6,328.4 408.1,328.4 408.6,328.4 409.1,328.4 409.6,328.4 410.1,328.4 410.6,328.4 411.1,328.4 411.6,328.5 412.1,328.5 412.6,328.5 413.1,328.5 413.6,328.5 414.1,328.5 414.6,328.5 415.1,328.5 415.6,328.5 416.1,328.5 416.6,328.6 417.1,328.6 417.6,328.6 418.1,328.6 418.6,328.6 419.1,328.6 419.6,328.6 420.1,328.6 420.6,328.6 421.1,328.7 421.6,328.7 422.1,328.7 422.6,328.7 423.1,328.7 423.6,328.7 424.1,328.7 424.6,328.7 425.1,328.8 425.6,328.8 426.1,328.8 426.6,328.8 427.1,328.8 427.6,328.8 428.1,328.8 428.6,328.9 429.1,328.9 429.6,328.9 430.1,328.9 430.6,328.9 431.1,328.9 431.6,329.0 432.1,329.0 432.6,329.0 433.1,329.1 433.6,329.1 434.1,329.1 434.6,329.2 435.1,329.2 435.6,329.3 436.1,329.3 436.6,329.4 437.1,329.5 437.6,329.5 438.1,329.6 438.6,329.7 439.1,329.7 439.6,329.8 440.1,329.8 440.6,329.9 441.1,330.0 441.6,330.1 442.1,330.1 442.6,330.2 443.1,330.3 443.6,330.3 444.1,330.4 444.6,330.4 445.1,330.5 445.6,330.6 446.1,330.6 446.6,330.7 447.1,330.7 447.6,330.7 448.1,330.8 448.6,330.8 449.1,330.8 449.6,330.8 450.1,330.8 450.6,330.8 451.1,330.8 451.6,330.8 452.1,330.7 452.6,330.7 453.1,330.6 453.6,330.5 454.1,330.4 454.6,330.3 455.1,330.1 455.6,330.0 456.1,329.8 456.6,329.6 457.1,329.4 457.6,329.1 458.1,328.8 458.6,328.5 459.1,328.1 459.6,327.7 460.1,327.2 460.6,326.7 461.1,326.2 461.6,325.6 462.1,325.0 462.6,324.3 463.1,323.6 463.6,322.8 464.1,322.0 464.6,321.1 465.1,320.1 465.6,319.1 466.1,318.0 466.6,316.9 467.1,315.7 467.6,314.4 468.1,313.1 468.6,311.7 469.1,310.2 469.6,308.7 470.1,307.2 470.6,305.6 471.1,303.9 471.6,302.2 472.1,300.5 472.6,298.7 473.1,296.8 473.6,295.0 474.1,293.1 474.6,291.2 475.1,289.3 475.6,287.3 476.1,285.4 476.6,283.5 477.1,281.6 477.6,279.7 478.1,277.9 478.6,276.0 479.1,274.3 479.6,272.5 480.1,270.9 480.6,269.3 481.1,267.7 481.6,266.3 482.1,264.9 482.6,263.7 483.1,262.5 483.6,261.5 484.1,260.5 484.6,259.7 485.1,259.0 485.6,258.4 486.1,258.0 486.6,257.7 487.1,257.5 487.6,257.4 488.1,257.5 488.6,257.7 489.1,258.1 489.6,258.6 490.1,259.2 490.6,259.9 491.1,260.8 491.6,261.8 492.1,262.9 492.6,264.2 493.1,265.5 493.6,266.9 494.1,268.5 494.6,270.1 495.1,271.8 495.6,273.5 496.1,275.4 496.6,277.3 497.1,279.2 497.6,281.2 498.1,283.3 498.6,285.3 499.1,287.4 499.6,289.5 500.1,291.6 500.6,293.7 501.1,295.8 501.6,297.9 502.1,299.9 502.6,302.0 503.1,304.0 503.6,306.0 504.1,307.9 504.6,309.8 505.1,311.6 505.6,313.4 506.1,315.2 506.6,316.8 507.1,318.5 507.6,320.0 508.1,321.5 508.6,323.0 509.1,324.4 509.6,325.7 510.1,326.9 510.6,328.1 511.1,329.3 511.6,330.3 512.1,331.3 512.6,332.3 513.1,333.2 513.6,334.1 514.1,334.8 514.6,335.6 515.1,336.3 515.6,336.9 516.1,337.5 516.6,338.1 517.1,338.6 517.6,339.1 518.1,339.6 518.6,340.0 519.1,340.4 519.6,340.7 520.1,341.1 520.6,341.4 521.1,341.7 521.6,341.9 522.1,342.1 522.6,342.4 523.1,342.6 523.6,342.7 524.1,342.9 524.6,343.0 525.1,343.2 525.6,343.3 526.1,343.4 526.6,343.5 527.1,343.6 527.6,343.7 528.1,343.8 528.6,343.8 529.1,343.9 529.6,343.9 530.1,344.0 530.6,344.0 531.1,344.1 531.6,344.1 532.1,344.1 532.6,344.1 533.1,344.2 533.6,344.2 534.1,344.2 534.6,344.2 535.1,344.2 535.6,344.3 536.1,344.3" fill="none" stroke="#82068a" stroke-width="1.85"/>
<path d="M384.1,328.2 384.6,328.2 385.1,328.2 385.6,328.2 386.1,328.2 386.6,328.2 387.1,328.2 387.6,328.2 388.1,328.2 388.6,328.2 389.1,328.2 389.6,328.2 390.1,328.2 390.6,328.2 391.1,328.2 391.6,328.2 392.1,328.2 392.6,328.2 393.1,328.2 393.6,328.2 394.1,328.2 394.6,328.2 395.1,328.2 395.6,328.2 396.1,328.3 396.6,328.3 397.1,328.3 397.6,328.3 398.1,328.3 398.6,328.3 399.1,328.3 399.6,328.3 400.1,328.3 400.6,328.3 401.1,328.3 401.6,328.3 402.1,328.3 402.6,328.3 403.1,328.3 403.6,328.3 404.1,328.3 404.6,328.3 405.1,328.3 405.6,328.4 406.1,328.4 406.6,328.4 407.1,328.4 407.6,328.4 408.1,328.4 408.6,328.4 409.1,328.4 409.6,328.4 410.1,328.4 410.6,328.4 411.1,328.4 411.6,328.4 412.1,328.4 412.6,328.4 413.1,328.5 413.6,328.5 414.1,328.5 414.6,328.5 415.1,328.5 415.6,328.5 416.1,328.5 416.6,328.5 417.1,328.5 417.6,328.5 418.1,328.5 418.6,328.4 419.1,328.4 419.6,328.4 420.1,328.4 420.6,328.4 421.1,328.4 421.6,328.3 422.1,328.3 422.6,328.2 423.1,328.2 423.6,328.1 424.1,328.1 424.6,328.0 425.1,327.9 425.6,327.8 426.1,327.7 426.6,327.6 427.1,327.4 427.6,327.3 428.1,327.1 428.6,326.9 429.1,326.7 429.6,326.5 430.1,326.3 430.6,326.0 431.1,325.7 431.6,325.4 432.1,325.0 432.6,324.7 433.1,324.3 433.6,323.8 434.1,323.4 434.6,322.9 435.1,322.3 435.6,321.7 436.1,321.1 436.6,320.5 437.1,319.8 437.6,319.0 438.1,318.2 438.6,317.4 439.1,316.5 439.6,315.5 440.1,314.5 440.6,313.5 441.1,312.4 441.6,311.3 442.1,310.1 442.6,308.8 443.1,307.5 443.6,306.2 444.1,304.8 444.6,303.4 445.1,301.9 445.6,300.4 446.1,298.9 446.6,297.3 447.1,295.7 447.6,294.1 448.1,292.5 448.6,290.9 449.1,289.2 449.6,287.6 450.1,285.9 450.6,284.3 451.1,282.7 451.6,281.1 452.1,279.6 452.6,278.0 453.1,276.6 453.6,275.2 454.1,273.8 454.6,272.5 455.1,271.3 455.6,270.2 456.1,269.1 456.6,268.1 457.1,267.2 457.6,266.5 458.1,265.8 458.6,265.2 459.1,264.7 459.6,264.4 460.1,264.2 460.6,264.0 461.1,264.0 461.6,264.1 462.1,264.4 462.6,264.7 463.1,265.2 463.6,265.7 464.1,266.4 464.6,267.2 465.1,268.1 465.6,269.1 466.1,270.2 466.6,271.4 467.1,272.7 467.6,274.0 468.1,275.4 468.6,276.9 469.1,278.5 469.6,280.1 470.1,281.8 470.6,283.5 471.1,285.2 471.6,287.0 472.1,288.8 472.6,290.6 473.1,292.5 473.6,294.3 474.1,296.1 474.6,298.0 475.1,299.8 475.6,301.6 476.1,303.4 476.6,305.1 477.1,306.8 477.6,308.5 478.1,310.2 478.6,311.8 479.1,313.4 479.6,314.9 480.1,316.4 480.6,317.8 481.1,319.2 481.6,320.5 482.1,321.8 482.6,323.0 483.1,324.2 483.6,325.3 484.1,326.4 484.6,327.4 485.1,328.4 485.6,329.3 486.1,330.2 486.6,331.0 487.1,331.8 487.6,332.5 488.1,333.2 488.6,333.9 489.1,334.5 489.6,335.0 490.1,335.6 490.6,336.1 491.1,336.5 491.6,337.0 492.1,337.4 492.6,337.8 493.1,338.1 493.6,338.4 494.1,338.8 494.6,339.0 495.1,339.3 495.6,339.5 496.1,339.8 496.6,340.0 497.1,340.2 497.6,340.4 498.1,340.5 498.6,340.7 499.1,340.9 499.6,341.0 500.1,341.1 500.6,341.3 501.1,341.4 501.6,341.5 502.1,341.6 502.6,341.7 503.1,341.8 503.6,341.9 504.1,342.0 504.6,342.1 505.1,342.1 505.6,342.2 506.1,342.3 506.6,342.4 507.1,342.4 507.6,342.5 508.1,342.6 508.6,342.6 509.1,342.7 509.6,342.7 510.1,342.8 510.6,342.9 511.1,342.9 511.6,342.9 512.1,343.0 512.6,343.0 513.1,343.1 513.6,343.1 514.1,343.2 514.6,343.2 515.1,343.3 515.6,343.3 516.1,343.3 516.6,343.4 517.1,343.4 517.6,343.5 518.1,343.5 518.6,343.6 519.1,343.6 519.6,343.6 520.1,343.7 520.6,343.7 521.1,343.7 521.6,343.8 522.1,343.8 522.6,343.8 523.1,343.9 523.6,343.9 524.1,343.9 524.6,344.0 525.1,344.0 525.6,344.0 526.1,344.0 526.6,344.1 527.1,344.1 527.6,344.1 528.1,344.1 528.6,344.1 529.1,344.2 529.6,344.2 530.1,344.2 530.6,344.2 531.1,344.2 531.6,344.2 532.1,344.2 532.6,344.2 533.1,344.3 533.6,344.3 534.1,344.3 534.6,344.3 535.1,344.3 535.6,344.3 536.1,344.3" fill="none" stroke="#0a8282" stroke-width="1.85"/>
<path d="M384.1,328.2 384.6,328.2 385.1,328.2 385.6,328.2 386.1,328.2 386.6,328.2 387.1,328.2 387.6,328.2 388.1,328.2 388.6,328.2 389.1,328.2 389.6,328.2 390.1,328.2 390.6,328.2 391.1,328.2 391.6,328.2 392.1,328.2 392.6,328.2 393.1,328.2 393.6,328.2 394.1,328.2 394.6,328.2 395.1,328.2 395.6,328.2 396.1,328.2 396.6,328.2 397.1,328.2 397.6,328.2 398.1,328.2 398.6,328.2 399.1,328.2 399.6,328.2 400.1,328.1 400.6,328.1 401.1,328.1 401.6,328.1 402.1,328.1 402.6,328.0 403.1,328.0 403.6,328.0 404.1,327.9 404.6,327.9 405.1,327.8 405.6,327.7 406.1,327.6 406.6,327.5 407.1,327.4 407.6,327.3 408.1,327.2 408.6,327.1 409.1,326.9 409.6,326.7 410.1,326.5 410.6,326.3 411.1,326.1 411.6,325.8 412.1,325.5 412.6,325.2 413.1,324.9 413.6,324.5 414.1,324.1 414.6,323.7 415.1,323.2 415.6,322.7 416.1,322.1 416.6,321.5 417.1,320.9 417.6,320.2 418.1,319.5 418.6,318.7 419.1,317.9 419.6,317.0 420.1,316.0 420.6,315.0 421.1,314.0 421.6,312.9 422.1,311.7 422.6,310.5 423.1,309.3 423.6,308.0 424.1,306.6 424.6,305.2 425.1,303.7 425.6,302.2 426.1,300.7 426.6,299.1 427.1,297.4 427.6,295.8 428.1,294.1 428.6,292.4 429.1,290.6 429.6,288.9 430.1,287.1 430.6,285.4 431.1,283.6 431.6,281.9 432.1,280.2 432.6,278.5 433.1,276.9 433.6,275.3 434.1,273.7 434.6,272.2 435.1,270.8 435.6,269.4 436.1,268.1 436.6,266.9 437.1,265.8 437.6,264.8 438.1,263.8 438.6,263.0 439.1,262.3 439.6,261.7 440.1,261.2 440.6,260.8 441.1,260.6 441.6,260.4 442.1,260.4 442.6,260.5 443.1,260.8 443.6,261.1 444.1,261.6 444.6,262.2 445.1,262.9 445.6,263.7 446.1,264.7 446.6,265.7 447.1,266.8 447.6,268.1 448.1,269.4 448.6,270.8 449.1,272.3 449.6,273.8 450.1,275.4 450.6,277.1 451.1,278.8 451.6,280.5 452.1,282.3 452.6,284.1 453.1,286.0 453.6,287.8 454.1,289.7 454.6,291.6 455.1,293.4 455.6,295.3 456.1,297.1 456.6,298.9 457.1,300.7 457.6,302.5 458.1,304.2 458.6,305.9 459.1,307.6 459.6,309.2 460.1,310.7 460.6,312.2 461.1,313.7 461.6,315.1 462.1,316.5 462.6,317.8 463.1,319.0 463.6,320.2 464.1,321.4 464.6,322.4 465.1,323.5 465.6,324.5 466.1,325.4 466.6,326.3 467.1,327.1 467.6,327.9 468.1,328.6 468.6,329.3 469.1,330.0 469.6,330.6 470.1,331.2 470.6,331.7 471.1,332.2 471.6,332.7 472.1,333.1 472.6,333.5 473.1,333.9 473.6,334.3 474.1,334.6 474.6,334.9 475.1,335.2 475.6,335.5 476.1,335.8 476.6,336.0 477.1,336.3 477.6,336.5 478.1,336.7 478.6,336.9 479.1,337.1 479.6,337.3 480.1,337.4 480.6,337.6 481.1,337.8 481.6,337.9 482.1,338.1 482.6,338.2 483.1,338.3 483.6,338.5 484.1,338.6 484.6,338.7 485.1,338.8 485.6,339.0 486.1,339.1 486.6,339.2 487.1,339.3 487.6,339.4 488.1,339.5 488.6,339.6 489.1,339.7 489.6,339.8 490.1,339.9 490.6,340.0 491.1,340.1 491.6,340.2 492.1,340.3 492.6,340.4 493.1,340.5 493.6,340.6 494.1,340.7 494.6,340.8 495.1,340.8 495.6,340.9 496.1,341.0 496.6,341.1 497.1,341.1 497.6,341.2 498.1,341.3 498.6,341.4 499.1,341.4 499.6,341.5 500.1,341.6 500.6,341.7 501.1,341.7 501.6,341.8 502.1,341.9 502.6,341.9 503.1,342.0 503.6,342.1 504.1,342.1 504.6,342.2 505.1,342.3 505.6,342.3 506.1,342.4 506.6,342.4 507.1,342.5 507.6,342.6 508.1,342.6 508.6,342.7 509.1,342.7 509.6,342.8 510.1,342.8 510.6,342.9 511.1,342.9 511.6,343.0 512.1,343.0 512.6,343.1 513.1,343.1 513.6,343.1 514.1,343.2 514.6,343.2 515.1,343.3 515.6,343.3 516.1,343.4 516.6,343.4 517.1,343.4 517.6,343.5 518.1,343.5 518.6,343.6 519.1,343.6 519.6,343.6 520.1,343.7 520.6,343.7 521.1,343.7 521.6,343.8 522.1,343.8 522.6,343.8 523.1,343.9 523.6,343.9 524.1,343.9 524.6,344.0 525.1,344.0 525.6,344.0 526.1,344.0 526.6,344.1 527.1,344.1 527.6,344.1 528.1,344.1 528.6,344.1 529.1,344.2 529.6,344.2 530.1,344.2 530.6,344.2 531.1,344.2 531.6,344.2 532.1,344.2 532.6,344.2 533.1,344.3 533.6,344.3 534.1,344.3 534.6,344.3 535.1,344.3 535.6,344.3 536.1,344.3" fill="none" stroke="#10108c" stroke-width="1.85"/>
<path d="M384.1,328.1 384.6,328.1 385.1,328.1 385.6,328.1 386.1,328.0 386.6,328.0 387.1,328.0 387.6,327.9 388.1,327.9 388.6,327.9 389.1,327.8 389.6,327.7 390.1,327.7 390.6,327.6 391.1,327.5 391.6,327.4 392.1,327.3 392.6,327.2 393.1,327.1 393.6,326.9 394.1,326.8 394.6,326.6 395.1,326.5 395.6,326.3 396.1,326.0 396.6,325.8 397.1,325.6 397.6,325.3 398.1,325.0 398.6,324.8 399.1,324.4 399.6,324.1 400.1,323.8 400.6,323.4 401.1,323.0 401.6,322.7 402.1,322.3 402.6,321.9 403.1,321.4 403.6,321.0 404.1,320.6 404.6,320.1 405.1,319.7 405.6,319.3 406.1,318.9 406.6,318.4 407.1,318.0 407.6,317.6 408.1,317.2 408.6,316.9 409.1,316.5 409.6,316.2 410.1,315.9 410.6,315.6 411.1,315.4 411.6,315.2 412.1,315.0 412.6,314.9 413.1,314.8 413.6,314.7 414.1,314.7 414.6,314.7 415.1,314.7 415.6,314.8 416.1,314.9 416.6,315.0 417.1,315.1 417.6,315.2 418.1,315.4 418.6,315.5 419.1,315.7 419.6,315.9 420.1,316.1 420.6,316.4 421.1,316.6 421.6,316.9 422.1,317.2 422.6,317.4 423.1,317.7 423.6,318.0 424.1,318.3 424.6,318.7 425.1,319.0 425.6,319.3 426.1,319.6 426.6,320.0 427.1,320.3 427.6,320.7 428.1,321.0 428.6,321.3 429.1,321.7 429.6,322.0 430.1,322.3 430.6,322.6 431.1,323.0 431.6,323.3 432.1,323.6 432.6,323.9 433.1,324.2 433.6,324.5 434.1,324.8 434.6,325.1 435.1,325.4 435.6,325.7 436.1,326.0 436.6,326.2 437.1,326.5 437.6,326.8 438.1,327.0 438.6,327.3 439.1,327.5 439.6,327.7 440.1,328.0 440.6,328.2 441.1,328.4 441.6,328.6 442.1,328.8 442.6,329.0 443.1,329.2 443.6,329.4 444.1,329.5 444.6,329.7 445.1,329.9 445.6,330.0 446.1,330.2 446.6,330.3 447.1,330.5 447.6,330.6 448.1,330.7 448.6,330.8 449.1,331.0 449.6,331.1 450.1,331.2 450.6,331.3 451.1,331.4 451.6,331.5 452.1,331.7 452.6,331.8 453.1,331.9 453.6,332.0 454.1,332.1 454.6,332.2 455.1,332.3 455.6,332.4 456.1,332.5 456.6,332.7 457.1,332.8 457.6,332.9 458.1,333.0 458.6,333.1 459.1,333.2 459.6,333.3 460.1,333.5 460.6,333.6 461.1,333.7 461.6,333.8 462.1,333.9 462.6,334.0 463.1,334.1 463.6,334.3 464.1,334.4 464.6,334.5 465.1,334.6 465.6,334.7 466.1,334.8 466.6,335.0 467.1,335.1 467.6,335.2 468.1,335.3 468.6,335.4 469.1,335.5 469.6,335.6 470.1,335.7 470.6,335.9 471.1,336.0 471.6,336.1 472.1,336.2 472.6,336.3 473.1,336.4 473.6,336.5 474.1,336.6 474.6,336.7 475.1,336.8 475.6,336.9 476.1,337.0 476.6,337.1 477.1,337.2 477.6,337.3 478.1,337.5 478.6,337.6 479.1,337.7 479.6,337.8 480.1,337.9 480.6,338.0 481.1,338.1 481.6,338.2 482.1,338.3 482.6,338.4 483.1,338.5 483.6,338.6 484.1,338.7 484.6,338.9 485.1,339.0 485.6,339.1 486.1,339.2 486.6,339.3 487.1,339.4 487.6,339.5 488.1,339.6 488.6,339.7 489.1,339.8 489.6,339.9 490.1,340.0 490.6,340.1 491.1,340.2 491.6,340.2 492.1,340.3 492.6,340.4 493.1,340.5 493.6,340.6 494.1,340.7 494.6,340.8 495.1,340.8 495.6,340.9 496.1,341.0 496.6,341.1 497.1,341.1 497.6,341.2 498.1,341.3 498.6,341.4 499.1,341.4 499.6,341.5 500.1,341.6 500.6,341.7 501.1,341.7 501.6,341.8 502.1,341.9 502.6,341.9 503.1,342.0 503.6,342.1 504.1,342.1 504.6,342.2 505.1,342.3 505.6,342.3 506.1,342.4 506.6,342.4 507.1,342.5 507.6,342.6 508.1,342.6 508.6,342.7 509.1,342.7 509.6,342.8 510.1,342.8 510.6,342.9 511.1,342.9 511.6,343.0 512.1,343.0 512.6,343.1 513.1,343.1 513.6,343.1 514.1,343.2 514.6,343.2 515.1,343.3 515.6,343.3 516.1,343.4 516.6,343.4 517.1,343.4 517.6,343.5 518.1,343.5 518.6,343.6 519.1,343.6 519.6,343.6 520.1,343.7 520.6,343.7 521.1,343.7 521.6,343.8 522.1,343.8 522.6,343.8 523.1,343.9 523.6,343.9 524.1,343.9 524.6,344.0 525.1,344.0 525.6,344.0 526.1,344.0 526.6,344.1 527.1,344.1 527.6,344.1 528.1,344.1 528.6,344.1 529.1,344.2 529.6,344.2 530.1,344.2 530.6,344.2 531.1,344.2 531.6,344.2 532.1,344.2 532.6,344.2 533.1,344.3 533.6,344.3 534.1,344.3 534.6,344.3 535.1,344.3 535.6,344.3 536.1,344.3" fill="none" stroke="#5c5c5c" stroke-width="1.85"/>
<path d="M384.1,328.3 384.6,328.3 385.1,328.3 385.6,328.3 386.1,328.2 386.6,328.2 387.1,328.2 387.6,328.1 388.1,328.1 388.6,328.1 389.1,328.0 389.6,327.9 390.1,327.9 390.6,327.8 391.1,327.7 391.6,327.6 392.1,327.5 392.6,327.4 393.1,327.3 393.6,327.1 394.1,327.0 394.6,326.8 395.1,326.6 395.6,326.4 396.1,326.2 396.6,326.0 397.1,325.7 397.6,325.5 398.1,325.2 398.6,324.9 399.1,324.5 399.6,324.2 400.1,323.8 400.6,323.5 401.1,323.1 401.6,322.6 402.1,322.2 402.6,321.8 403.1,321.3 403.6,320.8 404.1,320.3 404.6,319.9 405.1,319.4 405.6,318.8 406.1,318.3 406.6,317.8 407.1,317.3 407.6,316.8 408.1,316.3 408.6,315.7 409.1,315.2 409.6,314.7 410.1,314.2 410.6,313.7 411.1,313.2 411.6,312.8 412.1,312.3 412.6,311.8 413.1,311.4 413.6,310.9 414.1,310.5 414.6,310.0 415.1,309.6 415.6,309.1 416.1,308.6 416.6,308.1 417.1,307.5 417.6,306.9 418.1,306.3 418.6,305.7 419.1,305.0 419.6,304.3 420.1,303.5 420.6,302.7 421.1,301.9 421.6,301.0 422.1,300.0 422.6,299.0 423.1,298.0 423.6,296.9 424.1,295.7 424.6,294.5 425.1,293.3 425.6,292.0 426.1,290.6 426.6,289.2 427.1,287.8 427.6,286.3 428.1,284.7 428.6,283.1 429.1,281.5 429.6,279.8 430.1,278.1 430.6,276.4 431.1,274.6 431.6,272.8 432.1,271.0 432.6,269.2 433.1,267.4 433.6,265.6 434.1,263.8 434.6,262.0 435.1,260.2 435.6,258.4 436.1,256.7 436.6,255.0 437.1,253.3 437.6,251.6 438.1,250.0 438.6,248.5 439.1,246.9 439.6,245.5 440.1,244.1 440.6,242.7 441.1,241.4 441.6,240.2 442.1,239.0 442.6,237.9 443.1,236.8 443.6,235.9 444.1,235.0 444.6,234.1 445.1,233.3 445.6,232.6 446.1,232.0 446.6,231.4 447.1,230.9 447.6,230.4 448.1,230.0 448.6,229.7 449.1,229.4 449.6,229.2 450.1,229.0 450.6,228.9 451.1,228.8 451.6,228.8 452.1,228.9 452.6,228.9 453.1,229.1 453.6,229.3 454.1,229.5 454.6,229.8 455.1,230.1 455.6,230.5 456.1,230.9 456.6,231.3 457.1,231.8 457.6,232.3 458.1,232.8 458.6,233.4 459.1,234.0 459.6,234.7 460.1,235.3 460.6,236.0 461.1,236.7 461.6,237.4 462.1,238.1 462.6,238.9 463.1,239.6 463.6,240.4 464.1,241.1 464.6,241.9 465.1,242.6 465.6,243.4 466.1,244.1 466.6,244.8 467.1,245.5 467.6,246.1 468.1,246.7 468.6,247.3 469.1,247.9 469.6,248.4 470.1,248.8 470.6,249.3 471.1,249.6 471.6,250.0 472.1,250.2 472.6,250.5 473.1,250.6 473.6,250.8 474.1,250.8 474.6,250.9 475.1,250.8 475.6,250.8 476.1,250.7 476.6,250.6 477.1,250.4 477.6,250.2 478.1,250.0 478.6,249.8 479.1,249.6 479.6,249.3 480.1,249.1 480.6,248.9 481.1,248.7 481.6,248.5 482.1,248.4 482.6,248.3 483.1,248.2 483.6,248.2 484.1,248.2 484.6,248.3 485.1,248.5 485.6,248.8 486.1,249.1 486.6,249.5 487.1,250.0 487.6,250.6 488.1,251.3 488.6,252.1 489.1,253.0 489.6,253.9 490.1,255.0 490.6,256.1 491.1,257.4 491.6,258.7 492.1,260.2 492.6,261.7 493.1,263.3 493.6,265.0 494.1,266.7 494.6,268.6 495.1,270.4 495.6,272.4 496.1,274.4 496.6,276.4 497.1,278.5 497.6,280.6 498.1,282.7 498.6,284.8 499.1,287.0 499.6,289.2 500.1,291.3 500.6,293.5 501.1,295.6 501.6,297.8 502.1,299.9 502.6,301.9 503.1,304.0 503.6,306.0 504.1,307.9 504.6,309.9 505.1,311.7 505.6,313.5 506.1,315.3 506.6,317.0 507.1,318.6 507.6,320.2 508.1,321.7 508.6,323.1 509.1,324.5 509.6,325.9 510.1,327.1 510.6,328.3 511.1,329.4 511.6,330.5 512.1,331.5 512.6,332.5 513.1,333.4 513.6,334.2 514.1,335.0 514.6,335.8 515.1,336.5 515.6,337.1 516.1,337.7 516.6,338.3 517.1,338.8 517.6,339.3 518.1,339.8 518.6,340.2 519.1,340.6 519.6,340.9 520.1,341.3 520.6,341.6 521.1,341.9 521.6,342.1 522.1,342.3 522.6,342.6 523.1,342.8 523.6,342.9 524.1,343.1 524.6,343.2 525.1,343.4 525.6,343.5 526.1,343.6 526.6,343.7 527.1,343.8 527.6,343.9 528.1,344.0 528.6,344.0 529.1,344.1 529.6,344.1 530.1,344.2 530.6,344.2 531.1,344.3 531.6,344.3 532.1,344.3 532.6,344.3" fill="none" stroke="#9c9c18" stroke-width="1.6"/>
<path d="M384.1,328.4 385.1,323.4 386.1,326.7 387.1,325.6 388.1,325.7 389.1,325.9 390.1,323.8 391.1,325.7 392.1,324.9 393.1,329.3 394.1,325.7 395.1,324.7 396.1,324.5 397.1,323.6 398.1,322.7 399.1,322.9 400.1,323.2 401.1,321.7 402.1,322.3 403.1,320.2 404.1,319.6 405.1,320.4 406.1,318.4 407.1,316.3 408.1,315.7 409.1,315.6 410.1,316.2 411.1,312.9 412.1,312.1 413.1,312.7 414.1,309.8 415.1,309.7 416.1,310.0 417.1,308.5 418.1,306.8 419.1,306.1 420.1,300.8 421.1,303.4 422.1,299.4 423.1,296.5 424.1,296.4 425.1,294.5 426.1,290.5 427.1,287.0 428.1,285.1 429.1,281.8 430.1,280.0 431.1,275.8 432.1,271.6 433.1,269.0 434.1,264.0 435.1,259.6 436.1,257.7 437.1,254.3 438.1,250.2 439.1,246.5 440.1,244.7 441.1,238.9 442.1,239.9 443.1,237.4 444.1,233.0 445.1,233.1 446.1,230.5 447.1,231.1 448.1,227.0 449.1,227.5 450.1,228.8 451.1,229.1 452.1,225.5 453.1,227.6 454.1,229.0 455.1,228.5 456.1,231.7 457.1,229.6 458.1,232.4 459.1,232.1 460.1,236.1 461.1,235.9 462.1,237.0 463.1,237.0 464.1,242.3 465.1,242.8 466.1,244.2 467.1,246.1 468.1,246.5 469.1,246.5 470.1,247.4 471.1,248.1 472.1,251.0 473.1,248.3 474.1,249.4 475.1,249.7 476.1,250.1 477.1,250.1 478.1,247.7 479.1,246.6 480.1,248.0 481.1,248.9 482.1,248.1 483.1,247.2 484.1,246.7 485.1,247.6 486.1,247.5 487.1,249.6 488.1,249.0 489.1,251.6 490.1,253.4 491.1,256.4 492.1,258.8 493.1,264.5 494.1,266.7 495.1,270.3 496.1,270.3 497.1,276.2 498.1,280.1 499.1,285.6 500.1,286.8 501.1,294.9 502.1,299.0 503.1,300.6 504.1,304.9 505.1,308.8 506.1,313.3 507.1,317.3 508.1,321.9 509.1,322.3 510.1,326.0 511.1,327.6 512.1,331.5 513.1,332.2 514.1,334.5 515.1,333.3 516.1,335.5 517.1,335.9 518.1,339.4 519.1,339.3 520.1,338.9 521.1,339.4 522.1,340.9 523.1,340.0 524.1,340.1 525.1,341.9 526.1,344.3 527.1,341.5 528.1,341.3 529.1,340.8 530.1,340.7 531.1,342.8 532.1,343.3" fill="none" stroke="#000" stroke-width="1.5" stroke-linejoin="round"/>
<path d="M383.5,211.6 L536.8,211.6 L536.8,350.6 L383.5,350.6 Z" fill="none" stroke="#1a1a1a" stroke-width="1.25"/>
<line x1="527.4" y1="350.6" x2="527.4" y2="352.8" stroke="#000" stroke-width="1"/>
<text x="528.1" y="363.0" font-family="Liberation Sans" font-size="8.7" font-weight="bold" font-style="normal" text-anchor="middle" fill="#000" stroke="#000" stroke-width="0.3" >396</text>
<line x1="493.2" y1="350.6" x2="493.2" y2="352.8" stroke="#000" stroke-width="1"/>
<text x="493.9" y="363.0" font-family="Liberation Sans" font-size="8.7" font-weight="bold" font-style="normal" text-anchor="middle" fill="#000" stroke="#000" stroke-width="0.3" >398</text>
<line x1="459.0" y1="350.6" x2="459.0" y2="352.8" stroke="#000" stroke-width="1"/>
<text x="459.7" y="363.0" font-family="Liberation Sans" font-size="8.7" font-weight="bold" font-style="normal" text-anchor="middle" fill="#000" stroke="#000" stroke-width="0.3" >400</text>
<line x1="424.8" y1="350.6" x2="424.8" y2="352.8" stroke="#000" stroke-width="1"/>
<text x="425.5" y="363.0" font-family="Liberation Sans" font-size="8.7" font-weight="bold" font-style="normal" text-anchor="middle" fill="#000" stroke="#000" stroke-width="0.3" >402</text>
<line x1="390.6" y1="350.6" x2="390.6" y2="352.8" stroke="#000" stroke-width="1"/>
<text x="391.3" y="363.0" font-family="Liberation Sans" font-size="8.7" font-weight="bold" font-style="normal" text-anchor="middle" fill="#000" stroke="#000" stroke-width="0.3" >404</text>
<line x1="510.3" y1="350.6" x2="510.3" y2="352.0" stroke="#000" stroke-width="0.9"/>
<line x1="476.1" y1="350.6" x2="476.1" y2="352.0" stroke="#000" stroke-width="0.9"/>
<line x1="441.9" y1="350.6" x2="441.9" y2="352.0" stroke="#000" stroke-width="0.9"/>
<line x1="407.7" y1="350.6" x2="407.7" y2="352.0" stroke="#000" stroke-width="0.9"/>
<text x="455" y="375.0" font-family="Liberation Sans" font-size="9.2" font-weight="bold" font-style="normal" text-anchor="middle" fill="#000" stroke="#000" stroke-width="0.3" >Binding energy (eV)</text>
<text x="386.3" y="223.5" font-family="Liberation Sans" font-size="11.7" font-weight="bold" font-style="normal" text-anchor="start" fill="#82068a" stroke="#82068a" stroke-width="0.1" >NC-850</text>
<text x="535.2" y="219.2" font-family="Liberation Sans" font-size="8.2" font-weight="bold" font-style="italic" text-anchor="end" fill="#000" stroke="#000" stroke-width="0.15" >XPS N 1s</text>
<text x="32.2" y="328.7" font-family="Liberation Sans" font-size="9.2" font-weight="bold" font-style="normal" text-anchor="middle" fill="#000" stroke="#000" stroke-width="0.3" >N</text>
<text x="37.4" y="324.4" font-family="Liberation Sans" font-size="5.8" font-weight="normal" font-style="normal" text-anchor="middle" fill="#000" stroke="#000" stroke-width="0.15" >o</text>
<text x="57.6" y="310.7" font-family="Liberation Sans" font-size="9.2" font-weight="bold" font-style="normal" text-anchor="middle" fill="#000" stroke="#000" stroke-width="0.3" >N</text>
<text x="62.6" y="307.2" font-family="Liberation Sans" font-size="5.8" font-weight="normal" font-style="normal" text-anchor="middle" fill="#000" stroke="#000" stroke-width="0.15" >g</text>
<text x="88.1" y="230.3" font-family="Liberation Sans" font-size="9.2" font-weight="bold" font-style="normal" text-anchor="middle" fill="#000" stroke="#000" stroke-width="0.3" >N</text>
<text x="93.3" y="225.0" font-family="Liberation Sans" font-size="5.8" font-weight="normal" font-style="normal" text-anchor="middle" fill="#000" stroke="#000" stroke-width="0.15" >h</text>
<text x="121.9" y="268.90000000000003" font-family="Liberation Sans" font-size="9.2" font-weight="bold" font-style="normal" text-anchor="middle" fill="#000" stroke="#000" stroke-width="0.3" >N</text>
<text x="126.3" y="263.9" font-family="Liberation Sans" font-size="5.8" font-weight="normal" font-style="normal" text-anchor="middle" fill="#000" stroke="#000" stroke-width="0.15" >p</text>
<text x="223.1" y="317.8" font-family="Liberation Sans" font-size="9.2" font-weight="bold" font-style="normal" text-anchor="middle" fill="#000" stroke="#000" stroke-width="0.3" >N</text>
<text x="228" y="313.5" font-family="Liberation Sans" font-size="5.8" font-weight="normal" font-style="normal" text-anchor="middle" fill="#000" stroke="#000" stroke-width="0.15" >o</text>
<text x="245.2" y="288.1" font-family="Liberation Sans" font-size="9.2" font-weight="bold" font-style="normal" text-anchor="middle" fill="#000" stroke="#000" stroke-width="0.3" >N</text>
<text x="250.2" y="283.5" font-family="Liberation Sans" font-size="5.8" font-weight="normal" font-style="normal" text-anchor="middle" fill="#000" stroke="#000" stroke-width="0.15" >g</text>
<text x="273.6" y="251.8" font-family="Liberation Sans" font-size="9.2" font-weight="bold" font-style="normal" text-anchor="middle" fill="#000" stroke="#000" stroke-width="0.3" >N</text>
<text x="279.5" y="247.6" font-family="Liberation Sans" font-size="5.8" font-weight="normal" font-style="normal" text-anchor="middle" fill="#000" stroke="#000" stroke-width="0.15" >h</text>
<text x="308.2" y="249.9" font-family="Liberation Sans" font-size="9.2" font-weight="bold" font-style="normal" text-anchor="middle" fill="#000" stroke="#000" stroke-width="0.3" >N</text>
<text x="313.5" y="245.6" font-family="Liberation Sans" font-size="5.8" font-weight="normal" font-style="normal" text-anchor="middle" fill="#000" stroke="#000" stroke-width="0.15" >p</text>
<text x="407.5" y="306.40000000000003" font-family="Liberation Sans" font-size="9.2" font-weight="bold" font-style="normal" text-anchor="middle" fill="#000" stroke="#000" stroke-width="0.3" >N</text>
<text x="413.5" y="301.5" font-family="Liberation Sans" font-size="5.8" font-weight="normal" font-style="normal" text-anchor="middle" fill="#000" stroke="#000" stroke-width="0.15" >o</text>
<text x="444.8" y="256.7" font-family="Liberation Sans" font-size="9.2" font-weight="bold" font-style="normal" text-anchor="middle" fill="#000" stroke="#000" stroke-width="0.3" >N</text>
<text x="449.8" y="252.8" font-family="Liberation Sans" font-size="5.8" font-weight="normal" font-style="normal" text-anchor="middle" fill="#000" stroke="#000" stroke-width="0.15" >g</text>
<text x="462.6" y="260.7" font-family="Liberation Sans" font-size="9.2" font-weight="bold" font-style="normal" text-anchor="middle" fill="#000" stroke="#000" stroke-width="0.3" >N</text>
<text x="467.5" y="255.4" font-family="Liberation Sans" font-size="5.8" font-weight="normal" font-style="normal" text-anchor="middle" fill="#000" stroke="#000" stroke-width="0.15" >h</text>
<text x="496.2" y="250.8" font-family="Liberation Sans" font-size="9.2" font-weight="bold" font-style="normal" text-anchor="middle" fill="#000" stroke="#000" stroke-width="0.3" >N</text>
<text x="501.1" y="246.5" font-family="Liberation Sans" font-size="5.8" font-weight="normal" font-style="normal" text-anchor="middle" fill="#000" stroke="#000" stroke-width="0.15" >p</text>
<text x="274.4" y="401.2" font-family="Liberation Serif" font-size="11" font-weight="normal" font-style="normal" text-anchor="middle" fill="#000" stroke="#000" stroke-width="0.4" >(d)</text>
</svg></body></html>
